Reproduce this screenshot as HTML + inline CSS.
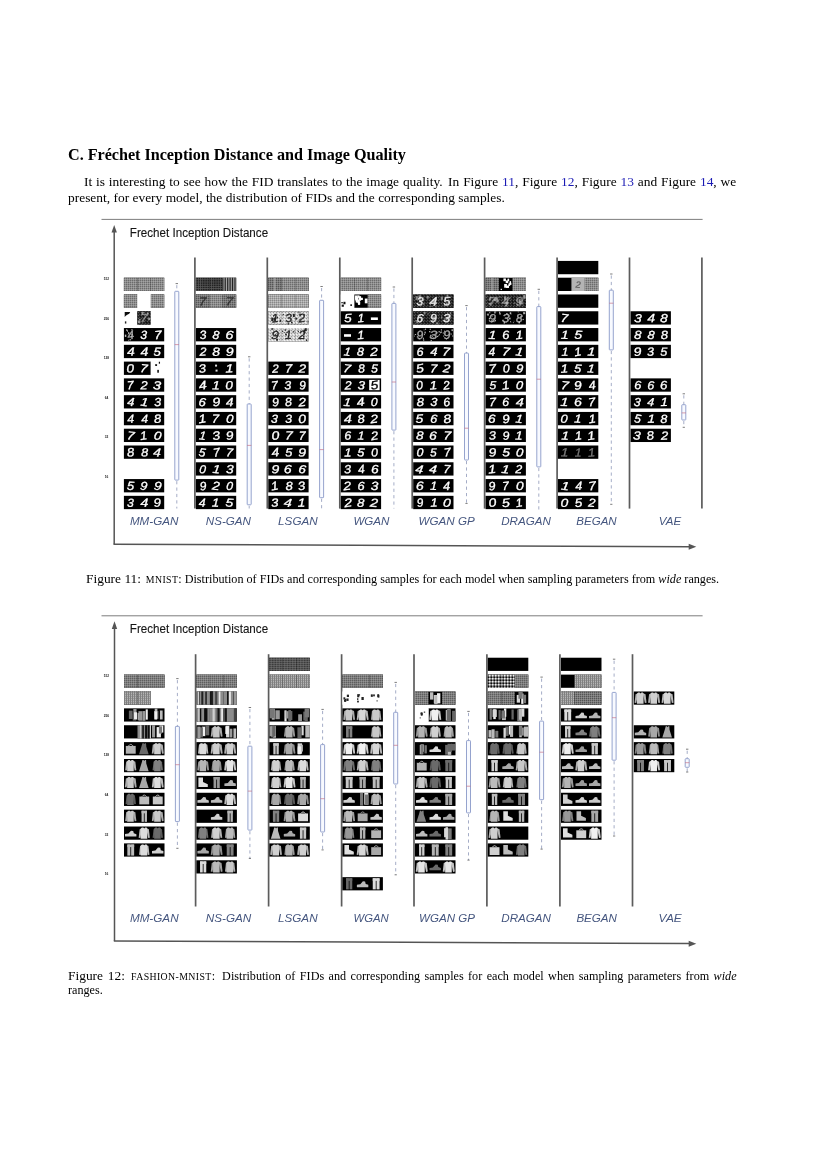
<!DOCTYPE html>
<html lang="en"><head><meta charset="utf-8"><title>Frechet Inception Distance and Image Quality</title>
<style>
html,body{margin:0;padding:0;background:#fff;}
body{width:827px;height:1169px;position:relative;overflow:hidden;font-family:"Liberation Serif",serif;color:#000;}
.t{position:absolute;white-space:nowrap;margin:0;will-change:transform;}
.h{font-weight:bold;font-size:16.17px;left:67.6px;top:146.0px;line-height:18px;letter-spacing:-0.02px;}
.p{font-size:13.43px;line-height:15.3px;}
.j{text-align:justify;text-align-last:justify;white-space:normal;}
.c{font-size:12.17px;line-height:14px;}
.c b.n{font-weight:normal;font-size:13.43px;margin-right:1.7px;}
.sc{font-size:9.8px;letter-spacing:0.4px;}
a{color:#1a1ab4;text-decoration:none;}
svg{position:absolute;left:0;top:0;will-change:transform;}
</style></head><body>
<h2 class="t h" id="hd">C. Fréchet Inception Distance and Image Quality</h2>
<p class="t p j" id="p1" style="left:84.2px;top:174.2px;width:652.2px;">It is interesting to see how the FID translates to the image quality<span style="margin-right:1.6px">.</span> In Figure <a>11</a>, Figure <a>12</a>, Figure <a>13</a> and Figure <a>14</a>, we</p>
<p class="t p" id="p2" style="left:67.6px;top:189.8px;">present, for every model, the distribution of FIDs and the corresponding samples.</p>
<p class="t c" id="c1" style="left:86.0px;top:571.5px;"><b class="n">Figure 11:</b> <span class="sc">MNIST</span>: Distribution of FIDs and corresponding samples for each model when sampling parameters from <i>wide</i> ranges.</p>
<p class="t c j" id="c2" style="left:67.8px;top:968.8px;width:668.6px;"><b class="n">Figure 12:</b> <span class="sc">FASHION-MNIST</span><span style="margin-right:2.6px">:</span> Distribution of FIDs and corresponding samples for each model when sampling parameters from <i>wide</i></p>
<p class="t c" id="c3" style="left:67.8px;top:982.6px;">ranges.</p>
<svg width="827" height="1169" viewBox="0 0 827 1169">
<defs>
<filter id="blur11" x="-2%" y="-2%" width="104%" height="104%"><feGaussianBlur stdDeviation="0.35"/></filter>
<filter id="blur12" x="-2%" y="-2%" width="104%" height="104%"><feGaussianBlur stdDeviation="0.45"/></filter>
<pattern id="pg" width="2" height="2" patternUnits="userSpaceOnUse"><rect width="2" height="2" fill="#8e8e8e"/><rect width="1" height="1" fill="#6c6c6c"/><rect x="1" y="1" width="1" height="1" fill="#a4a4a4"/></pattern>
<pattern id="ph" width="2" height="2" patternUnits="userSpaceOnUse"><rect width="2" height="2" fill="#a9a9a9"/><rect width="1" height="1" fill="#8a8a8a"/><rect x="1" y="1" width="1" height="1" fill="#c4c4c4"/></pattern>
<pattern id="pd" width="2.2" height="2.2" patternUnits="userSpaceOnUse"><rect width="2.2" height="2.2" fill="#242424"/><rect width="2.2" height="0.6" fill="#5c5c5c"/><rect width="0.6" height="2.2" fill="#5c5c5c"/></pattern>
<pattern id="pD" width="1.7" height="14" patternUnits="userSpaceOnUse"><rect width="1.7" height="14" fill="#1c1c1c"/><rect width="0.7" height="14" fill="#c8c8c8"/></pattern>
<pattern id="pm" width="2" height="2" patternUnits="userSpaceOnUse"><rect width="2" height="2" fill="#7a7a7a"/><rect width="1" height="1" fill="#555"/><rect x="1" y="1" width="1" height="1" fill="#909090"/></pattern>
<pattern id="pl" width="3" height="3" patternUnits="userSpaceOnUse"><rect width="3" height="3" fill="#d6d6d6"/><rect width="1" height="1" fill="#999"/><rect x="2" y="1" width="1" height="1" fill="#f4f4f4"/><rect x="1" y="2" width="1" height="1" fill="#b0b0b0"/></pattern>
<pattern id="pn" width="3" height="3" patternUnits="userSpaceOnUse"><rect width="3" height="3" fill="#262626"/><rect width="1" height="1" fill="#5a5a5a"/><rect x="2" y="1" width="1" height="1" fill="#0c0c0c"/><rect x="1" y="2" width="1" height="1" fill="#484848"/></pattern>
<pattern id="pN" width="3" height="3" patternUnits="userSpaceOnUse"><rect width="3" height="3" fill="#777"/><rect width="1.5" height="1.5" fill="#eee"/><rect x="1.5" y="1.5" width="1.5" height="1.5" fill="#111"/></pattern>
<pattern id="pg2" width="2" height="2" patternUnits="userSpaceOnUse"><rect width="2" height="2" fill="#7e7e7e"/><rect width="1" height="1" fill="#5e5e5e"/><rect x="1" y="1" width="1" height="1" fill="#949494"/></pattern>
<pattern id="ph2" width="2" height="2" patternUnits="userSpaceOnUse"><rect width="2" height="2" fill="#9a9a9a"/><rect width="1" height="2" fill="#808080"/><rect x="1" y="1" width="1" height="1" fill="#b4b4b4"/></pattern>
<pattern id="pd2" width="1.6" height="2" patternUnits="userSpaceOnUse"><rect width="1.6" height="2" fill="#5c5c5c"/><rect width="0.7" height="2" fill="#303030"/><rect y="1" width="1.6" height="0.5" fill="#7a7a7a"/></pattern>
</defs>
<line x1="101.5" y1="219.4" x2="702.6" y2="219.4" stroke="#6e6e6e" stroke-width="0.9"/>
<line x1="114.2" y1="228.4" x2="114.2" y2="544.2" stroke="#555" stroke-width="1.5"/>
<path d="M114.2 224.9 l-2.7 7.7 h5.4 z" fill="#555"/>
<line x1="113.5" y1="544.2" x2="690" y2="546.7" stroke="#555" stroke-width="1.5"/>
<path d="M696.3 546.75 l-7.6 -3 v6 z" fill="#555"/>
<line x1="194.9" y1="257.5" x2="194.9" y2="508.6" stroke="#5c5c5c" stroke-width="1.7"/>
<line x1="267.3" y1="257.5" x2="267.3" y2="508.6" stroke="#5c5c5c" stroke-width="1.7"/>
<line x1="339.8" y1="257.5" x2="339.8" y2="508.6" stroke="#5c5c5c" stroke-width="1.7"/>
<line x1="412.2" y1="257.5" x2="412.2" y2="508.6" stroke="#5c5c5c" stroke-width="1.7"/>
<line x1="484.6" y1="257.5" x2="484.6" y2="508.6" stroke="#5c5c5c" stroke-width="1.7"/>
<line x1="557.1" y1="257.5" x2="557.1" y2="508.6" stroke="#5c5c5c" stroke-width="1.7"/>
<line x1="629.5" y1="257.5" x2="629.5" y2="508.6" stroke="#5c5c5c" stroke-width="1.7"/>
<line x1="701.9" y1="257.5" x2="701.9" y2="508.6" stroke="#5c5c5c" stroke-width="1.7"/>
<text x="129.8" y="236.8" font-family="Liberation Sans, sans-serif" font-size="12.1" fill="#151515" stroke="#151515" stroke-width="0.12" textLength="138.3" lengthAdjust="spacingAndGlyphs">Frechet Inception Distance</text>
<text x="106.4" y="280.3" font-family="Liberation Sans, sans-serif" font-size="3.2" font-weight="bold" fill="#222" text-anchor="middle">512</text>
<text x="106.4" y="319.8" font-family="Liberation Sans, sans-serif" font-size="3.2" font-weight="bold" fill="#222" text-anchor="middle">256</text>
<text x="106.4" y="359.3" font-family="Liberation Sans, sans-serif" font-size="3.2" font-weight="bold" fill="#222" text-anchor="middle">128</text>
<text x="106.4" y="398.8" font-family="Liberation Sans, sans-serif" font-size="3.2" font-weight="bold" fill="#222" text-anchor="middle">64</text>
<text x="106.4" y="438.3" font-family="Liberation Sans, sans-serif" font-size="3.2" font-weight="bold" fill="#222" text-anchor="middle">32</text>
<text x="106.4" y="477.8" font-family="Liberation Sans, sans-serif" font-size="3.2" font-weight="bold" fill="#222" text-anchor="middle">16</text>
<g filter="url(#blur11)">
<g font-family="Liberation Sans, sans-serif" font-style="italic" text-anchor="middle">
<rect x="123.9" y="277.7" width="40.3" height="13.3" fill="#000"/>
<rect x="123.9" y="277.7" width="13.43" height="13.3" fill="url(#pg)"/>
<rect x="137.33" y="277.7" width="13.43" height="13.3" fill="url(#pg)"/>
<rect x="150.77" y="277.7" width="13.43" height="13.3" fill="url(#pg)"/>
<rect x="123.9" y="294.48" width="13.43" height="13.3" fill="#000"/>
<rect x="150.77" y="294.48" width="13.43" height="13.3" fill="#000"/>
<rect x="123.9" y="294.48" width="13.43" height="13.3" fill="url(#pg)"/>
<rect x="137.33" y="294.48" width="13.43" height="13.3" fill="#fff"/>
<rect x="150.77" y="294.48" width="13.43" height="13.3" fill="url(#pg)"/>
<rect x="137.33" y="311.26" width="13.43" height="13.3" fill="#000"/>
<rect x="123.9" y="311.26" width="13.43" height="13.3" fill="#fff"/>
<path d="M124.7 312.06 h5.5 q-0.5 2.2 -3 2.6 q-1.6 0.6 -2.5 2.4 z" fill="#0a0a0a"/>
<rect x="124.9" y="321.36" width="1.4" height="2.2" fill="#222"/>
<rect x="137.33" y="311.26" width="13.43" height="13.3" fill="url(#pn)"/>
<rect x="139.13" y="318.93" width="1.52" height="1.18" fill="#999"/>
<rect x="141.57" y="311.92" width="1.86" height="2.34" fill="#999"/>
<rect x="142.7" y="312.12" width="1.06" height="0.85" fill="#999"/>
<rect x="147.05" y="312.7" width="1.68" height="1.59" fill="#999"/>
<rect x="148.17" y="317.78" width="2" height="2.28" fill="#999"/>
<rect x="137.84" y="320.48" width="2.56" height="2.56" fill="#999"/>
<text transform="translate(144.05 317.91) rotate(-2.46) scale(1.12 1)" y="4.25" font-size="11.8" fill="#ccc" stroke="#ccc" stroke-width="0.3" opacity="0.6">7</text>
<rect x="150.77" y="311.26" width="13.43" height="13.3" fill="#fff"/>
<rect x="123.9" y="328.04" width="40.3" height="13.3" fill="#000"/>
<rect x="130.8" y="336.35" width="1.11" height="0.91" fill="#bbb"/>
<rect x="126.21" y="329.23" width="1.11" height="1.65" fill="#bbb"/>
<rect x="131.53" y="334.09" width="1.11" height="1.42" fill="#bbb"/>
<rect x="129.55" y="339.12" width="1.3" height="1.3" fill="#bbb"/>
<rect x="127.01" y="330.26" width="0.93" height="1.44" fill="#bbb"/>
<rect x="127.73" y="334.29" width="0.67" height="0.73" fill="#bbb"/>
<rect x="131.47" y="328.94" width="1" height="1.27" fill="#bbb"/>
<rect x="128.24" y="339.75" width="0.75" height="0.87" fill="#bbb"/>
<rect x="124.83" y="334.64" width="1.47" height="2.3" fill="#bbb"/>
<rect x="128.01" y="332.23" width="1.34" height="1.67" fill="#bbb"/>
<text transform="translate(130.62 334.69) rotate(-8.76) scale(1.02 1)" y="4.25" font-size="11.8" fill="#ddd" stroke="#ddd" stroke-width="0.3" opacity="0.75">4</text>
<text transform="translate(143.77 334.69) rotate(2.55) scale(1.01 1)" y="4.25" font-size="11.8" fill="#fff" stroke="#fff" stroke-width="0.3">3</text>
<text transform="translate(157.76 334.69) rotate(-4.43) scale(1.13 1)" y="4.25" font-size="11.8" fill="#fff" stroke="#fff" stroke-width="0.3">7</text>
<rect x="123.9" y="344.82" width="40.3" height="13.3" fill="#000"/>
<text transform="translate(130.83 351.47) rotate(-1.98) scale(1.16 1)" y="4.25" font-size="11.8" fill="#fff" stroke="#fff" stroke-width="0.3">4</text>
<text transform="translate(144.51 351.47) rotate(-3.75) scale(1.21 1)" y="4.25" font-size="11.8" fill="#fff" stroke="#fff" stroke-width="0.3">4</text>
<text transform="translate(157.31 351.47) rotate(1) scale(1.11 1)" y="4.25" font-size="11.8" fill="#fff" stroke="#fff" stroke-width="0.3">5</text>
<rect x="123.9" y="361.6" width="26.87" height="13.3" fill="#000"/>
<text transform="translate(130.28 368.25) rotate(-4.83) scale(1.16 1)" y="4.25" font-size="11.8" fill="#fff" stroke="#fff" stroke-width="0.3">0</text>
<text transform="translate(143.93 368.25) rotate(6.5) scale(1.11 1)" y="4.25" font-size="11.8" fill="#fff" stroke="#fff" stroke-width="0.3">7</text>
<rect x="150.77" y="361.6" width="13.43" height="13.3" fill="#fff"/>
<rect x="155.67" y="364.95" width="1.23" height="1.05" fill="#111"/>
<rect x="157.28" y="369.86" width="1.6" height="2.86" fill="#111"/>
<rect x="155.13" y="364.22" width="1.96" height="1.55" fill="#111"/>
<rect x="158.81" y="361.75" width="1.21" height="1.96" fill="#111"/>
<rect x="123.9" y="378.38" width="40.3" height="13.3" fill="#000"/>
<text transform="translate(130.24 385.03) rotate(-4.93) scale(1.03 1)" y="4.25" font-size="11.8" fill="#fff" stroke="#fff" stroke-width="0.3">7</text>
<text transform="translate(144.09 385.03) rotate(0.98) scale(1.07 1)" y="4.25" font-size="11.8" fill="#fff" stroke="#fff" stroke-width="0.3">2</text>
<text transform="translate(157.03 385.03) rotate(5.47) scale(1.21 1)" y="4.25" font-size="11.8" fill="#fff" stroke="#fff" stroke-width="0.3">3</text>
<rect x="123.9" y="395.16" width="40.3" height="13.3" fill="#000"/>
<text transform="translate(130.8 401.81) rotate(3.32) scale(1.1 1)" y="4.25" font-size="11.8" fill="#fff" stroke="#fff" stroke-width="0.3">4</text>
<text transform="translate(144.5 401.81) rotate(7.13) scale(1.15 1)" y="4.25" font-size="11.8" fill="#fff" stroke="#fff" stroke-width="0.3">1</text>
<text transform="translate(157.55 401.81) rotate(-2.83) scale(1.09 1)" y="4.25" font-size="11.8" fill="#fff" stroke="#fff" stroke-width="0.3">3</text>
<rect x="123.9" y="411.94" width="40.3" height="13.3" fill="#000"/>
<text transform="translate(130.59 418.59) rotate(-2.79) scale(1.04 1)" y="4.25" font-size="11.8" fill="#fff" stroke="#fff" stroke-width="0.3">4</text>
<text transform="translate(144.63 418.59) rotate(-2.07) scale(1.02 1)" y="4.25" font-size="11.8" fill="#fff" stroke="#fff" stroke-width="0.3">4</text>
<text transform="translate(157.6 418.59) rotate(-8.16) scale(1.12 1)" y="4.25" font-size="11.8" fill="#fff" stroke="#fff" stroke-width="0.3">8</text>
<rect x="123.9" y="428.72" width="40.3" height="13.3" fill="#000"/>
<text transform="translate(130.66 435.37) rotate(7.08) scale(1.14 1)" y="4.25" font-size="11.8" fill="#fff" stroke="#fff" stroke-width="0.3">7</text>
<text transform="translate(143.53 435.37) rotate(-6.26) scale(1.08 1)" y="4.25" font-size="11.8" fill="#fff" stroke="#fff" stroke-width="0.3">1</text>
<text transform="translate(157.64 435.37) rotate(7.2) scale(1.13 1)" y="4.25" font-size="11.8" fill="#fff" stroke="#fff" stroke-width="0.3">0</text>
<rect x="123.9" y="445.5" width="40.3" height="13.3" fill="#000"/>
<text transform="translate(130.59 452.15) rotate(-7.92) scale(1.11 1)" y="4.25" font-size="11.8" fill="#fff" stroke="#fff" stroke-width="0.3">8</text>
<text transform="translate(144.62 452.15) rotate(-1.35) scale(1.07 1)" y="4.25" font-size="11.8" fill="#fff" stroke="#fff" stroke-width="0.3">8</text>
<text transform="translate(157.06 452.15) rotate(3.49) scale(1.16 1)" y="4.25" font-size="11.8" fill="#fff" stroke="#fff" stroke-width="0.3">4</text>
<rect x="123.9" y="479.06" width="40.3" height="13.3" fill="#000"/>
<text transform="translate(130.59 485.71) rotate(2.46) scale(1.11 1)" y="4.25" font-size="11.8" fill="#fff" stroke="#fff" stroke-width="0.3">5</text>
<text transform="translate(143.7 485.71) rotate(7.14) scale(1.08 1)" y="4.25" font-size="11.8" fill="#fff" stroke="#fff" stroke-width="0.3">9</text>
<text transform="translate(157.71 485.71) rotate(6.45) scale(1.17 1)" y="4.25" font-size="11.8" fill="#fff" stroke="#fff" stroke-width="0.3">9</text>
<rect x="123.9" y="495.84" width="40.3" height="13.3" fill="#000"/>
<text transform="translate(130.37 502.49) rotate(1.57) scale(1.02 1)" y="4.25" font-size="11.8" fill="#fff" stroke="#fff" stroke-width="0.3">3</text>
<text transform="translate(144.46 502.49) rotate(-0.67) scale(1.2 1)" y="4.25" font-size="11.8" fill="#fff" stroke="#fff" stroke-width="0.3">4</text>
<text transform="translate(157.31 502.49) rotate(-5.99) scale(1.12 1)" y="4.25" font-size="11.8" fill="#fff" stroke="#fff" stroke-width="0.3">9</text>
<rect x="195.9" y="277.7" width="40.3" height="13.3" fill="#000"/>
<rect x="195.9" y="277.7" width="13.43" height="13.3" fill="url(#pd)"/>
<rect x="209.33" y="277.7" width="13.43" height="13.3" fill="url(#pd)"/>
<rect x="222.77" y="277.7" width="13.43" height="13.3" fill="url(#pD)"/>
<rect x="195.9" y="294.48" width="40.3" height="13.3" fill="#000"/>
<rect x="195.9" y="294.48" width="13.43" height="13.3" fill="url(#pm)"/>
<text transform="translate(202.62 301.13) rotate(-0.95) scale(1.14 1)" y="4.25" font-size="11.8" fill="#222" stroke="#222" stroke-width="0.3" opacity="0.8">7</text>
<rect x="209.33" y="294.48" width="13.43" height="13.3" fill="url(#pg)"/>
<rect x="222.77" y="294.48" width="13.43" height="13.3" fill="url(#pm)"/>
<text transform="translate(229.48 301.13) rotate(1.04) scale(1.17 1)" y="4.25" font-size="11.8" fill="#222" stroke="#222" stroke-width="0.3" opacity="0.8">7</text>
<rect x="195.9" y="328.04" width="40.3" height="13.3" fill="#000"/>
<text transform="translate(202.93 334.69) rotate(-6.49) scale(1.05 1)" y="4.25" font-size="11.8" fill="#fff" stroke="#fff" stroke-width="0.3">3</text>
<text transform="translate(215.93 334.69) rotate(4.46) scale(1.04 1)" y="4.25" font-size="11.8" fill="#fff" stroke="#fff" stroke-width="0.3">8</text>
<text transform="translate(229.47 334.69) rotate(3.16) scale(1.22 1)" y="4.25" font-size="11.8" fill="#fff" stroke="#fff" stroke-width="0.3">6</text>
<rect x="195.9" y="344.82" width="40.3" height="13.3" fill="#000"/>
<text transform="translate(202.96 351.47) rotate(-1.5) scale(1.04 1)" y="4.25" font-size="11.8" fill="#fff" stroke="#fff" stroke-width="0.3">2</text>
<text transform="translate(216.18 351.47) rotate(-3.8) scale(1.18 1)" y="4.25" font-size="11.8" fill="#fff" stroke="#fff" stroke-width="0.3">8</text>
<text transform="translate(229.75 351.47) rotate(-3.71) scale(1.21 1)" y="4.25" font-size="11.8" fill="#fff" stroke="#fff" stroke-width="0.3">9</text>
<rect x="195.9" y="361.6" width="40.3" height="13.3" fill="#000"/>
<text transform="translate(202.11 368.25) rotate(-8.16) scale(1.1 1)" y="4.25" font-size="11.8" fill="#fff" stroke="#fff" stroke-width="0.3">3</text>
<rect x="215.05" y="364.6" width="2" height="2" fill="#ddd"/>
<rect x="215.55" y="369.6" width="2" height="2" fill="#ddd"/>
<text transform="translate(229.29 368.25) rotate(-1.31) scale(1.22 1)" y="4.25" font-size="11.8" fill="#fff" stroke="#fff" stroke-width="0.3">1</text>
<rect x="195.9" y="378.38" width="40.3" height="13.3" fill="#000"/>
<text transform="translate(202.75 385.03) rotate(-9.97) scale(1.2 1)" y="4.25" font-size="11.8" fill="#fff" stroke="#fff" stroke-width="0.3">4</text>
<text transform="translate(215.86 385.03) rotate(1.58) scale(1.18 1)" y="4.25" font-size="11.8" fill="#fff" stroke="#fff" stroke-width="0.3">1</text>
<text transform="translate(229.03 385.03) rotate(-3.01) scale(1.16 1)" y="4.25" font-size="11.8" fill="#fff" stroke="#fff" stroke-width="0.3">0</text>
<rect x="195.9" y="395.16" width="40.3" height="13.3" fill="#000"/>
<text transform="translate(202.26 401.81) rotate(6) scale(1.1 1)" y="4.25" font-size="11.8" fill="#fff" stroke="#fff" stroke-width="0.3">6</text>
<text transform="translate(216.21 401.81) rotate(-8.44) scale(1.21 1)" y="4.25" font-size="11.8" fill="#fff" stroke="#fff" stroke-width="0.3">9</text>
<text transform="translate(229.75 401.81) rotate(-1.66) scale(1.16 1)" y="4.25" font-size="11.8" fill="#fff" stroke="#fff" stroke-width="0.3">4</text>
<rect x="195.9" y="411.94" width="40.3" height="13.3" fill="#000"/>
<text transform="translate(202.12 418.59) rotate(-7.14) scale(1.22 1)" y="4.25" font-size="11.8" fill="#fff" stroke="#fff" stroke-width="0.3">1</text>
<text transform="translate(215.48 418.59) rotate(0.63) scale(1.1 1)" y="4.25" font-size="11.8" fill="#fff" stroke="#fff" stroke-width="0.3">7</text>
<text transform="translate(229.67 418.59) rotate(1.01) scale(1.13 1)" y="4.25" font-size="11.8" fill="#fff" stroke="#fff" stroke-width="0.3">0</text>
<rect x="195.9" y="428.72" width="40.3" height="13.3" fill="#000"/>
<text transform="translate(202.59 435.37) rotate(6.87) scale(1.03 1)" y="4.25" font-size="11.8" fill="#fff" stroke="#fff" stroke-width="0.3">1</text>
<text transform="translate(216.11 435.37) rotate(-9.61) scale(1.18 1)" y="4.25" font-size="11.8" fill="#fff" stroke="#fff" stroke-width="0.3">3</text>
<text transform="translate(229.75 435.37) rotate(-8.15) scale(1.16 1)" y="4.25" font-size="11.8" fill="#fff" stroke="#fff" stroke-width="0.3">9</text>
<rect x="195.9" y="445.5" width="40.3" height="13.3" fill="#000"/>
<text transform="translate(202.18 452.15) rotate(7.76) scale(1.04 1)" y="4.25" font-size="11.8" fill="#fff" stroke="#fff" stroke-width="0.3">5</text>
<text transform="translate(216.5 452.15) rotate(-9.5) scale(1.05 1)" y="4.25" font-size="11.8" fill="#fff" stroke="#fff" stroke-width="0.3">7</text>
<text transform="translate(229.48 452.15) rotate(3.75) scale(1.07 1)" y="4.25" font-size="11.8" fill="#fff" stroke="#fff" stroke-width="0.3">7</text>
<rect x="195.9" y="462.28" width="40.3" height="13.3" fill="#000"/>
<text transform="translate(202.67 468.93) rotate(5.02) scale(1.01 1)" y="4.25" font-size="11.8" fill="#fff" stroke="#fff" stroke-width="0.3">0</text>
<text transform="translate(216.34 468.93) rotate(6.16) scale(1.15 1)" y="4.25" font-size="11.8" fill="#fff" stroke="#fff" stroke-width="0.3">1</text>
<text transform="translate(229.86 468.93) rotate(-0.7) scale(1.18 1)" y="4.25" font-size="11.8" fill="#fff" stroke="#fff" stroke-width="0.3">3</text>
<rect x="195.9" y="479.06" width="40.3" height="13.3" fill="#000"/>
<text transform="translate(203.07 485.71) rotate(-7.65) scale(1.03 1)" y="4.25" font-size="11.8" fill="#fff" stroke="#fff" stroke-width="0.3">9</text>
<text transform="translate(216.06 485.71) rotate(5.71) scale(1.17 1)" y="4.25" font-size="11.8" fill="#fff" stroke="#fff" stroke-width="0.3">2</text>
<text transform="translate(229.61 485.71) rotate(3.97) scale(1.03 1)" y="4.25" font-size="11.8" fill="#fff" stroke="#fff" stroke-width="0.3">0</text>
<rect x="195.9" y="495.84" width="40.3" height="13.3" fill="#000"/>
<text transform="translate(202.19 502.49) rotate(1.14) scale(1.03 1)" y="4.25" font-size="11.8" fill="#fff" stroke="#fff" stroke-width="0.3">4</text>
<text transform="translate(215.52 502.49) rotate(2.28) scale(1.12 1)" y="4.25" font-size="11.8" fill="#fff" stroke="#fff" stroke-width="0.3">1</text>
<text transform="translate(229.46 502.49) rotate(3.98) scale(1.19 1)" y="4.25" font-size="11.8" fill="#fff" stroke="#fff" stroke-width="0.3">5</text>
<rect x="268.3" y="277.7" width="40.3" height="13.3" fill="#000"/>
<rect x="268.3" y="277.7" width="13.43" height="13.3" fill="url(#pm)"/>
<rect x="274.35" y="277.7" width="0.9" height="13.3" fill="#b0b0b0"/>
<rect x="281.73" y="277.7" width="13.43" height="13.3" fill="url(#pg)"/>
<rect x="295.17" y="277.7" width="13.43" height="13.3" fill="url(#pg)"/>
<rect x="268.3" y="294.48" width="40.3" height="13.3" fill="#000"/>
<rect x="268.3" y="294.48" width="13.43" height="13.3" fill="url(#ph)"/>
<rect x="281.73" y="294.48" width="13.43" height="13.3" fill="url(#ph)"/>
<rect x="295.17" y="294.48" width="13.43" height="13.3" fill="url(#ph)"/>
<rect x="268.3" y="311.26" width="40.3" height="13.3" fill="#000"/>
<rect x="268.3" y="311.26" width="13.43" height="13.3" fill="url(#pl)"/>
<text transform="translate(275.02 317.91) rotate(-5.53) scale(1.06 1)" y="4.25" font-size="11.8" fill="#111" stroke="#111" stroke-width="0.3" opacity="0.9">1</text>
<rect x="274.24" y="317.76" width="1.73" height="2.65" fill="#222"/>
<rect x="273.41" y="318.25" width="1.89" height="2.38" fill="#222"/>
<rect x="276.63" y="316.64" width="1.41" height="1.82" fill="#222"/>
<rect x="279.65" y="319.6" width="1.37" height="2.29" fill="#222"/>
<rect x="271.29" y="317.62" width="1.93" height="3.35" fill="#222"/>
<rect x="281.73" y="311.26" width="13.43" height="13.3" fill="url(#pl)"/>
<text transform="translate(288.45 317.91) rotate(-7.53) scale(1.03 1)" y="4.25" font-size="11.8" fill="#111" stroke="#111" stroke-width="0.3" opacity="0.9">3</text>
<rect x="282.61" y="314.14" width="1.33" height="1.04" fill="#222"/>
<rect x="291.01" y="321.75" width="1.6" height="1.6" fill="#222"/>
<rect x="290.65" y="319.39" width="0.99" height="0.84" fill="#222"/>
<rect x="292.93" y="313.77" width="1.86" height="3.25" fill="#222"/>
<rect x="287.66" y="323.16" width="1.28" height="1.28" fill="#222"/>
<rect x="295.17" y="311.26" width="13.43" height="13.3" fill="url(#pl)"/>
<text transform="translate(301.88 317.91) rotate(-7.09) scale(1.09 1)" y="4.25" font-size="11.8" fill="#111" stroke="#111" stroke-width="0.3" opacity="0.9">2</text>
<rect x="299.24" y="313.59" width="1.42" height="1.49" fill="#222"/>
<rect x="295.4" y="317.71" width="1.67" height="1.97" fill="#222"/>
<rect x="299.35" y="319.05" width="0.82" height="1.04" fill="#222"/>
<rect x="307.54" y="321.05" width="0.88" height="1.55" fill="#222"/>
<rect x="298.49" y="311.75" width="0.93" height="1.44" fill="#222"/>
<rect x="268.3" y="328.04" width="40.3" height="13.3" fill="#000"/>
<rect x="268.3" y="328.04" width="13.43" height="13.3" fill="url(#pl)"/>
<text transform="translate(275.02 334.69) rotate(3.6) scale(1.18 1)" y="4.25" font-size="11.8" fill="#111" stroke="#111" stroke-width="0.3" opacity="0.9">9</text>
<rect x="276.15" y="338.9" width="1.82" height="1.82" fill="#222"/>
<rect x="274.82" y="334.22" width="1.29" height="1.6" fill="#222"/>
<rect x="271.72" y="337.72" width="1.19" height="1.08" fill="#222"/>
<rect x="271.41" y="328.23" width="1.87" height="1.49" fill="#222"/>
<rect x="275.79" y="330.75" width="1.11" height="1.1" fill="#222"/>
<rect x="281.73" y="328.04" width="13.43" height="13.3" fill="url(#pl)"/>
<text transform="translate(288.45 334.69) rotate(-1.83) scale(1.07 1)" y="4.25" font-size="11.8" fill="#111" stroke="#111" stroke-width="0.3" opacity="0.9">1</text>
<rect x="292.83" y="331.21" width="1.46" height="1.23" fill="#222"/>
<rect x="284.59" y="329.34" width="1.43" height="1.26" fill="#222"/>
<rect x="284.27" y="331.92" width="0.86" height="0.89" fill="#222"/>
<rect x="285.13" y="333.84" width="1.71" height="1.53" fill="#222"/>
<rect x="281.96" y="331.07" width="1.22" height="0.87" fill="#222"/>
<rect x="295.17" y="328.04" width="13.43" height="13.3" fill="url(#pl)"/>
<text transform="translate(301.88 334.69) rotate(-0.74) scale(1.05 1)" y="4.25" font-size="11.8" fill="#111" stroke="#111" stroke-width="0.3" opacity="0.9">2</text>
<rect x="303.13" y="335.82" width="1.34" height="1.9" fill="#222"/>
<rect x="305.81" y="339.53" width="1.46" height="1.46" fill="#222"/>
<rect x="297.81" y="330.82" width="1.17" height="1.07" fill="#222"/>
<rect x="303.6" y="329.64" width="1.86" height="3.32" fill="#222"/>
<rect x="304.75" y="328.2" width="1.98" height="2.75" fill="#222"/>
<rect x="268.3" y="361.6" width="40.3" height="13.3" fill="#000"/>
<text transform="translate(275.47 368.25) rotate(-2.25) scale(1.01 1)" y="4.25" font-size="11.8" fill="#fff" stroke="#fff" stroke-width="0.3">2</text>
<text transform="translate(288.65 368.25) rotate(-3.14) scale(1.11 1)" y="4.25" font-size="11.8" fill="#fff" stroke="#fff" stroke-width="0.3">7</text>
<text transform="translate(302.45 368.25) rotate(0.78) scale(1.15 1)" y="4.25" font-size="11.8" fill="#fff" stroke="#fff" stroke-width="0.3">2</text>
<rect x="268.3" y="378.38" width="40.3" height="13.3" fill="#000"/>
<text transform="translate(274.47 385.03) rotate(-6.66) scale(1.06 1)" y="4.25" font-size="11.8" fill="#fff" stroke="#fff" stroke-width="0.3">7</text>
<text transform="translate(287.85 385.03) rotate(-3.45) scale(1.07 1)" y="4.25" font-size="11.8" fill="#fff" stroke="#fff" stroke-width="0.3">3</text>
<text transform="translate(302.47 385.03) rotate(-4.18) scale(1.01 1)" y="4.25" font-size="11.8" fill="#fff" stroke="#fff" stroke-width="0.3">9</text>
<rect x="268.3" y="395.16" width="40.3" height="13.3" fill="#000"/>
<text transform="translate(275.48 401.81) rotate(-6.08) scale(1.04 1)" y="4.25" font-size="11.8" fill="#fff" stroke="#fff" stroke-width="0.3">9</text>
<text transform="translate(288.25 401.81) rotate(-8.49) scale(1.06 1)" y="4.25" font-size="11.8" fill="#fff" stroke="#fff" stroke-width="0.3">8</text>
<text transform="translate(302.07 401.81) rotate(-5.53) scale(1.17 1)" y="4.25" font-size="11.8" fill="#fff" stroke="#fff" stroke-width="0.3">2</text>
<rect x="268.3" y="411.94" width="40.3" height="13.3" fill="#000"/>
<text transform="translate(274.53 418.59) rotate(4.71) scale(1.03 1)" y="4.25" font-size="11.8" fill="#fff" stroke="#fff" stroke-width="0.3">3</text>
<text transform="translate(288.55 418.59) rotate(-2.91) scale(1.07 1)" y="4.25" font-size="11.8" fill="#fff" stroke="#fff" stroke-width="0.3">3</text>
<text transform="translate(302.04 418.59) rotate(-8.48) scale(1.21 1)" y="4.25" font-size="11.8" fill="#fff" stroke="#fff" stroke-width="0.3">0</text>
<rect x="268.3" y="428.72" width="40.3" height="13.3" fill="#000"/>
<text transform="translate(275.44 435.37) rotate(-7.21) scale(1.2 1)" y="4.25" font-size="11.8" fill="#fff" stroke="#fff" stroke-width="0.3">0</text>
<text transform="translate(288.79 435.37) rotate(0.74) scale(1.17 1)" y="4.25" font-size="11.8" fill="#fff" stroke="#fff" stroke-width="0.3">7</text>
<text transform="translate(302.15 435.37) rotate(-1.1) scale(1.06 1)" y="4.25" font-size="11.8" fill="#fff" stroke="#fff" stroke-width="0.3">7</text>
<rect x="268.3" y="445.5" width="40.3" height="13.3" fill="#000"/>
<text transform="translate(275.16 452.15) rotate(-7.39) scale(1.18 1)" y="4.25" font-size="11.8" fill="#fff" stroke="#fff" stroke-width="0.3">4</text>
<text transform="translate(288.71 452.15) rotate(-0.77) scale(1.09 1)" y="4.25" font-size="11.8" fill="#fff" stroke="#fff" stroke-width="0.3">5</text>
<text transform="translate(302.12 452.15) rotate(-0.9) scale(1.2 1)" y="4.25" font-size="11.8" fill="#fff" stroke="#fff" stroke-width="0.3">9</text>
<rect x="268.3" y="462.28" width="40.3" height="13.3" fill="#000"/>
<text transform="translate(275.32 468.93) rotate(0.23) scale(1.18 1)" y="4.25" font-size="11.8" fill="#fff" stroke="#fff" stroke-width="0.3">9</text>
<text transform="translate(287.87 468.93) rotate(2.36) scale(1.18 1)" y="4.25" font-size="11.8" fill="#fff" stroke="#fff" stroke-width="0.3">6</text>
<text transform="translate(302.14 468.93) rotate(7.21) scale(1.14 1)" y="4.25" font-size="11.8" fill="#fff" stroke="#fff" stroke-width="0.3">6</text>
<rect x="268.3" y="479.06" width="40.3" height="13.3" fill="#000"/>
<text transform="translate(274.52 485.71) rotate(-9.25) scale(1.14 1)" y="4.25" font-size="11.8" fill="#fff" stroke="#fff" stroke-width="0.3">1</text>
<text transform="translate(289 485.71) rotate(-3.22) scale(1.1 1)" y="4.25" font-size="11.8" fill="#fff" stroke="#fff" stroke-width="0.3">8</text>
<text transform="translate(301.34 485.71) rotate(-9.66) scale(1.12 1)" y="4.25" font-size="11.8" fill="#fff" stroke="#fff" stroke-width="0.3">3</text>
<rect x="268.3" y="495.84" width="40.3" height="13.3" fill="#000"/>
<text transform="translate(274.71 502.49) rotate(-5.25) scale(1.1 1)" y="4.25" font-size="11.8" fill="#fff" stroke="#fff" stroke-width="0.3">3</text>
<text transform="translate(287.93 502.49) rotate(6.79) scale(1.2 1)" y="4.25" font-size="11.8" fill="#fff" stroke="#fff" stroke-width="0.3">4</text>
<text transform="translate(301.39 502.49) rotate(-0.53) scale(1.16 1)" y="4.25" font-size="11.8" fill="#fff" stroke="#fff" stroke-width="0.3">1</text>
<rect x="340.8" y="277.7" width="40.3" height="13.3" fill="#000"/>
<rect x="340.8" y="277.7" width="13.43" height="13.3" fill="url(#pg)"/>
<rect x="354.23" y="277.7" width="13.43" height="13.3" fill="url(#pg)"/>
<rect x="367.67" y="277.7" width="13.43" height="13.3" fill="url(#pg)"/>
<rect x="354.23" y="294.48" width="26.87" height="13.3" fill="#000"/>
<rect x="340.8" y="294.48" width="13.43" height="13.3" fill="#fff"/>
<rect x="350.32" y="304.33" width="1.66" height="1.59" fill="#111"/>
<rect x="343.42" y="301.79" width="2.06" height="2.48" fill="#111"/>
<rect x="341.66" y="304.6" width="2.18" height="2.18" fill="#111"/>
<rect x="341.36" y="302.01" width="1.4" height="1.29" fill="#111"/>
<rect x="357.97" y="301.74" width="2.16" height="3.16" fill="#fff"/>
<rect x="355.73" y="299.84" width="2.19" height="2.71" fill="#fff"/>
<rect x="355.3" y="296.78" width="2.76" height="3.41" fill="#fff"/>
<rect x="357.4" y="299.59" width="2.33" height="3.6" fill="#fff"/>
<rect x="360.08" y="297.76" width="2.79" height="2.22" fill="#fff"/>
<rect x="357.56" y="295.35" width="1.96" height="2.46" fill="#fff"/>
<rect x="364.81" y="298.55" width="2.79" height="4.77" fill="#fff"/>
<rect x="355.04" y="295.44" width="2.69" height="4.09" fill="#fff"/>
<rect x="358.48" y="301.53" width="1.62" height="2.26" fill="#fff"/>
<rect x="355.56" y="298.74" width="1.65" height="2.06" fill="#fff"/>
<rect x="358.5" y="296.18" width="2.6" height="4.54" fill="#fff"/>
<rect x="367.67" y="294.48" width="13.43" height="13.3" fill="url(#pg)"/>
<rect x="340.8" y="311.26" width="40.3" height="13.3" fill="#000"/>
<text transform="translate(347.73 317.91) rotate(-2.7) scale(1.16 1)" y="4.25" font-size="11.8" fill="#fff" stroke="#fff" stroke-width="0.3">5</text>
<text transform="translate(360.85 317.91) rotate(-3.23) scale(1.03 1)" y="4.25" font-size="11.8" fill="#fff" stroke="#fff" stroke-width="0.3">1</text>
<rect x="370.88" y="317.41" width="7" height="2.6" fill="#fff"/>
<rect x="340.8" y="328.04" width="40.3" height="13.3" fill="#000"/>
<rect x="344.02" y="334.19" width="7" height="2.6" fill="#fff"/>
<text transform="translate(360.75 334.69) rotate(-4.16) scale(1.07 1)" y="4.25" font-size="11.8" fill="#fff" stroke="#fff" stroke-width="0.3">1</text>
<rect x="340.8" y="344.82" width="40.3" height="13.3" fill="#000"/>
<text transform="translate(347.39 351.47) rotate(6.92) scale(1.04 1)" y="4.25" font-size="11.8" fill="#fff" stroke="#fff" stroke-width="0.3">1</text>
<text transform="translate(360.36 351.47) rotate(3.32) scale(1.06 1)" y="4.25" font-size="11.8" fill="#fff" stroke="#fff" stroke-width="0.3">8</text>
<text transform="translate(373.86 351.47) rotate(-2.98) scale(1.19 1)" y="4.25" font-size="11.8" fill="#fff" stroke="#fff" stroke-width="0.3">2</text>
<rect x="340.8" y="361.6" width="40.3" height="13.3" fill="#000"/>
<text transform="translate(347.01 368.25) rotate(6.66) scale(1.17 1)" y="4.25" font-size="11.8" fill="#fff" stroke="#fff" stroke-width="0.3">7</text>
<text transform="translate(361.38 368.25) rotate(-4.95) scale(1.01 1)" y="4.25" font-size="11.8" fill="#fff" stroke="#fff" stroke-width="0.3">8</text>
<text transform="translate(374.58 368.25) rotate(1.43) scale(1.03 1)" y="4.25" font-size="11.8" fill="#fff" stroke="#fff" stroke-width="0.3">5</text>
<rect x="340.8" y="378.38" width="40.3" height="13.3" fill="#000"/>
<text transform="translate(348.08 385.03) rotate(-2.15) scale(1.07 1)" y="4.25" font-size="11.8" fill="#fff" stroke="#fff" stroke-width="0.3">2</text>
<text transform="translate(361.28 385.03) rotate(4.13) scale(1.09 1)" y="4.25" font-size="11.8" fill="#fff" stroke="#fff" stroke-width="0.3">3</text>
<rect x="369.17" y="379.88" width="10.43" height="10.3" fill="#fff"/>
<text transform="translate(374.38 385.03) rotate(-9.48) scale(1.17 1)" y="4.25" font-size="11.8" fill="#000" stroke="#000" stroke-width="0.3">5</text>
<rect x="340.8" y="395.16" width="40.3" height="13.3" fill="#000"/>
<text transform="translate(347.4 401.81) rotate(5.76) scale(1.12 1)" y="4.25" font-size="11.8" fill="#fff" stroke="#fff" stroke-width="0.3">1</text>
<text transform="translate(360.59 401.81) rotate(-8.55) scale(1.21 1)" y="4.25" font-size="11.8" fill="#fff" stroke="#fff" stroke-width="0.3">4</text>
<text transform="translate(374.28 401.81) rotate(1.07) scale(1.03 1)" y="4.25" font-size="11.8" fill="#fff" stroke="#fff" stroke-width="0.3">0</text>
<rect x="340.8" y="411.94" width="40.3" height="13.3" fill="#000"/>
<text transform="translate(347.96 418.59) rotate(-1.26) scale(1.2 1)" y="4.25" font-size="11.8" fill="#fff" stroke="#fff" stroke-width="0.3">4</text>
<text transform="translate(361.01 418.59) rotate(-6.93) scale(1.09 1)" y="4.25" font-size="11.8" fill="#fff" stroke="#fff" stroke-width="0.3">8</text>
<text transform="translate(374.12 418.59) rotate(-5.4) scale(1.16 1)" y="4.25" font-size="11.8" fill="#fff" stroke="#fff" stroke-width="0.3">2</text>
<rect x="340.8" y="428.72" width="40.3" height="13.3" fill="#000"/>
<text transform="translate(347.7 435.37) rotate(-2.69) scale(1.05 1)" y="4.25" font-size="11.8" fill="#fff" stroke="#fff" stroke-width="0.3">6</text>
<text transform="translate(360.93 435.37) rotate(2.04) scale(1.03 1)" y="4.25" font-size="11.8" fill="#fff" stroke="#fff" stroke-width="0.3">1</text>
<text transform="translate(374.56 435.37) rotate(-8.65) scale(1.11 1)" y="4.25" font-size="11.8" fill="#fff" stroke="#fff" stroke-width="0.3">2</text>
<rect x="340.8" y="445.5" width="40.3" height="13.3" fill="#000"/>
<text transform="translate(347.89 452.15) rotate(-0.09) scale(1.1 1)" y="4.25" font-size="11.8" fill="#fff" stroke="#fff" stroke-width="0.3">1</text>
<text transform="translate(360.75 452.15) rotate(3.67) scale(1.09 1)" y="4.25" font-size="11.8" fill="#fff" stroke="#fff" stroke-width="0.3">5</text>
<text transform="translate(374.44 452.15) rotate(-5.61) scale(1.04 1)" y="4.25" font-size="11.8" fill="#fff" stroke="#fff" stroke-width="0.3">0</text>
<rect x="340.8" y="462.28" width="40.3" height="13.3" fill="#000"/>
<text transform="translate(347.58 468.93) rotate(-4.25) scale(1.08 1)" y="4.25" font-size="11.8" fill="#fff" stroke="#fff" stroke-width="0.3">3</text>
<text transform="translate(361.32 468.93) rotate(-6.36) scale(1 1)" y="4.25" font-size="11.8" fill="#fff" stroke="#fff" stroke-width="0.3">4</text>
<text transform="translate(374.83 468.93) rotate(-3.11) scale(1.16 1)" y="4.25" font-size="11.8" fill="#fff" stroke="#fff" stroke-width="0.3">6</text>
<rect x="340.8" y="479.06" width="40.3" height="13.3" fill="#000"/>
<text transform="translate(347.17 485.71) rotate(-5.14) scale(1.17 1)" y="4.25" font-size="11.8" fill="#fff" stroke="#fff" stroke-width="0.3">2</text>
<text transform="translate(360.95 485.71) rotate(0.34) scale(1.08 1)" y="4.25" font-size="11.8" fill="#fff" stroke="#fff" stroke-width="0.3">6</text>
<text transform="translate(374.61 485.71) rotate(-0.47) scale(1.17 1)" y="4.25" font-size="11.8" fill="#fff" stroke="#fff" stroke-width="0.3">3</text>
<rect x="340.8" y="495.84" width="40.3" height="13.3" fill="#000"/>
<text transform="translate(347.94 502.49) rotate(-8.33) scale(1.2 1)" y="4.25" font-size="11.8" fill="#fff" stroke="#fff" stroke-width="0.3">2</text>
<text transform="translate(360.81 502.49) rotate(1.62) scale(1.1 1)" y="4.25" font-size="11.8" fill="#fff" stroke="#fff" stroke-width="0.3">8</text>
<text transform="translate(374.16 502.49) rotate(4.66) scale(1.21 1)" y="4.25" font-size="11.8" fill="#fff" stroke="#fff" stroke-width="0.3">2</text>
<rect x="413.2" y="294.48" width="40.3" height="13.3" fill="#000"/>
<rect x="413.2" y="294.48" width="13.43" height="13.3" fill="url(#pn)"/>
<rect x="418.41" y="303.74" width="1.18" height="1.87" fill="#8a8a8a"/>
<rect x="418.63" y="295.28" width="2.36" height="4.06" fill="#8a8a8a"/>
<rect x="419.08" y="299.63" width="2.3" height="2.75" fill="#8a8a8a"/>
<rect x="415.74" y="296.18" width="2.1" height="3.71" fill="#8a8a8a"/>
<rect x="423.34" y="303" width="1.15" height="1.88" fill="#8a8a8a"/>
<text transform="translate(419.92 301.13) rotate(6.11) scale(1.02 1)" y="4.25" font-size="11.8" fill="#fff" stroke="#fff" stroke-width="0.3" opacity="0.9">3</text>
<rect x="426.63" y="294.48" width="13.43" height="13.3" fill="url(#pn)"/>
<rect x="426.65" y="295.89" width="2.09" height="2.77" fill="#8a8a8a"/>
<rect x="435.49" y="306.27" width="1.05" height="1.05" fill="#8a8a8a"/>
<rect x="432.74" y="299.48" width="1.88" height="2.89" fill="#8a8a8a"/>
<rect x="430.33" y="305.95" width="1.14" height="1.14" fill="#8a8a8a"/>
<rect x="429.81" y="303.99" width="1.27" height="0.89" fill="#8a8a8a"/>
<text transform="translate(433.35 301.13) rotate(-0.33) scale(1.22 1)" y="4.25" font-size="11.8" fill="#fff" stroke="#fff" stroke-width="0.3" opacity="0.9">4</text>
<rect x="440.07" y="294.48" width="13.43" height="13.3" fill="url(#pn)"/>
<rect x="443.88" y="304.48" width="1.39" height="1.34" fill="#8a8a8a"/>
<rect x="446.46" y="294.82" width="1.74" height="2" fill="#8a8a8a"/>
<rect x="440.7" y="296.69" width="1.91" height="3.2" fill="#8a8a8a"/>
<rect x="441" y="297.08" width="1.91" height="2.22" fill="#8a8a8a"/>
<rect x="445.94" y="302.68" width="1.52" height="2.26" fill="#8a8a8a"/>
<text transform="translate(446.78 301.13) rotate(-3.48) scale(1.09 1)" y="4.25" font-size="11.8" fill="#fff" stroke="#fff" stroke-width="0.3" opacity="0.9">5</text>
<rect x="413.2" y="311.26" width="40.3" height="13.3" fill="#000"/>
<rect x="413.2" y="311.26" width="13.43" height="13.3" fill="url(#pn)"/>
<rect x="416.83" y="321.65" width="1.01" height="0.78" fill="#8a8a8a"/>
<rect x="415.55" y="320.15" width="1.69" height="1.55" fill="#8a8a8a"/>
<rect x="416.32" y="321.62" width="1.65" height="1.65" fill="#8a8a8a"/>
<rect x="420.86" y="318.67" width="1.15" height="1.94" fill="#8a8a8a"/>
<rect x="423.9" y="311.92" width="1.68" height="2.27" fill="#8a8a8a"/>
<text transform="translate(419.92 317.91) rotate(6.59) scale(1.01 1)" y="4.25" font-size="11.8" fill="#fff" stroke="#fff" stroke-width="0.3" opacity="0.9">6</text>
<rect x="426.63" y="311.26" width="13.43" height="13.3" fill="url(#pn)"/>
<rect x="434.03" y="316.36" width="1.03" height="1.53" fill="#8a8a8a"/>
<rect x="432.11" y="319.83" width="1.26" height="1.32" fill="#8a8a8a"/>
<rect x="427.61" y="313.27" width="1.16" height="1.05" fill="#8a8a8a"/>
<rect x="432.68" y="316.58" width="1.91" height="2" fill="#8a8a8a"/>
<rect x="436.21" y="322.38" width="2.02" height="2.02" fill="#8a8a8a"/>
<text transform="translate(433.35 317.91) rotate(-2.04) scale(1.02 1)" y="4.25" font-size="11.8" fill="#fff" stroke="#fff" stroke-width="0.3" opacity="0.9">9</text>
<rect x="440.07" y="311.26" width="13.43" height="13.3" fill="url(#pn)"/>
<rect x="441.06" y="316.38" width="1.11" height="1.86" fill="#8a8a8a"/>
<rect x="448.91" y="315.64" width="1.79" height="2.76" fill="#8a8a8a"/>
<rect x="449.71" y="312.3" width="1.43" height="2.11" fill="#8a8a8a"/>
<rect x="446.65" y="316.63" width="1.27" height="1.34" fill="#8a8a8a"/>
<rect x="445.48" y="318.38" width="2.03" height="1.98" fill="#8a8a8a"/>
<text transform="translate(446.78 317.91) rotate(1.26) scale(1.09 1)" y="4.25" font-size="11.8" fill="#fff" stroke="#fff" stroke-width="0.3" opacity="0.9">3</text>
<rect x="413.2" y="328.04" width="40.3" height="13.3" fill="#000"/>
<rect x="419" y="337.97" width="0.94" height="0.72" fill="#bbb"/>
<rect x="414" y="335.63" width="0.78" height="0.85" fill="#bbb"/>
<rect x="425.15" y="328.58" width="0.9" height="1.37" fill="#bbb"/>
<rect x="424.49" y="331.63" width="1.22" height="1.82" fill="#bbb"/>
<rect x="423.11" y="339.55" width="1.14" height="1.14" fill="#bbb"/>
<rect x="423.75" y="329.4" width="0.66" height="0.98" fill="#bbb"/>
<rect x="422.84" y="337.74" width="1.02" height="1.74" fill="#bbb"/>
<rect x="414.81" y="333.98" width="1.33" height="0.95" fill="#bbb"/>
<rect x="416.84" y="336.25" width="1.44" height="1.25" fill="#bbb"/>
<rect x="424.07" y="333.79" width="0.81" height="1.27" fill="#bbb"/>
<text transform="translate(419.92 334.69) rotate(-8.58) scale(1.04 1)" y="4.25" font-size="11.8" fill="#ddd" stroke="#ddd" stroke-width="0.3" opacity="0.75">9</text>
<rect x="429.64" y="328.82" width="1.28" height="0.94" fill="#bbb"/>
<rect x="430.65" y="340" width="1.1" height="1.1" fill="#bbb"/>
<rect x="438.52" y="331.19" width="1.4" height="1.11" fill="#bbb"/>
<rect x="432.99" y="336.99" width="0.69" height="0.82" fill="#bbb"/>
<rect x="431.89" y="335.79" width="0.81" height="1.17" fill="#bbb"/>
<rect x="436.93" y="336.03" width="1.27" height="1.06" fill="#bbb"/>
<rect x="430.18" y="334.81" width="1.36" height="1.51" fill="#bbb"/>
<rect x="429.06" y="331.02" width="1.26" height="1.23" fill="#bbb"/>
<rect x="437.86" y="335.3" width="0.74" height="0.78" fill="#bbb"/>
<rect x="439.02" y="334.3" width="0.96" height="0.91" fill="#bbb"/>
<text transform="translate(433.35 334.69) rotate(1.76) scale(1.22 1)" y="4.25" font-size="11.8" fill="#ddd" stroke="#ddd" stroke-width="0.3" opacity="0.75">3</text>
<rect x="446.12" y="338.37" width="0.69" height="1.12" fill="#bbb"/>
<rect x="440.55" y="331.53" width="1.42" height="1.18" fill="#bbb"/>
<rect x="452.39" y="335.35" width="0.77" height="1.33" fill="#bbb"/>
<rect x="450.89" y="333.59" width="0.94" height="0.92" fill="#bbb"/>
<rect x="451.54" y="329.31" width="1.3" height="1.76" fill="#bbb"/>
<rect x="442.74" y="332.52" width="1.16" height="0.99" fill="#bbb"/>
<rect x="443.29" y="335.54" width="0.78" height="1.11" fill="#bbb"/>
<rect x="440.21" y="332.14" width="0.78" height="1.13" fill="#bbb"/>
<rect x="444.02" y="330.59" width="0.77" height="1.21" fill="#bbb"/>
<rect x="440.85" y="329.28" width="1.09" height="1.24" fill="#bbb"/>
<text transform="translate(446.78 334.69) rotate(-7.22) scale(1.12 1)" y="4.25" font-size="11.8" fill="#ddd" stroke="#ddd" stroke-width="0.3" opacity="0.75">9</text>
<rect x="413.2" y="344.82" width="40.3" height="13.3" fill="#000"/>
<text transform="translate(420.1 351.47) rotate(-2.84) scale(1.06 1)" y="4.25" font-size="11.8" fill="#fff" stroke="#fff" stroke-width="0.3">6</text>
<text transform="translate(433.94 351.47) rotate(2.02) scale(1.09 1)" y="4.25" font-size="11.8" fill="#fff" stroke="#fff" stroke-width="0.3">4</text>
<text transform="translate(446.24 351.47) rotate(3.42) scale(1.19 1)" y="4.25" font-size="11.8" fill="#fff" stroke="#fff" stroke-width="0.3">7</text>
<rect x="413.2" y="361.6" width="40.3" height="13.3" fill="#000"/>
<text transform="translate(419.81 368.25) rotate(-9.67) scale(1.17 1)" y="4.25" font-size="11.8" fill="#fff" stroke="#fff" stroke-width="0.3">5</text>
<text transform="translate(433.71 368.25) rotate(1.6) scale(1.09 1)" y="4.25" font-size="11.8" fill="#fff" stroke="#fff" stroke-width="0.3">7</text>
<text transform="translate(446.67 368.25) rotate(6.96) scale(1.1 1)" y="4.25" font-size="11.8" fill="#fff" stroke="#fff" stroke-width="0.3">2</text>
<rect x="413.2" y="378.38" width="40.3" height="13.3" fill="#000"/>
<text transform="translate(419.5 385.03) rotate(-7.96) scale(1.02 1)" y="4.25" font-size="11.8" fill="#fff" stroke="#fff" stroke-width="0.3">0</text>
<text transform="translate(433.44 385.03) rotate(-3.43) scale(1.17 1)" y="4.25" font-size="11.8" fill="#fff" stroke="#fff" stroke-width="0.3">1</text>
<text transform="translate(446.34 385.03) rotate(-9.07) scale(1.03 1)" y="4.25" font-size="11.8" fill="#fff" stroke="#fff" stroke-width="0.3">2</text>
<rect x="413.2" y="395.16" width="40.3" height="13.3" fill="#000"/>
<text transform="translate(420.28 401.81) rotate(-2.86) scale(1.13 1)" y="4.25" font-size="11.8" fill="#fff" stroke="#fff" stroke-width="0.3">8</text>
<text transform="translate(433.86 401.81) rotate(3.27) scale(1.04 1)" y="4.25" font-size="11.8" fill="#fff" stroke="#fff" stroke-width="0.3">3</text>
<text transform="translate(446.6 401.81) rotate(-7.09) scale(1.04 1)" y="4.25" font-size="11.8" fill="#fff" stroke="#fff" stroke-width="0.3">6</text>
<rect x="413.2" y="411.94" width="40.3" height="13.3" fill="#000"/>
<text transform="translate(419.4 418.59) rotate(-3.09) scale(1.17 1)" y="4.25" font-size="11.8" fill="#fff" stroke="#fff" stroke-width="0.3">5</text>
<text transform="translate(433.7 418.59) rotate(4.48) scale(1.07 1)" y="4.25" font-size="11.8" fill="#fff" stroke="#fff" stroke-width="0.3">6</text>
<text transform="translate(447.19 418.59) rotate(-9.22) scale(1.2 1)" y="4.25" font-size="11.8" fill="#fff" stroke="#fff" stroke-width="0.3">8</text>
<rect x="413.2" y="428.72" width="40.3" height="13.3" fill="#000"/>
<text transform="translate(419.69 435.37) rotate(0.94) scale(1.14 1)" y="4.25" font-size="11.8" fill="#fff" stroke="#fff" stroke-width="0.3">8</text>
<text transform="translate(432.85 435.37) rotate(2.82) scale(1.15 1)" y="4.25" font-size="11.8" fill="#fff" stroke="#fff" stroke-width="0.3">6</text>
<text transform="translate(447.25 435.37) rotate(1.53) scale(1.19 1)" y="4.25" font-size="11.8" fill="#fff" stroke="#fff" stroke-width="0.3">7</text>
<rect x="413.2" y="445.5" width="40.3" height="13.3" fill="#000"/>
<text transform="translate(420.06 452.15) rotate(1.07) scale(1.04 1)" y="4.25" font-size="11.8" fill="#fff" stroke="#fff" stroke-width="0.3">0</text>
<text transform="translate(433.32 452.15) rotate(0.18) scale(1.01 1)" y="4.25" font-size="11.8" fill="#fff" stroke="#fff" stroke-width="0.3">5</text>
<text transform="translate(447.31 452.15) rotate(-7.18) scale(1.08 1)" y="4.25" font-size="11.8" fill="#fff" stroke="#fff" stroke-width="0.3">7</text>
<rect x="413.2" y="462.28" width="40.3" height="13.3" fill="#000"/>
<text transform="translate(419.5 468.93) rotate(7.47) scale(1.18 1)" y="4.25" font-size="11.8" fill="#fff" stroke="#fff" stroke-width="0.3">4</text>
<text transform="translate(432.98 468.93) rotate(5.91) scale(1.19 1)" y="4.25" font-size="11.8" fill="#fff" stroke="#fff" stroke-width="0.3">4</text>
<text transform="translate(446.99 468.93) rotate(2.02) scale(1.07 1)" y="4.25" font-size="11.8" fill="#fff" stroke="#fff" stroke-width="0.3">7</text>
<rect x="413.2" y="479.06" width="40.3" height="13.3" fill="#000"/>
<text transform="translate(419.78 485.71) rotate(-1.8) scale(1.19 1)" y="4.25" font-size="11.8" fill="#fff" stroke="#fff" stroke-width="0.3">6</text>
<text transform="translate(433.68 485.71) rotate(1.68) scale(1.07 1)" y="4.25" font-size="11.8" fill="#fff" stroke="#fff" stroke-width="0.3">1</text>
<text transform="translate(446.48 485.71) rotate(-2.99) scale(1.08 1)" y="4.25" font-size="11.8" fill="#fff" stroke="#fff" stroke-width="0.3">4</text>
<rect x="413.2" y="495.84" width="40.3" height="13.3" fill="#000"/>
<text transform="translate(419.92 502.49) rotate(-6.78) scale(1 1)" y="4.25" font-size="11.8" fill="#fff" stroke="#fff" stroke-width="0.3">9</text>
<text transform="translate(433.93 502.49) rotate(-1.63) scale(1.1 1)" y="4.25" font-size="11.8" fill="#fff" stroke="#fff" stroke-width="0.3">1</text>
<text transform="translate(446.93 502.49) rotate(4.74) scale(1.18 1)" y="4.25" font-size="11.8" fill="#fff" stroke="#fff" stroke-width="0.3">0</text>
<rect x="485.6" y="277.7" width="40.3" height="13.3" fill="#000"/>
<rect x="485.6" y="277.7" width="13.43" height="13.3" fill="url(#pm)"/>
<rect x="491.65" y="277.7" width="0.9" height="13.3" fill="#b0b0b0"/>
<rect x="503.41" y="278.43" width="2.5" height="2.73" fill="#fff"/>
<rect x="508.38" y="283.51" width="1.78" height="2.54" fill="#fff"/>
<rect x="500.62" y="288.8" width="1.27" height="1.27" fill="#fff"/>
<rect x="507.48" y="278.63" width="1.7" height="2.6" fill="#fff"/>
<rect x="506.08" y="286.07" width="2.63" height="1.92" fill="#fff"/>
<rect x="506.48" y="286.01" width="1.31" height="1.07" fill="#fff"/>
<rect x="509.68" y="281.12" width="1.41" height="2.25" fill="#fff"/>
<rect x="506.55" y="285.51" width="2.47" height="2.33" fill="#fff"/>
<rect x="505.69" y="280.42" width="2.53" height="2.68" fill="#fff"/>
<rect x="509.22" y="282.77" width="2.18" height="2.14" fill="#fff"/>
<rect x="504.17" y="283.95" width="2.74" height="3.78" fill="#fff"/>
<rect x="512.47" y="277.7" width="13.43" height="13.3" fill="url(#pg)"/>
<rect x="485.6" y="294.48" width="40.3" height="13.3" fill="#000"/>
<rect x="485.6" y="294.48" width="13.43" height="13.3" fill="url(#pn)"/>
<rect x="490.09" y="296.85" width="1.38" height="1.58" fill="#999"/>
<rect x="488.78" y="298.18" width="2.02" height="2.25" fill="#999"/>
<rect x="488.55" y="302.96" width="2.27" height="1.71" fill="#999"/>
<rect x="496.29" y="299.43" width="2.37" height="3.02" fill="#999"/>
<rect x="495.75" y="297.3" width="2.1" height="2.71" fill="#999"/>
<rect x="493.76" y="298.54" width="2.37" height="2.64" fill="#999"/>
<text transform="translate(492.32 301.13) rotate(0.39) scale(1.08 1)" y="4.25" font-size="11.8" fill="#ccc" stroke="#ccc" stroke-width="0.3" opacity="0.6">7</text>
<rect x="499.03" y="294.48" width="13.43" height="13.3" fill="url(#pn)"/>
<rect x="503.99" y="296.44" width="2.22" height="3.38" fill="#999"/>
<rect x="509.16" y="297.58" width="1.08" height="1.51" fill="#999"/>
<rect x="505.4" y="301.6" width="2.57" height="2.69" fill="#999"/>
<rect x="499.45" y="296.32" width="1" height="1.38" fill="#999"/>
<rect x="505.05" y="304.88" width="1.69" height="1.69" fill="#999"/>
<rect x="501.81" y="302.38" width="1.21" height="0.88" fill="#999"/>
<text transform="translate(505.75 301.13) rotate(0.21) scale(1.07 1)" y="4.25" font-size="11.8" fill="#ccc" stroke="#ccc" stroke-width="0.3" opacity="0.6">4</text>
<rect x="512.47" y="294.48" width="13.43" height="13.3" fill="url(#pn)"/>
<rect x="518.66" y="299.22" width="1.84" height="1.89" fill="#999"/>
<rect x="516.94" y="304.49" width="1.21" height="1.06" fill="#999"/>
<rect x="522.41" y="303.17" width="1.02" height="1.22" fill="#999"/>
<rect x="514.25" y="302.6" width="1.1" height="1.1" fill="#999"/>
<rect x="523.24" y="295.1" width="2.3" height="3.68" fill="#999"/>
<rect x="519.01" y="300.77" width="2.43" height="3.31" fill="#999"/>
<text transform="translate(519.18 301.13) rotate(-5.53) scale(1.2 1)" y="4.25" font-size="11.8" fill="#ccc" stroke="#ccc" stroke-width="0.3" opacity="0.6">9</text>
<rect x="485.6" y="311.26" width="40.3" height="13.3" fill="#000"/>
<rect x="492.4" y="316.4" width="0.64" height="0.61" fill="#bbb"/>
<rect x="495.55" y="311.42" width="0.65" height="0.85" fill="#bbb"/>
<rect x="487.31" y="313.62" width="1.45" height="1.98" fill="#bbb"/>
<rect x="493.54" y="321.22" width="1.06" height="0.94" fill="#bbb"/>
<rect x="489.37" y="311.86" width="0.88" height="1.47" fill="#bbb"/>
<rect x="494.28" y="311.34" width="1.3" height="2.13" fill="#bbb"/>
<rect x="491.26" y="320.18" width="1.27" height="1.52" fill="#bbb"/>
<rect x="486.93" y="314.16" width="0.8" height="0.6" fill="#bbb"/>
<rect x="494.99" y="319.88" width="0.9" height="1.47" fill="#bbb"/>
<rect x="488.84" y="317.94" width="1.24" height="1.46" fill="#bbb"/>
<text transform="translate(492.32 317.91) rotate(7.49) scale(1.07 1)" y="4.25" font-size="11.8" fill="#ddd" stroke="#ddd" stroke-width="0.3" opacity="0.75">9</text>
<rect x="509.76" y="312.27" width="1.44" height="1.81" fill="#bbb"/>
<rect x="510.51" y="321.82" width="0.75" height="0.69" fill="#bbb"/>
<rect x="510.64" y="313.67" width="0.74" height="0.84" fill="#bbb"/>
<rect x="503.7" y="321.62" width="1.14" height="1.96" fill="#bbb"/>
<rect x="509.09" y="317.6" width="1.48" height="1.81" fill="#bbb"/>
<rect x="499.11" y="311.58" width="1.08" height="1.89" fill="#bbb"/>
<rect x="510.2" y="321.12" width="0.81" height="0.92" fill="#bbb"/>
<rect x="505.99" y="313.35" width="1.13" height="0.83" fill="#bbb"/>
<rect x="506.95" y="313.3" width="0.7" height="1.24" fill="#bbb"/>
<rect x="499.41" y="312.93" width="1.23" height="1.73" fill="#bbb"/>
<text transform="translate(505.75 317.91) rotate(2.55) scale(1.16 1)" y="4.25" font-size="11.8" fill="#ddd" stroke="#ddd" stroke-width="0.3" opacity="0.75">3</text>
<rect x="520.01" y="315.85" width="0.66" height="1.05" fill="#bbb"/>
<rect x="523.25" y="312.05" width="1.34" height="2.21" fill="#bbb"/>
<rect x="523.81" y="312.53" width="1.42" height="1.32" fill="#bbb"/>
<rect x="512.91" y="321.94" width="0.7" height="1.12" fill="#bbb"/>
<rect x="522.58" y="318.92" width="1.17" height="1.19" fill="#bbb"/>
<rect x="513.71" y="320.81" width="0.69" height="0.64" fill="#bbb"/>
<rect x="517.78" y="311.52" width="0.89" height="0.87" fill="#bbb"/>
<rect x="521.47" y="315.84" width="0.85" height="0.9" fill="#bbb"/>
<rect x="518.49" y="321.33" width="1.47" height="2.03" fill="#bbb"/>
<rect x="517.75" y="316.79" width="0.63" height="0.97" fill="#bbb"/>
<text transform="translate(519.18 317.91) rotate(-1.56) scale(1.01 1)" y="4.25" font-size="11.8" fill="#ddd" stroke="#ddd" stroke-width="0.3" opacity="0.75">8</text>
<rect x="485.6" y="328.04" width="40.3" height="13.3" fill="#000"/>
<text transform="translate(492.4 334.69) rotate(2.86) scale(1.18 1)" y="4.25" font-size="11.8" fill="#fff" stroke="#fff" stroke-width="0.3">1</text>
<text transform="translate(505.84 334.69) rotate(-4.83) scale(1.1 1)" y="4.25" font-size="11.8" fill="#fff" stroke="#fff" stroke-width="0.3">6</text>
<text transform="translate(519.21 334.69) rotate(-4.81) scale(1.17 1)" y="4.25" font-size="11.8" fill="#fff" stroke="#fff" stroke-width="0.3">1</text>
<rect x="485.6" y="344.82" width="40.3" height="13.3" fill="#000"/>
<text transform="translate(491.78 351.47) rotate(-3.74) scale(1.02 1)" y="4.25" font-size="11.8" fill="#fff" stroke="#fff" stroke-width="0.3">4</text>
<text transform="translate(505.98 351.47) rotate(4.86) scale(1.21 1)" y="4.25" font-size="11.8" fill="#fff" stroke="#fff" stroke-width="0.3">7</text>
<text transform="translate(519.29 351.47) rotate(7.23) scale(1.11 1)" y="4.25" font-size="11.8" fill="#fff" stroke="#fff" stroke-width="0.3">1</text>
<rect x="485.6" y="361.6" width="40.3" height="13.3" fill="#000"/>
<text transform="translate(492.41 368.25) rotate(-7.14) scale(1.18 1)" y="4.25" font-size="11.8" fill="#fff" stroke="#fff" stroke-width="0.3">7</text>
<text transform="translate(506.28 368.25) rotate(-5.83) scale(1.04 1)" y="4.25" font-size="11.8" fill="#fff" stroke="#fff" stroke-width="0.3">0</text>
<text transform="translate(519.71 368.25) rotate(3.8) scale(1.11 1)" y="4.25" font-size="11.8" fill="#fff" stroke="#fff" stroke-width="0.3">9</text>
<rect x="485.6" y="378.38" width="40.3" height="13.3" fill="#000"/>
<text transform="translate(492.91 385.03) rotate(0.1) scale(1.02 1)" y="4.25" font-size="11.8" fill="#fff" stroke="#fff" stroke-width="0.3">5</text>
<text transform="translate(505.54 385.03) rotate(-8.29) scale(1.2 1)" y="4.25" font-size="11.8" fill="#fff" stroke="#fff" stroke-width="0.3">1</text>
<text transform="translate(519.65 385.03) rotate(3.41) scale(1.09 1)" y="4.25" font-size="11.8" fill="#fff" stroke="#fff" stroke-width="0.3">0</text>
<rect x="485.6" y="395.16" width="40.3" height="13.3" fill="#000"/>
<text transform="translate(492.49 401.81) rotate(-3.3) scale(1.07 1)" y="4.25" font-size="11.8" fill="#fff" stroke="#fff" stroke-width="0.3">7</text>
<text transform="translate(505.66 401.81) rotate(-0.19) scale(1.04 1)" y="4.25" font-size="11.8" fill="#fff" stroke="#fff" stroke-width="0.3">6</text>
<text transform="translate(519.76 401.81) rotate(1.35) scale(1.21 1)" y="4.25" font-size="11.8" fill="#fff" stroke="#fff" stroke-width="0.3">4</text>
<rect x="485.6" y="411.94" width="40.3" height="13.3" fill="#000"/>
<text transform="translate(491.87 418.59) rotate(0.69) scale(1.15 1)" y="4.25" font-size="11.8" fill="#fff" stroke="#fff" stroke-width="0.3">6</text>
<text transform="translate(505.88 418.59) rotate(-9.39) scale(1.13 1)" y="4.25" font-size="11.8" fill="#fff" stroke="#fff" stroke-width="0.3">9</text>
<text transform="translate(519.21 418.59) rotate(5.62) scale(1.1 1)" y="4.25" font-size="11.8" fill="#fff" stroke="#fff" stroke-width="0.3">1</text>
<rect x="485.6" y="428.72" width="40.3" height="13.3" fill="#000"/>
<text transform="translate(492.38 435.37) rotate(-4.18) scale(1.1 1)" y="4.25" font-size="11.8" fill="#fff" stroke="#fff" stroke-width="0.3">3</text>
<text transform="translate(505.98 435.37) rotate(-5.37) scale(1.05 1)" y="4.25" font-size="11.8" fill="#fff" stroke="#fff" stroke-width="0.3">9</text>
<text transform="translate(518.98 435.37) rotate(1.57) scale(1.15 1)" y="4.25" font-size="11.8" fill="#fff" stroke="#fff" stroke-width="0.3">1</text>
<rect x="485.6" y="445.5" width="40.3" height="13.3" fill="#000"/>
<text transform="translate(492.33 452.15) rotate(-5.19) scale(1.17 1)" y="4.25" font-size="11.8" fill="#fff" stroke="#fff" stroke-width="0.3">9</text>
<text transform="translate(506.14 452.15) rotate(1.11) scale(1.16 1)" y="4.25" font-size="11.8" fill="#fff" stroke="#fff" stroke-width="0.3">5</text>
<text transform="translate(519.75 452.15) rotate(3.02) scale(1.13 1)" y="4.25" font-size="11.8" fill="#fff" stroke="#fff" stroke-width="0.3">0</text>
<rect x="485.6" y="462.28" width="40.3" height="13.3" fill="#000"/>
<text transform="translate(492.14 468.93) rotate(-5.75) scale(1.21 1)" y="4.25" font-size="11.8" fill="#fff" stroke="#fff" stroke-width="0.3">1</text>
<text transform="translate(505.46 468.93) rotate(7.19) scale(1.22 1)" y="4.25" font-size="11.8" fill="#fff" stroke="#fff" stroke-width="0.3">1</text>
<text transform="translate(518.78 468.93) rotate(1.84) scale(1.04 1)" y="4.25" font-size="11.8" fill="#fff" stroke="#fff" stroke-width="0.3">2</text>
<rect x="485.6" y="479.06" width="40.3" height="13.3" fill="#000"/>
<text transform="translate(491.9 485.71) rotate(-7.33) scale(1.07 1)" y="4.25" font-size="11.8" fill="#fff" stroke="#fff" stroke-width="0.3">9</text>
<text transform="translate(505.51 485.71) rotate(-5.07) scale(1.02 1)" y="4.25" font-size="11.8" fill="#fff" stroke="#fff" stroke-width="0.3">7</text>
<text transform="translate(519.68 485.71) rotate(-4.95) scale(1.19 1)" y="4.25" font-size="11.8" fill="#fff" stroke="#fff" stroke-width="0.3">0</text>
<rect x="485.6" y="495.84" width="40.3" height="13.3" fill="#000"/>
<text transform="translate(492.27 502.49) rotate(-9.77) scale(1.19 1)" y="4.25" font-size="11.8" fill="#fff" stroke="#fff" stroke-width="0.3">0</text>
<text transform="translate(505.67 502.49) rotate(-6) scale(1.22 1)" y="4.25" font-size="11.8" fill="#fff" stroke="#fff" stroke-width="0.3">5</text>
<text transform="translate(518.94 502.49) rotate(-9.6) scale(1.06 1)" y="4.25" font-size="11.8" fill="#fff" stroke="#fff" stroke-width="0.3">1</text>
<rect x="558" y="260.92" width="40.3" height="13.3" fill="#000"/>
<rect x="558" y="277.7" width="40.3" height="13.3" fill="#000"/>
<rect x="571.43" y="277.7" width="13.43" height="13.3" fill="#b4b4b4"/>
<text transform="translate(578.15 284.35) rotate(3.29) scale(1 1)" y="3.24" font-size="9" fill="#555" stroke="#555" stroke-width="0.3" opacity="0.9">2</text>
<rect x="584.87" y="277.7" width="13.43" height="13.3" fill="url(#pg)"/>
<rect x="558" y="294.48" width="40.3" height="13.3" fill="#000"/>
<rect x="558" y="311.26" width="40.3" height="13.3" fill="#000"/>
<text transform="translate(564.41 317.91) rotate(5.35) scale(1.15 1)" y="4.25" font-size="11.8" fill="#fff" stroke="#fff" stroke-width="0.3">7</text>
<rect x="558" y="328.04" width="40.3" height="13.3" fill="#000"/>
<text transform="translate(564.82 334.69) rotate(1.65) scale(1.19 1)" y="4.25" font-size="11.8" fill="#fff" stroke="#fff" stroke-width="0.3">1</text>
<text transform="translate(578.35 334.69) rotate(1.74) scale(1.19 1)" y="4.25" font-size="11.8" fill="#fff" stroke="#fff" stroke-width="0.3">5</text>
<rect x="558" y="344.82" width="40.3" height="13.3" fill="#000"/>
<text transform="translate(564.89 351.47) rotate(0.51) scale(1.05 1)" y="4.25" font-size="11.8" fill="#fff" stroke="#fff" stroke-width="0.3">1</text>
<text transform="translate(577.77 351.47) rotate(-7.76) scale(1.1 1)" y="4.25" font-size="11.8" fill="#fff" stroke="#fff" stroke-width="0.3">1</text>
<text transform="translate(591.3 351.47) rotate(2.61) scale(1.2 1)" y="4.25" font-size="11.8" fill="#fff" stroke="#fff" stroke-width="0.3">1</text>
<rect x="558" y="361.6" width="40.3" height="13.3" fill="#000"/>
<text transform="translate(564.41 368.25) rotate(-2.8) scale(1.16 1)" y="4.25" font-size="11.8" fill="#fff" stroke="#fff" stroke-width="0.3">1</text>
<text transform="translate(577.74 368.25) rotate(5.29) scale(1.11 1)" y="4.25" font-size="11.8" fill="#fff" stroke="#fff" stroke-width="0.3">5</text>
<text transform="translate(591.01 368.25) rotate(5.45) scale(1.11 1)" y="4.25" font-size="11.8" fill="#fff" stroke="#fff" stroke-width="0.3">1</text>
<rect x="558" y="378.38" width="40.3" height="13.3" fill="#000"/>
<text transform="translate(564.91 385.03) rotate(5.71) scale(1.2 1)" y="4.25" font-size="11.8" fill="#fff" stroke="#fff" stroke-width="0.3">7</text>
<text transform="translate(577.94 385.03) rotate(-9.81) scale(1.18 1)" y="4.25" font-size="11.8" fill="#fff" stroke="#fff" stroke-width="0.3">9</text>
<text transform="translate(592.07 385.03) rotate(-8.09) scale(1.06 1)" y="4.25" font-size="11.8" fill="#fff" stroke="#fff" stroke-width="0.3">4</text>
<rect x="558" y="395.16" width="40.3" height="13.3" fill="#000"/>
<text transform="translate(564.38 401.81) rotate(2.89) scale(1.21 1)" y="4.25" font-size="11.8" fill="#fff" stroke="#fff" stroke-width="0.3">1</text>
<text transform="translate(577.79 401.81) rotate(-3.73) scale(1.19 1)" y="4.25" font-size="11.8" fill="#fff" stroke="#fff" stroke-width="0.3">6</text>
<text transform="translate(591.53 401.81) rotate(-6.31) scale(1.1 1)" y="4.25" font-size="11.8" fill="#fff" stroke="#fff" stroke-width="0.3">7</text>
<rect x="558" y="411.94" width="40.3" height="13.3" fill="#000"/>
<text transform="translate(564.14 418.59) rotate(4.27) scale(1.08 1)" y="4.25" font-size="11.8" fill="#fff" stroke="#fff" stroke-width="0.3">0</text>
<text transform="translate(577.96 418.59) rotate(3.36) scale(1.1 1)" y="4.25" font-size="11.8" fill="#fff" stroke="#fff" stroke-width="0.3">1</text>
<text transform="translate(592.17 418.59) rotate(-6.69) scale(1.11 1)" y="4.25" font-size="11.8" fill="#fff" stroke="#fff" stroke-width="0.3">1</text>
<rect x="558" y="428.72" width="40.3" height="13.3" fill="#000"/>
<text transform="translate(565.24 435.37) rotate(3.12) scale(1.14 1)" y="4.25" font-size="11.8" fill="#fff" stroke="#fff" stroke-width="0.3">1</text>
<text transform="translate(578.32 435.37) rotate(-5.46) scale(1.08 1)" y="4.25" font-size="11.8" fill="#fff" stroke="#fff" stroke-width="0.3">1</text>
<text transform="translate(591.06 435.37) rotate(-8.65) scale(1.2 1)" y="4.25" font-size="11.8" fill="#fff" stroke="#fff" stroke-width="0.3">1</text>
<rect x="558" y="445.5" width="40.3" height="13.3" fill="#000"/>
<text transform="translate(564.72 452.15) rotate(1.31) scale(1.15 1)" y="4.25" font-size="11.8" fill="#aaa" stroke="#aaa" stroke-width="0.3" opacity="0.7">1</text>
<text transform="translate(578.15 452.15) rotate(0.44) scale(1.02 1)" y="4.25" font-size="11.8" fill="#aaa" stroke="#aaa" stroke-width="0.3" opacity="0.7">1</text>
<text transform="translate(591.58 452.15) rotate(-4.54) scale(1.09 1)" y="4.25" font-size="11.8" fill="#aaa" stroke="#aaa" stroke-width="0.3" opacity="0.7">1</text>
<rect x="558" y="479.06" width="40.3" height="13.3" fill="#000"/>
<text transform="translate(565.26 485.71) rotate(7.49) scale(1.22 1)" y="4.25" font-size="11.8" fill="#fff" stroke="#fff" stroke-width="0.3">1</text>
<text transform="translate(578.7 485.71) rotate(-1.68) scale(1.04 1)" y="4.25" font-size="11.8" fill="#fff" stroke="#fff" stroke-width="0.3">4</text>
<text transform="translate(592.1 485.71) rotate(-8.76) scale(1.18 1)" y="4.25" font-size="11.8" fill="#fff" stroke="#fff" stroke-width="0.3">7</text>
<rect x="558" y="495.84" width="40.3" height="13.3" fill="#000"/>
<text transform="translate(564.35 502.49) rotate(1.56) scale(1.16 1)" y="4.25" font-size="11.8" fill="#fff" stroke="#fff" stroke-width="0.3">0</text>
<text transform="translate(578.53 502.49) rotate(-7.37) scale(1.15 1)" y="4.25" font-size="11.8" fill="#fff" stroke="#fff" stroke-width="0.3">5</text>
<text transform="translate(591.98 502.49) rotate(4.31) scale(1.09 1)" y="4.25" font-size="11.8" fill="#fff" stroke="#fff" stroke-width="0.3">2</text>
<rect x="630.6" y="311.26" width="40.3" height="13.3" fill="#000"/>
<text transform="translate(637.91 317.91) rotate(3.68) scale(1.14 1)" y="4.25" font-size="11.8" fill="#fff" stroke="#fff" stroke-width="0.3">3</text>
<text transform="translate(651.09 317.91) rotate(-1.55) scale(1.17 1)" y="4.25" font-size="11.8" fill="#fff" stroke="#fff" stroke-width="0.3">4</text>
<text transform="translate(663.86 317.91) rotate(2.68) scale(1.15 1)" y="4.25" font-size="11.8" fill="#fff" stroke="#fff" stroke-width="0.3">8</text>
<rect x="630.6" y="328.04" width="40.3" height="13.3" fill="#000"/>
<text transform="translate(637.9 334.69) rotate(2.22) scale(1.11 1)" y="4.25" font-size="11.8" fill="#fff" stroke="#fff" stroke-width="0.3">8</text>
<text transform="translate(651.12 334.69) rotate(4.38) scale(1.08 1)" y="4.25" font-size="11.8" fill="#fff" stroke="#fff" stroke-width="0.3">8</text>
<text transform="translate(664.37 334.69) rotate(-4.23) scale(1.11 1)" y="4.25" font-size="11.8" fill="#fff" stroke="#fff" stroke-width="0.3">8</text>
<rect x="630.6" y="344.82" width="40.3" height="13.3" fill="#000"/>
<text transform="translate(637.46 351.47) rotate(-8.46) scale(1.2 1)" y="4.25" font-size="11.8" fill="#fff" stroke="#fff" stroke-width="0.3">9</text>
<text transform="translate(650.33 351.47) rotate(-4.54) scale(1.08 1)" y="4.25" font-size="11.8" fill="#fff" stroke="#fff" stroke-width="0.3">3</text>
<text transform="translate(663.69 351.47) rotate(0.16) scale(1.07 1)" y="4.25" font-size="11.8" fill="#fff" stroke="#fff" stroke-width="0.3">5</text>
<rect x="630.6" y="378.38" width="40.3" height="13.3" fill="#000"/>
<text transform="translate(637.85 385.03) rotate(-0.45) scale(1.08 1)" y="4.25" font-size="11.8" fill="#fff" stroke="#fff" stroke-width="0.3">6</text>
<text transform="translate(650.85 385.03) rotate(1.83) scale(1.05 1)" y="4.25" font-size="11.8" fill="#fff" stroke="#fff" stroke-width="0.3">6</text>
<text transform="translate(663.67 385.03) rotate(-4.73) scale(1.13 1)" y="4.25" font-size="11.8" fill="#fff" stroke="#fff" stroke-width="0.3">6</text>
<rect x="630.6" y="395.16" width="40.3" height="13.3" fill="#000"/>
<text transform="translate(637.41 401.81) rotate(5.38) scale(1.04 1)" y="4.25" font-size="11.8" fill="#fff" stroke="#fff" stroke-width="0.3">3</text>
<text transform="translate(650.69 401.81) rotate(4.13) scale(1.05 1)" y="4.25" font-size="11.8" fill="#fff" stroke="#fff" stroke-width="0.3">4</text>
<text transform="translate(664.07 401.81) rotate(-0.38) scale(1.13 1)" y="4.25" font-size="11.8" fill="#fff" stroke="#fff" stroke-width="0.3">1</text>
<rect x="630.6" y="411.94" width="40.3" height="13.3" fill="#000"/>
<text transform="translate(637.54 418.59) rotate(7.59) scale(1.02 1)" y="4.25" font-size="11.8" fill="#fff" stroke="#fff" stroke-width="0.3">5</text>
<text transform="translate(651.23 418.59) rotate(-0.13) scale(1.14 1)" y="4.25" font-size="11.8" fill="#fff" stroke="#fff" stroke-width="0.3">1</text>
<text transform="translate(663.94 418.59) rotate(-1.1) scale(1.05 1)" y="4.25" font-size="11.8" fill="#fff" stroke="#fff" stroke-width="0.3">8</text>
<rect x="630.6" y="428.72" width="40.3" height="13.3" fill="#000"/>
<text transform="translate(636.81 435.37) rotate(5.11) scale(1.15 1)" y="4.25" font-size="11.8" fill="#fff" stroke="#fff" stroke-width="0.3">3</text>
<text transform="translate(650.29 435.37) rotate(-7.87) scale(1.09 1)" y="4.25" font-size="11.8" fill="#fff" stroke="#fff" stroke-width="0.3">8</text>
<text transform="translate(664.58 435.37) rotate(-1.48) scale(1.12 1)" y="4.25" font-size="11.8" fill="#fff" stroke="#fff" stroke-width="0.3">2</text>
</g></g>
<line x1="176.8" y1="285.1" x2="176.8" y2="291.3" stroke="#8791b4" stroke-width="0.75" stroke-dasharray="3.2 3.2"/>
<line x1="176.8" y1="481.1" x2="176.8" y2="508.5" stroke="#8791b4" stroke-width="0.75" stroke-dasharray="3.2 3.2"/>
<line x1="175.6" y1="283.6" x2="178" y2="283.6" stroke="#444" stroke-width="0.7"/>
<rect x="174.8" y="291.3" width="4" height="188.8" rx="0.6" fill="#f8faff" stroke="#909fcb" stroke-width="0.95"/>
<line x1="174.7" y1="344.6" x2="178.9" y2="344.6" stroke="#c46a80" stroke-width="0.65"/>
<line x1="249.2" y1="358.3" x2="249.2" y2="404" stroke="#8791b4" stroke-width="0.75" stroke-dasharray="3.2 3.2"/>
<line x1="249.2" y1="505.8" x2="249.2" y2="508.5" stroke="#8791b4" stroke-width="0.75" stroke-dasharray="3.2 3.2"/>
<line x1="248" y1="356.8" x2="250.4" y2="356.8" stroke="#444" stroke-width="0.7"/>
<rect x="247.2" y="404" width="4" height="100.8" rx="0.6" fill="#f8faff" stroke="#909fcb" stroke-width="0.95"/>
<line x1="247.1" y1="445.4" x2="251.3" y2="445.4" stroke="#c46a80" stroke-width="0.65"/>
<line x1="321.6" y1="288" x2="321.6" y2="300.3" stroke="#8791b4" stroke-width="0.75" stroke-dasharray="3.2 3.2"/>
<line x1="321.6" y1="498.7" x2="321.6" y2="509.5" stroke="#8791b4" stroke-width="0.75" stroke-dasharray="3.2 3.2"/>
<line x1="320.4" y1="286.5" x2="322.8" y2="286.5" stroke="#444" stroke-width="0.7"/>
<rect x="319.6" y="300.3" width="4" height="197.4" rx="0.6" fill="#f8faff" stroke="#909fcb" stroke-width="0.95"/>
<line x1="319.5" y1="449.6" x2="323.7" y2="449.6" stroke="#c46a80" stroke-width="0.65"/>
<line x1="393.9" y1="288.5" x2="393.9" y2="303.4" stroke="#8791b4" stroke-width="0.75" stroke-dasharray="3.2 3.2"/>
<line x1="393.9" y1="431.1" x2="393.9" y2="508.5" stroke="#8791b4" stroke-width="0.75" stroke-dasharray="3.2 3.2"/>
<line x1="392.7" y1="287" x2="395.1" y2="287" stroke="#444" stroke-width="0.7"/>
<rect x="391.9" y="303.4" width="4" height="126.7" rx="0.6" fill="#f8faff" stroke="#909fcb" stroke-width="0.95"/>
<line x1="391.8" y1="382" x2="396" y2="382" stroke="#c46a80" stroke-width="0.65"/>
<line x1="466.5" y1="307.1" x2="466.5" y2="353.1" stroke="#8791b4" stroke-width="0.75" stroke-dasharray="3.2 3.2"/>
<line x1="466.5" y1="461" x2="466.5" y2="503.4" stroke="#8791b4" stroke-width="0.75" stroke-dasharray="3.2 3.2"/>
<line x1="465.3" y1="305.6" x2="467.7" y2="305.6" stroke="#444" stroke-width="0.7"/>
<line x1="465.4" y1="503.4" x2="467.6" y2="503.4" stroke="#444" stroke-width="0.7"/>
<rect x="464.5" y="353.1" width="4" height="106.9" rx="0.6" fill="#f8faff" stroke="#909fcb" stroke-width="0.95"/>
<line x1="464.4" y1="428.2" x2="468.6" y2="428.2" stroke="#c46a80" stroke-width="0.65"/>
<line x1="538.8" y1="290.8" x2="538.8" y2="306.6" stroke="#8791b4" stroke-width="0.75" stroke-dasharray="3.2 3.2"/>
<line x1="538.8" y1="467.9" x2="538.8" y2="509.5" stroke="#8791b4" stroke-width="0.75" stroke-dasharray="3.2 3.2"/>
<line x1="537.6" y1="289.3" x2="540" y2="289.3" stroke="#444" stroke-width="0.7"/>
<rect x="536.8" y="306.6" width="4" height="160.3" rx="0.6" fill="#f8faff" stroke="#909fcb" stroke-width="0.95"/>
<line x1="536.7" y1="379.2" x2="540.9" y2="379.2" stroke="#c46a80" stroke-width="0.65"/>
<line x1="611.3" y1="275.5" x2="611.3" y2="290.2" stroke="#8791b4" stroke-width="0.75" stroke-dasharray="3.2 3.2"/>
<line x1="611.3" y1="350.9" x2="611.3" y2="504.3" stroke="#8791b4" stroke-width="0.75" stroke-dasharray="3.2 3.2"/>
<line x1="610.1" y1="274" x2="612.5" y2="274" stroke="#444" stroke-width="0.7"/>
<line x1="610.2" y1="504.3" x2="612.4" y2="504.3" stroke="#444" stroke-width="0.7"/>
<rect x="609.3" y="290.2" width="4" height="59.7" rx="0.6" fill="#f8faff" stroke="#909fcb" stroke-width="0.95"/>
<line x1="609.2" y1="303.2" x2="613.4" y2="303.2" stroke="#c46a80" stroke-width="0.65"/>
<line x1="683.8" y1="395.3" x2="683.8" y2="404.7" stroke="#8791b4" stroke-width="0.75" stroke-dasharray="3.2 3.2"/>
<line x1="683.8" y1="421" x2="683.8" y2="427.3" stroke="#8791b4" stroke-width="0.75" stroke-dasharray="3.2 3.2"/>
<line x1="682.6" y1="393.8" x2="685" y2="393.8" stroke="#444" stroke-width="0.7"/>
<line x1="682.7" y1="427.3" x2="684.9" y2="427.3" stroke="#444" stroke-width="0.7"/>
<rect x="681.8" y="404.7" width="4" height="15.3" rx="0.6" fill="#f8faff" stroke="#909fcb" stroke-width="0.95"/>
<line x1="681.7" y1="412.9" x2="685.9" y2="412.9" stroke="#c46a80" stroke-width="0.65"/>
<text x="129.9" y="524.9" font-family="Liberation Sans, sans-serif" font-style="italic" font-size="11.8" fill="#45567f" textLength="48.5" lengthAdjust="spacingAndGlyphs">MM-GAN</text>
<text x="205.8" y="524.9" font-family="Liberation Sans, sans-serif" font-style="italic" font-size="11.8" fill="#45567f" textLength="45.2" lengthAdjust="spacingAndGlyphs">NS-GAN</text>
<text x="278.1" y="524.9" font-family="Liberation Sans, sans-serif" font-style="italic" font-size="11.8" fill="#45567f" textLength="39.6" lengthAdjust="spacingAndGlyphs">LSGAN</text>
<text x="353.4" y="524.9" font-family="Liberation Sans, sans-serif" font-style="italic" font-size="11.8" fill="#45567f" textLength="36.1" lengthAdjust="spacingAndGlyphs">WGAN</text>
<text x="418.5" y="524.9" font-family="Liberation Sans, sans-serif" font-style="italic" font-size="11.8" fill="#45567f" textLength="56.3" lengthAdjust="spacingAndGlyphs">WGAN GP</text>
<text x="501.2" y="524.9" font-family="Liberation Sans, sans-serif" font-style="italic" font-size="11.8" fill="#45567f" textLength="49.7" lengthAdjust="spacingAndGlyphs">DRAGAN</text>
<text x="576.3" y="524.9" font-family="Liberation Sans, sans-serif" font-style="italic" font-size="11.8" fill="#45567f" textLength="40.4" lengthAdjust="spacingAndGlyphs">BEGAN</text>
<text x="658.8" y="524.9" font-family="Liberation Sans, sans-serif" font-style="italic" font-size="11.8" fill="#45567f" textLength="22.4" lengthAdjust="spacingAndGlyphs">VAE</text>
<line x1="101.5" y1="615.8" x2="702.6" y2="615.8" stroke="#6e6e6e" stroke-width="0.9"/>
<line x1="114.5" y1="624.8" x2="114.5" y2="941" stroke="#555" stroke-width="1.5"/>
<path d="M114.5 621.3 l-2.7 7.7 h5.4 z" fill="#555"/>
<line x1="113.8" y1="941" x2="690" y2="943.6" stroke="#555" stroke-width="1.5"/>
<path d="M696.3 943.65 l-7.6 -3 v6 z" fill="#555"/>
<line x1="195.6" y1="654.2" x2="195.6" y2="906.5" stroke="#5c5c5c" stroke-width="1.7"/>
<line x1="268.6" y1="654.2" x2="268.6" y2="906.5" stroke="#5c5c5c" stroke-width="1.7"/>
<line x1="341.6" y1="654.2" x2="341.6" y2="906.5" stroke="#5c5c5c" stroke-width="1.7"/>
<line x1="414" y1="654.2" x2="414" y2="906.5" stroke="#5c5c5c" stroke-width="1.7"/>
<line x1="486.9" y1="654.2" x2="486.9" y2="906.5" stroke="#5c5c5c" stroke-width="1.7"/>
<line x1="559.9" y1="654.2" x2="559.9" y2="906.5" stroke="#5c5c5c" stroke-width="1.7"/>
<line x1="632.5" y1="654.2" x2="632.5" y2="906.5" stroke="#5c5c5c" stroke-width="1.7"/>
<text x="129.8" y="633.3" font-family="Liberation Sans, sans-serif" font-size="12.1" fill="#151515" stroke="#151515" stroke-width="0.12" textLength="138.3" lengthAdjust="spacingAndGlyphs">Frechet Inception Distance</text>
<text x="106.4" y="677.1" font-family="Liberation Sans, sans-serif" font-size="3.2" font-weight="bold" fill="#222" text-anchor="middle">512</text>
<text x="106.4" y="716.7" font-family="Liberation Sans, sans-serif" font-size="3.2" font-weight="bold" fill="#222" text-anchor="middle">256</text>
<text x="106.4" y="756.3" font-family="Liberation Sans, sans-serif" font-size="3.2" font-weight="bold" fill="#222" text-anchor="middle">128</text>
<text x="106.4" y="795.9" font-family="Liberation Sans, sans-serif" font-size="3.2" font-weight="bold" fill="#222" text-anchor="middle">64</text>
<text x="106.4" y="835.5" font-family="Liberation Sans, sans-serif" font-size="3.2" font-weight="bold" fill="#222" text-anchor="middle">32</text>
<text x="106.4" y="875.1" font-family="Liberation Sans, sans-serif" font-size="3.2" font-weight="bold" fill="#222" text-anchor="middle">16</text>
<g filter="url(#blur12)">
<g font-family="Liberation Sans, sans-serif" font-style="italic" text-anchor="middle">
<rect x="124" y="674.6" width="40.5" height="13.2" fill="#000"/>
<rect x="124" y="674.6" width="13.5" height="13.2" fill="url(#pg2)"/>
<rect x="137.5" y="674.6" width="13.5" height="13.2" fill="url(#pg2)"/>
<rect x="151" y="674.6" width="13.5" height="13.2" fill="url(#pg2)"/>
<rect x="124" y="691.48" width="27" height="13.2" fill="#000"/>
<rect x="124" y="691.48" width="13.5" height="13.2" fill="url(#ph2)"/>
<rect x="137.5" y="691.48" width="13.5" height="13.2" fill="url(#ph2)"/>
<rect x="151" y="691.48" width="13.5" height="13.2" fill="#fff"/>
<rect x="124" y="708.36" width="40.5" height="13.2" fill="#000"/>
<rect x="133.32" y="708.96" width="3.21" height="10.76" fill="#999"/>
<rect x="132.76" y="713.88" width="3.35" height="6.64" fill="#666"/>
<rect x="128.86" y="710.61" width="3.74" height="8.36" fill="#666"/>
<rect x="134.04" y="712.28" width="3.05" height="7.05" fill="#eee"/>
<rect x="137.7" y="713.02" width="3.62" height="6.87" fill="#bbb"/>
<rect x="138.39" y="711.18" width="4.02" height="9.48" fill="#999"/>
<rect x="145.7" y="709.34" width="2.08" height="10.31" fill="#eee"/>
<rect x="142.52" y="711.04" width="2.92" height="9.72" fill="#999"/>
<rect x="154.69" y="708.63" width="2.71" height="8.09" fill="#bbb"/>
<rect x="159.91" y="710.48" width="2.73" height="9" fill="#bbb"/>
<rect x="154.21" y="711.01" width="4.18" height="7.81" fill="#777"/>
<rect x="154.38" y="711.19" width="2.83" height="8.38" fill="#eee"/>
<rect x="124" y="725.24" width="40.5" height="13.2" fill="#000"/>
<rect x="137.5" y="725.24" width="13.5" height="13.2" fill="#8c8c8c"/>
<rect x="149.82" y="725.24" width="1.14" height="13.2" fill="#d0d0d0"/>
<rect x="147.55" y="725.24" width="2.16" height="13.2" fill="#111"/>
<rect x="142.12" y="725.24" width="1.92" height="13.2" fill="#222"/>
<rect x="139.87" y="725.24" width="1.01" height="13.2" fill="#d0d0d0"/>
<rect x="145.08" y="725.24" width="1.97" height="13.2" fill="#111"/>
<rect x="156.64" y="727.08" width="4.27" height="10.26" fill="#eee"/>
<rect x="159.57" y="725.48" width="3.72" height="7.09" fill="#eee"/>
<rect x="158.9" y="726.33" width="3.14" height="7.2" fill="#777"/>
<rect x="152.05" y="725.25" width="3.05" height="12.13" fill="#999"/>
<rect x="124" y="742.12" width="40.5" height="13.2" fill="#000"/>
<rect x="125.8" y="745.92" width="9.9" height="7.8" fill="#b4b4b4"/>
<path d="M128.35 746.02 q2.4 -3.2 4.8 0" fill="none" stroke="#b4b4b4" stroke-width="0.9"/>
<path d="M142.45 743.22 h1.1 l0.7 0.9 l0.7 -0.9 h1.1 l0.2 3.4 l2.4 7.7 h-9.6 l2.4 -7.7 z" fill="#6a6a6a"/>
<path d="M159.75 743.62 l3 1.2 l1.0 8.6 l-1.7 0.3 l-1.0 -5 z" fill="#cfcfcf" opacity="0.85"/>
<path d="M155.75 743.62 l-3 1.2 l-1.0 8.6 l1.7 0.3 l1.0 -5 z" fill="#cfcfcf" opacity="0.85"/>
<path d="M155.35 743.22 h1.5 l0.9 0.8 l0.9 -0.8 h1.5 l0.6 1.2 v9.9 h-6.6 v-9.9 z" fill="#cfcfcf"/>
<rect x="124" y="759" width="40.5" height="13.2" fill="#000"/>
<path d="M132.75 760.5 l2.6 1.2 l1.0 8.6 l-1.7 0.3 l-1.0 -5 z" fill="#d0d0d0" opacity="0.85"/>
<path d="M128.75 760.5 l-2.6 1.2 l-1.0 8.6 l1.7 0.3 l1.0 -5 z" fill="#d0d0d0" opacity="0.85"/>
<path d="M128.35 760.1 h1.5 l0.9 0.8 l0.9 -0.8 h1.5 l0.6 1.2 v9.9 h-6.6 v-9.9 z" fill="#d0d0d0"/>
<path d="M142.45 760.1 h1.1 l0.7 0.9 l0.7 -0.9 h1.1 l0.2 3.4 l2.4 7.7 h-9.6 l2.4 -7.7 z" fill="#a8a8a8"/>
<path d="M159.75 760.5 l2.2 1.2 l1.0 8.6 l-1.7 0.3 l-1.0 -5 z" fill="#808080" opacity="0.85"/>
<path d="M155.75 760.5 l-2.2 1.2 l-1.0 8.6 l1.7 0.3 l1.0 -5 z" fill="#808080" opacity="0.85"/>
<path d="M155.35 760.1 h1.5 l0.9 0.8 l0.9 -0.8 h1.5 l0.6 1.2 v9.9 h-6.6 v-9.9 z" fill="#808080"/>
<rect x="124" y="775.88" width="40.5" height="13.2" fill="#000"/>
<path d="M132.75 777.38 l2.9 1.2 l1.0 8.6 l-1.7 0.3 l-1.0 -5 z" fill="#c8c8c8" opacity="0.85"/>
<path d="M128.75 777.38 l-2.9 1.2 l-1.0 8.6 l1.7 0.3 l1.0 -5 z" fill="#c8c8c8" opacity="0.85"/>
<path d="M128.35 776.98 h1.5 l0.9 0.8 l0.9 -0.8 h1.5 l0.6 1.2 v9.9 h-6.6 v-9.9 z" fill="#c8c8c8"/>
<path d="M142.45 776.98 h1.1 l0.7 0.9 l0.7 -0.9 h1.1 l0.2 3.4 l2.4 7.7 h-9.6 l2.4 -7.7 z" fill="#a8a8a8"/>
<path d="M159.75 777.38 l2.9 1.2 l1.0 8.6 l-1.7 0.3 l-1.0 -5 z" fill="#dcdcdc" opacity="0.85"/>
<path d="M155.75 777.38 l-2.9 1.2 l-1.0 8.6 l1.7 0.3 l1.0 -5 z" fill="#dcdcdc" opacity="0.85"/>
<path d="M155.35 776.98 h1.5 l0.9 0.8 l0.9 -0.8 h1.5 l0.6 1.2 v9.9 h-6.6 v-9.9 z" fill="#dcdcdc"/>
<rect x="124" y="792.76" width="40.5" height="13.2" fill="#000"/>
<path d="M132.75 794.26 l2.2 1.2 l1.0 8.6 l-1.7 0.3 l-1.0 -5 z" fill="#6a6a6a" opacity="0.85"/>
<path d="M128.75 794.26 l-2.2 1.2 l-1.0 8.6 l1.7 0.3 l1.0 -5 z" fill="#6a6a6a" opacity="0.85"/>
<path d="M128.35 793.86 h1.5 l0.9 0.8 l0.9 -0.8 h1.5 l0.6 1.2 v9.9 h-6.6 v-9.9 z" fill="#6a6a6a"/>
<rect x="139.3" y="796.56" width="9.9" height="7.8" fill="#bcbcbc"/>
<path d="M141.85 796.66 q2.4 -3.2 4.8 0" fill="none" stroke="#bcbcbc" stroke-width="0.9"/>
<rect x="152.8" y="796.56" width="9.9" height="7.8" fill="#c8c8c8"/>
<path d="M155.35 796.66 q2.4 -3.2 4.8 0" fill="none" stroke="#c8c8c8" stroke-width="0.9"/>
<rect x="124" y="809.64" width="40.5" height="13.2" fill="#000"/>
<path d="M132.75 811.14 l2.6 1.2 l1.0 8.6 l-1.7 0.3 l-1.0 -5 z" fill="#c8c8c8" opacity="0.85"/>
<path d="M128.75 811.14 l-2.6 1.2 l-1.0 8.6 l1.7 0.3 l1.0 -5 z" fill="#c8c8c8" opacity="0.85"/>
<path d="M128.35 810.74 h1.5 l0.9 0.8 l0.9 -0.8 h1.5 l0.6 1.2 v9.9 h-6.6 v-9.9 z" fill="#c8c8c8"/>
<rect x="141.55" y="810.74" width="2.3" height="11.1" fill="#bcbcbc"/>
<rect x="144.65" y="810.74" width="2.3" height="11.1" fill="#bcbcbc"/>
<rect x="141.55" y="810.74" width="5.4" height="2.6" fill="#bcbcbc"/>
<path d="M159.75 811.14 l2.9 1.2 l1.0 8.6 l-1.7 0.3 l-1.0 -5 z" fill="#c8c8c8" opacity="0.85"/>
<path d="M155.75 811.14 l-2.9 1.2 l-1.0 8.6 l1.7 0.3 l1.0 -5 z" fill="#c8c8c8" opacity="0.85"/>
<path d="M155.35 810.74 h1.5 l0.9 0.8 l0.9 -0.8 h1.5 l0.6 1.2 v9.9 h-6.6 v-9.9 z" fill="#c8c8c8"/>
<rect x="124" y="826.52" width="40.5" height="13.2" fill="#000"/>
<path d="M125 834.12 l3.4 -0.5 l2.6 -2.9 l2.2 0.2 l0.6 2.4 l2.6 0.9 v2.3 h-11.4 z" fill="#d0d0d0"/>
<path d="M146.25 828.02 l2.6 1.2 l1.0 8.6 l-1.7 0.3 l-1.0 -5 z" fill="#dcdcdc" opacity="0.85"/>
<path d="M142.25 828.02 l-2.6 1.2 l-1.0 8.6 l1.7 0.3 l1.0 -5 z" fill="#dcdcdc" opacity="0.85"/>
<path d="M141.85 827.62 h1.5 l0.9 0.8 l0.9 -0.8 h1.5 l0.6 1.2 v9.9 h-6.6 v-9.9 z" fill="#dcdcdc"/>
<path d="M159.75 828.02 l2.2 1.2 l1.0 8.6 l-1.7 0.3 l-1.0 -5 z" fill="#6a6a6a" opacity="0.85"/>
<path d="M155.75 828.02 l-2.2 1.2 l-1.0 8.6 l1.7 0.3 l1.0 -5 z" fill="#6a6a6a" opacity="0.85"/>
<path d="M155.35 827.62 h1.5 l0.9 0.8 l0.9 -0.8 h1.5 l0.6 1.2 v9.9 h-6.6 v-9.9 z" fill="#6a6a6a"/>
<rect x="124" y="843.4" width="40.5" height="13.2" fill="#000"/>
<rect x="127.35" y="844.5" width="3" height="11.1" fill="#bcbcbc"/>
<rect x="131.15" y="844.5" width="3" height="11.1" fill="#bcbcbc"/>
<rect x="127.35" y="844.5" width="6.8" height="2.6" fill="#bcbcbc"/>
<path d="M146.25 844.9 l2.2 1.2 l1.0 8.6 l-1.7 0.3 l-1.0 -5 z" fill="#dcdcdc" opacity="0.85"/>
<path d="M142.25 844.9 l-2.2 1.2 l-1.0 8.6 l1.7 0.3 l1.0 -5 z" fill="#dcdcdc" opacity="0.85"/>
<path d="M141.85 844.5 h1.5 l0.9 0.8 l0.9 -0.8 h1.5 l0.6 1.2 v9.9 h-6.6 v-9.9 z" fill="#dcdcdc"/>
<path d="M152 851 l3.4 -0.5 l2.6 -2.9 l2.2 0.2 l0.6 2.4 l2.6 0.9 v2.3 h-11.4 z" fill="#d0d0d0"/>
<rect x="196.4" y="674.6" width="40.5" height="13.2" fill="#000"/>
<rect x="196.4" y="674.6" width="13.5" height="13.2" fill="url(#pg2)"/>
<rect x="209.9" y="674.6" width="13.5" height="13.2" fill="url(#pg2)"/>
<rect x="223.4" y="674.6" width="13.5" height="13.2" fill="url(#pg2)"/>
<rect x="196.4" y="691.48" width="40.5" height="13.2" fill="#000"/>
<rect x="196.4" y="691.48" width="13.5" height="13.2" fill="#8c8c8c"/>
<rect x="201.31" y="691.48" width="2" height="13.2" fill="#222"/>
<rect x="197.79" y="691.48" width="2.09" height="13.2" fill="#222"/>
<rect x="197.87" y="691.48" width="1.35" height="13.2" fill="#d0d0d0"/>
<rect x="205.37" y="691.48" width="1.03" height="13.2" fill="#e8e8e8"/>
<rect x="205.17" y="691.48" width="1.72" height="13.2" fill="#222"/>
<rect x="209.9" y="691.48" width="13.5" height="13.2" fill="#8c8c8c"/>
<rect x="218.8" y="691.48" width="1.59" height="13.2" fill="#e8e8e8"/>
<rect x="210.86" y="691.48" width="2.17" height="13.2" fill="#111"/>
<rect x="215.13" y="691.48" width="2.13" height="13.2" fill="#444"/>
<rect x="210.48" y="691.48" width="2.46" height="13.2" fill="#222"/>
<rect x="210.08" y="691.48" width="1.02" height="13.2" fill="#111"/>
<rect x="223.4" y="691.48" width="13.5" height="13.2" fill="#8c8c8c"/>
<rect x="227.25" y="691.48" width="1.13" height="13.2" fill="#111"/>
<rect x="233.93" y="691.48" width="1.27" height="13.2" fill="#d0d0d0"/>
<rect x="227.05" y="691.48" width="1.97" height="13.2" fill="#111"/>
<rect x="228.73" y="691.48" width="2.16" height="13.2" fill="#e8e8e8"/>
<rect x="233.18" y="691.48" width="1.23" height="13.2" fill="#444"/>
<rect x="196.4" y="708.36" width="40.5" height="13.2" fill="#000"/>
<rect x="196.4" y="708.36" width="13.5" height="13.2" fill="#8c8c8c"/>
<rect x="198.2" y="708.36" width="2.53" height="13.2" fill="#d0d0d0"/>
<rect x="205.53" y="708.36" width="1.76" height="13.2" fill="#d0d0d0"/>
<rect x="205.02" y="708.36" width="2.51" height="13.2" fill="#111"/>
<rect x="199.75" y="708.36" width="1.53" height="13.2" fill="#111"/>
<rect x="204.09" y="708.36" width="2.56" height="13.2" fill="#111"/>
<rect x="209.9" y="708.36" width="13.5" height="13.2" fill="#8c8c8c"/>
<rect x="217.15" y="708.36" width="1.53" height="13.2" fill="#222"/>
<rect x="216.61" y="708.36" width="2.33" height="13.2" fill="#444"/>
<rect x="221.19" y="708.36" width="1.94" height="13.2" fill="#e8e8e8"/>
<rect x="218.05" y="708.36" width="1.6" height="13.2" fill="#111"/>
<rect x="212.54" y="708.36" width="2.23" height="13.2" fill="#d0d0d0"/>
<rect x="223.4" y="708.36" width="13.5" height="13.2" fill="#8c8c8c"/>
<rect x="223.42" y="708.36" width="1.45" height="13.2" fill="#444"/>
<rect x="225.3" y="708.36" width="1.43" height="13.2" fill="#222"/>
<rect x="225.09" y="708.36" width="1.46" height="13.2" fill="#111"/>
<rect x="235.36" y="708.36" width="1.24" height="13.2" fill="#111"/>
<rect x="233.82" y="708.36" width="2.1" height="13.2" fill="#444"/>
<rect x="196.4" y="725.24" width="40.5" height="13.2" fill="#000"/>
<rect x="201.89" y="726.66" width="3.34" height="9.48" fill="#eee"/>
<rect x="198.55" y="727.27" width="4.33" height="10.2" fill="#666"/>
<rect x="205.41" y="725.27" width="3.77" height="10.08" fill="#666"/>
<rect x="197.31" y="726.64" width="3.15" height="11.39" fill="#999"/>
<path d="M218.65 726.74 l2.9 1.2 l1.0 8.6 l-1.7 0.3 l-1.0 -5 z" fill="#c8c8c8" opacity="0.85"/>
<path d="M214.65 726.74 l-2.9 1.2 l-1.0 8.6 l1.7 0.3 l1.0 -5 z" fill="#c8c8c8" opacity="0.85"/>
<path d="M214.25 726.34 h1.5 l0.9 0.8 l0.9 -0.8 h1.5 l0.6 1.2 v9.9 h-6.6 v-9.9 z" fill="#c8c8c8"/>
<rect x="226.05" y="725.77" width="3.3" height="11.55" fill="#d8d8d8"/>
<rect x="225.3" y="726.23" width="3.47" height="7.74" fill="#eee"/>
<rect x="229.63" y="728.72" width="2.72" height="8.73" fill="#999"/>
<rect x="233.44" y="728.42" width="2.62" height="9.53" fill="#bbb"/>
<rect x="196.4" y="742.12" width="40.5" height="13.2" fill="#000"/>
<path d="M205.15 743.62 l2.2 1.2 l1.0 8.6 l-1.7 0.3 l-1.0 -5 z" fill="#dcdcdc" opacity="0.85"/>
<path d="M201.15 743.62 l-2.2 1.2 l-1.0 8.6 l1.7 0.3 l1.0 -5 z" fill="#dcdcdc" opacity="0.85"/>
<path d="M200.75 743.22 h1.5 l0.9 0.8 l0.9 -0.8 h1.5 l0.6 1.2 v9.9 h-6.6 v-9.9 z" fill="#dcdcdc"/>
<path d="M218.65 743.62 l3 1.2 l1.0 8.6 l-1.7 0.3 l-1.0 -5 z" fill="#cfcfcf" opacity="0.85"/>
<path d="M214.65 743.62 l-3 1.2 l-1.0 8.6 l1.7 0.3 l1.0 -5 z" fill="#cfcfcf" opacity="0.85"/>
<path d="M214.25 743.22 h1.5 l0.9 0.8 l0.9 -0.8 h1.5 l0.6 1.2 v9.9 h-6.6 v-9.9 z" fill="#cfcfcf"/>
<path d="M232.15 743.62 l3 1.2 l1.0 8.6 l-1.7 0.3 l-1.0 -5 z" fill="#cfcfcf" opacity="0.85"/>
<path d="M228.15 743.62 l-3 1.2 l-1.0 8.6 l1.7 0.3 l1.0 -5 z" fill="#cfcfcf" opacity="0.85"/>
<path d="M227.75 743.22 h1.5 l0.9 0.8 l0.9 -0.8 h1.5 l0.6 1.2 v9.9 h-6.6 v-9.9 z" fill="#cfcfcf"/>
<rect x="196.4" y="759" width="40.5" height="13.2" fill="#000"/>
<path d="M205.15 760.5 l2.9 1.2 l1.0 8.6 l-1.7 0.3 l-1.0 -5 z" fill="#b4b4b4" opacity="0.85"/>
<path d="M201.15 760.5 l-2.9 1.2 l-1.0 8.6 l1.7 0.3 l1.0 -5 z" fill="#b4b4b4" opacity="0.85"/>
<path d="M200.75 760.1 h1.5 l0.9 0.8 l0.9 -0.8 h1.5 l0.6 1.2 v9.9 h-6.6 v-9.9 z" fill="#b4b4b4"/>
<path d="M218.65 760.5 l2.2 1.2 l1.0 8.6 l-1.7 0.3 l-1.0 -5 z" fill="#a8a8a8" opacity="0.85"/>
<path d="M214.65 760.5 l-2.2 1.2 l-1.0 8.6 l1.7 0.3 l1.0 -5 z" fill="#a8a8a8" opacity="0.85"/>
<path d="M214.25 760.1 h1.5 l0.9 0.8 l0.9 -0.8 h1.5 l0.6 1.2 v9.9 h-6.6 v-9.9 z" fill="#a8a8a8"/>
<path d="M232.15 760.5 l3 1.2 l1.0 8.6 l-1.7 0.3 l-1.0 -5 z" fill="#e6e6e6" opacity="0.85"/>
<path d="M228.15 760.5 l-3 1.2 l-1.0 8.6 l1.7 0.3 l1.0 -5 z" fill="#e6e6e6" opacity="0.85"/>
<path d="M227.75 760.1 h1.5 l0.9 0.8 l0.9 -0.8 h1.5 l0.6 1.2 v9.9 h-6.6 v-9.9 z" fill="#e6e6e6"/>
<rect x="196.4" y="775.88" width="40.5" height="13.2" fill="#000"/>
<path d="M198.4 777.58 h4.6 v4.4 l4.8 2.2 v2.8 h-9.4 z" fill="#e0e0e0"/>
<rect x="213.55" y="776.98" width="2.7" height="11.1" fill="#989898"/>
<rect x="217.05" y="776.98" width="2.7" height="11.1" fill="#989898"/>
<rect x="213.55" y="776.98" width="6.2" height="2.6" fill="#989898"/>
<path d="M224.4 783.48 l3.4 -0.5 l2.6 -2.9 l2.2 0.2 l0.6 2.4 l2.6 0.9 v2.3 h-11.4 z" fill="#b4b4b4"/>
<rect x="196.4" y="792.76" width="40.5" height="13.2" fill="#000"/>
<path d="M197.4 800.36 l3.4 -0.5 l2.6 -2.9 l2.2 0.2 l0.6 2.4 l2.6 0.9 v2.3 h-11.4 z" fill="#c8c8c8"/>
<path d="M210.9 800.36 l3.4 -0.5 l2.6 -2.9 l2.2 0.2 l0.6 2.4 l2.6 0.9 v2.3 h-11.4 z" fill="#bcbcbc"/>
<path d="M232.15 794.26 l2.9 1.2 l1.0 8.6 l-1.7 0.3 l-1.0 -5 z" fill="#dcdcdc" opacity="0.85"/>
<path d="M228.15 794.26 l-2.9 1.2 l-1.0 8.6 l1.7 0.3 l1.0 -5 z" fill="#dcdcdc" opacity="0.85"/>
<path d="M227.75 793.86 h1.5 l0.9 0.8 l0.9 -0.8 h1.5 l0.6 1.2 v9.9 h-6.6 v-9.9 z" fill="#dcdcdc"/>
<rect x="196.4" y="809.64" width="40.5" height="13.2" fill="#000"/>
<path d="M210.9 817.24 l3.4 -0.5 l2.6 -2.9 l2.2 0.2 l0.6 2.4 l2.6 0.9 v2.3 h-11.4 z" fill="#d0d0d0"/>
<rect x="227.45" y="810.74" width="2.3" height="11.1" fill="#b4b4b4"/>
<rect x="230.55" y="810.74" width="2.3" height="11.1" fill="#b4b4b4"/>
<rect x="227.45" y="810.74" width="5.4" height="2.6" fill="#b4b4b4"/>
<rect x="196.4" y="826.52" width="40.5" height="13.2" fill="#000"/>
<path d="M205.15 828.02 l2.2 1.2 l1.0 8.6 l-1.7 0.3 l-1.0 -5 z" fill="#808080" opacity="0.85"/>
<path d="M201.15 828.02 l-2.2 1.2 l-1.0 8.6 l1.7 0.3 l1.0 -5 z" fill="#808080" opacity="0.85"/>
<path d="M200.75 827.62 h1.5 l0.9 0.8 l0.9 -0.8 h1.5 l0.6 1.2 v9.9 h-6.6 v-9.9 z" fill="#808080"/>
<path d="M218.65 828.02 l2.6 1.2 l1.0 8.6 l-1.7 0.3 l-1.0 -5 z" fill="#d0d0d0" opacity="0.85"/>
<path d="M214.65 828.02 l-2.6 1.2 l-1.0 8.6 l1.7 0.3 l1.0 -5 z" fill="#d0d0d0" opacity="0.85"/>
<path d="M214.25 827.62 h1.5 l0.9 0.8 l0.9 -0.8 h1.5 l0.6 1.2 v9.9 h-6.6 v-9.9 z" fill="#d0d0d0"/>
<path d="M232.15 828.02 l2.2 1.2 l1.0 8.6 l-1.7 0.3 l-1.0 -5 z" fill="#bcbcbc" opacity="0.85"/>
<path d="M228.15 828.02 l-2.2 1.2 l-1.0 8.6 l1.7 0.3 l1.0 -5 z" fill="#bcbcbc" opacity="0.85"/>
<path d="M227.75 827.62 h1.5 l0.9 0.8 l0.9 -0.8 h1.5 l0.6 1.2 v9.9 h-6.6 v-9.9 z" fill="#bcbcbc"/>
<rect x="196.4" y="843.4" width="40.5" height="13.2" fill="#000"/>
<path d="M197.4 851 l3.4 -0.5 l2.6 -2.9 l2.2 0.2 l0.6 2.4 l2.6 0.9 v2.3 h-11.4 z" fill="#a8a8a8"/>
<path d="M218.65 844.9 l2.9 1.2 l1.0 8.6 l-1.7 0.3 l-1.0 -5 z" fill="#a8a8a8" opacity="0.85"/>
<path d="M214.65 844.9 l-2.9 1.2 l-1.0 8.6 l1.7 0.3 l1.0 -5 z" fill="#a8a8a8" opacity="0.85"/>
<path d="M214.25 844.5 h1.5 l0.9 0.8 l0.9 -0.8 h1.5 l0.6 1.2 v9.9 h-6.6 v-9.9 z" fill="#a8a8a8"/>
<rect x="226.75" y="844.5" width="3" height="11.1" fill="#808080"/>
<rect x="230.55" y="844.5" width="3" height="11.1" fill="#808080"/>
<rect x="226.75" y="844.5" width="6.8" height="2.6" fill="#808080"/>
<rect x="196.4" y="860.28" width="40.5" height="13.2" fill="#000"/>
<rect x="200.05" y="861.38" width="2.7" height="11.1" fill="#dcdcdc"/>
<rect x="203.55" y="861.38" width="2.7" height="11.1" fill="#dcdcdc"/>
<rect x="200.05" y="861.38" width="6.2" height="2.6" fill="#dcdcdc"/>
<path d="M218.65 861.78 l2.9 1.2 l1.0 8.6 l-1.7 0.3 l-1.0 -5 z" fill="#bcbcbc" opacity="0.85"/>
<path d="M214.65 861.78 l-2.9 1.2 l-1.0 8.6 l1.7 0.3 l1.0 -5 z" fill="#bcbcbc" opacity="0.85"/>
<path d="M214.25 861.38 h1.5 l0.9 0.8 l0.9 -0.8 h1.5 l0.6 1.2 v9.9 h-6.6 v-9.9 z" fill="#bcbcbc"/>
<path d="M232.15 861.78 l2.2 1.2 l1.0 8.6 l-1.7 0.3 l-1.0 -5 z" fill="#c8c8c8" opacity="0.85"/>
<path d="M228.15 861.78 l-2.2 1.2 l-1.0 8.6 l1.7 0.3 l1.0 -5 z" fill="#c8c8c8" opacity="0.85"/>
<path d="M227.75 861.38 h1.5 l0.9 0.8 l0.9 -0.8 h1.5 l0.6 1.2 v9.9 h-6.6 v-9.9 z" fill="#c8c8c8"/>
<rect x="269.3" y="657.72" width="40.5" height="13.2" fill="#000"/>
<rect x="269.3" y="657.72" width="13.5" height="13.2" fill="url(#pd2)"/>
<rect x="282.8" y="657.72" width="13.5" height="13.2" fill="url(#pd2)"/>
<rect x="296.3" y="657.72" width="13.5" height="13.2" fill="url(#pd2)"/>
<rect x="269.3" y="674.6" width="40.5" height="13.2" fill="#000"/>
<rect x="269.3" y="674.6" width="13.5" height="13.2" fill="url(#ph2)"/>
<rect x="282.8" y="674.6" width="13.5" height="13.2" fill="url(#ph2)"/>
<rect x="296.3" y="674.6" width="13.5" height="13.2" fill="url(#ph2)"/>
<rect x="269.3" y="708.36" width="40.5" height="13.2" fill="#000"/>
<rect x="270.18" y="709.46" width="3.77" height="8.49" fill="#777"/>
<rect x="275.4" y="710.27" width="4.39" height="8.94" fill="#999"/>
<rect x="271.79" y="708.76" width="2.93" height="10.88" fill="#bbb"/>
<rect x="269.84" y="708.45" width="4.35" height="9.88" fill="#777"/>
<rect x="288.37" y="710.04" width="2.64" height="10.99" fill="#666"/>
<rect x="284.44" y="710.35" width="2.14" height="11.08" fill="#eee"/>
<rect x="288.48" y="710.96" width="3.87" height="9.22" fill="#666"/>
<rect x="285.55" y="711.18" width="2.81" height="7.34" fill="#999"/>
<rect x="304.7" y="709.4" width="3.1" height="12.03" fill="#666"/>
<rect x="298.19" y="714.28" width="3.79" height="6.81" fill="#999"/>
<rect x="303.29" y="711.64" width="2.19" height="8.82" fill="#666"/>
<rect x="304.73" y="708.45" width="4.39" height="8.89" fill="#777"/>
<rect x="269.3" y="725.24" width="40.5" height="13.2" fill="#000"/>
<rect x="272.82" y="726.06" width="3.13" height="11.49" fill="#eee"/>
<rect x="272.81" y="725.64" width="2.92" height="10.97" fill="#666"/>
<rect x="270.76" y="725.62" width="3.38" height="11.77" fill="#666"/>
<rect x="269.58" y="726.19" width="2.62" height="9.99" fill="#999"/>
<path d="M291.55 726.74 l2.6 1.2 l1.0 8.6 l-1.7 0.3 l-1.0 -5 z" fill="#b4b4b4" opacity="0.85"/>
<path d="M287.55 726.74 l-2.6 1.2 l-1.0 8.6 l1.7 0.3 l1.0 -5 z" fill="#b4b4b4" opacity="0.85"/>
<path d="M287.15 726.34 h1.5 l0.9 0.8 l0.9 -0.8 h1.5 l0.6 1.2 v9.9 h-6.6 v-9.9 z" fill="#b4b4b4"/>
<rect x="301.42" y="725.81" width="2.27" height="9.47" fill="#d8d8d8"/>
<rect x="306.47" y="725.8" width="2.14" height="10.57" fill="#666"/>
<rect x="297.42" y="727.29" width="4.09" height="11.08" fill="#666"/>
<rect x="305.31" y="725.35" width="4.48" height="12.09" fill="#bbb"/>
<rect x="269.3" y="742.12" width="40.5" height="13.2" fill="#000"/>
<rect x="273.35" y="743.22" width="2.3" height="11.1" fill="#c8c8c8"/>
<rect x="276.45" y="743.22" width="2.3" height="11.1" fill="#c8c8c8"/>
<rect x="273.35" y="743.22" width="5.4" height="2.6" fill="#c8c8c8"/>
<path d="M291.55 743.62 l2.9 1.2 l1.0 8.6 l-1.7 0.3 l-1.0 -5 z" fill="#a8a8a8" opacity="0.85"/>
<path d="M287.55 743.62 l-2.9 1.2 l-1.0 8.6 l1.7 0.3 l1.0 -5 z" fill="#a8a8a8" opacity="0.85"/>
<path d="M287.15 743.22 h1.5 l0.9 0.8 l0.9 -0.8 h1.5 l0.6 1.2 v9.9 h-6.6 v-9.9 z" fill="#a8a8a8"/>
<rect x="297.61" y="743.36" width="4.45" height="10.4" fill="#d8d8d8"/>
<rect x="297.79" y="747.6" width="2.85" height="6.61" fill="#d8d8d8"/>
<rect x="300.18" y="744.72" width="2.72" height="6.84" fill="#bbb"/>
<rect x="297.69" y="746.38" width="3.43" height="7.67" fill="#eee"/>
<rect x="269.3" y="759" width="40.5" height="13.2" fill="#000"/>
<path d="M278.05 760.5 l2.2 1.2 l1.0 8.6 l-1.7 0.3 l-1.0 -5 z" fill="#d0d0d0" opacity="0.85"/>
<path d="M274.05 760.5 l-2.2 1.2 l-1.0 8.6 l1.7 0.3 l1.0 -5 z" fill="#d0d0d0" opacity="0.85"/>
<path d="M273.65 760.1 h1.5 l0.9 0.8 l0.9 -0.8 h1.5 l0.6 1.2 v9.9 h-6.6 v-9.9 z" fill="#d0d0d0"/>
<path d="M291.55 760.5 l2.2 1.2 l1.0 8.6 l-1.7 0.3 l-1.0 -5 z" fill="#bcbcbc" opacity="0.85"/>
<path d="M287.55 760.5 l-2.2 1.2 l-1.0 8.6 l1.7 0.3 l1.0 -5 z" fill="#bcbcbc" opacity="0.85"/>
<path d="M287.15 760.1 h1.5 l0.9 0.8 l0.9 -0.8 h1.5 l0.6 1.2 v9.9 h-6.6 v-9.9 z" fill="#bcbcbc"/>
<path d="M305.05 760.5 l2.6 1.2 l1.0 8.6 l-1.7 0.3 l-1.0 -5 z" fill="#dcdcdc" opacity="0.85"/>
<path d="M301.05 760.5 l-2.6 1.2 l-1.0 8.6 l1.7 0.3 l1.0 -5 z" fill="#dcdcdc" opacity="0.85"/>
<path d="M300.65 760.1 h1.5 l0.9 0.8 l0.9 -0.8 h1.5 l0.6 1.2 v9.9 h-6.6 v-9.9 z" fill="#dcdcdc"/>
<rect x="269.3" y="775.88" width="40.5" height="13.2" fill="#000"/>
<path d="M278.05 777.38 l2.2 1.2 l1.0 8.6 l-1.7 0.3 l-1.0 -5 z" fill="#d0d0d0" opacity="0.85"/>
<path d="M274.05 777.38 l-2.2 1.2 l-1.0 8.6 l1.7 0.3 l1.0 -5 z" fill="#d0d0d0" opacity="0.85"/>
<path d="M273.65 776.98 h1.5 l0.9 0.8 l0.9 -0.8 h1.5 l0.6 1.2 v9.9 h-6.6 v-9.9 z" fill="#d0d0d0"/>
<path d="M291.55 777.38 l3 1.2 l1.0 8.6 l-1.7 0.3 l-1.0 -5 z" fill="#e6e6e6" opacity="0.85"/>
<path d="M287.55 777.38 l-3 1.2 l-1.0 8.6 l1.7 0.3 l1.0 -5 z" fill="#e6e6e6" opacity="0.85"/>
<path d="M287.15 776.98 h1.5 l0.9 0.8 l0.9 -0.8 h1.5 l0.6 1.2 v9.9 h-6.6 v-9.9 z" fill="#e6e6e6"/>
<rect x="300.35" y="776.98" width="2.3" height="11.1" fill="#b4b4b4"/>
<rect x="303.45" y="776.98" width="2.3" height="11.1" fill="#b4b4b4"/>
<rect x="300.35" y="776.98" width="5.4" height="2.6" fill="#b4b4b4"/>
<rect x="269.3" y="792.76" width="40.5" height="13.2" fill="#000"/>
<path d="M278.05 794.26 l2.2 1.2 l1.0 8.6 l-1.7 0.3 l-1.0 -5 z" fill="#a8a8a8" opacity="0.85"/>
<path d="M274.05 794.26 l-2.2 1.2 l-1.0 8.6 l1.7 0.3 l1.0 -5 z" fill="#a8a8a8" opacity="0.85"/>
<path d="M273.65 793.86 h1.5 l0.9 0.8 l0.9 -0.8 h1.5 l0.6 1.2 v9.9 h-6.6 v-9.9 z" fill="#a8a8a8"/>
<path d="M291.55 794.26 l2.6 1.2 l1.0 8.6 l-1.7 0.3 l-1.0 -5 z" fill="#6a6a6a" opacity="0.85"/>
<path d="M287.55 794.26 l-2.6 1.2 l-1.0 8.6 l1.7 0.3 l1.0 -5 z" fill="#6a6a6a" opacity="0.85"/>
<path d="M287.15 793.86 h1.5 l0.9 0.8 l0.9 -0.8 h1.5 l0.6 1.2 v9.9 h-6.6 v-9.9 z" fill="#6a6a6a"/>
<path d="M305.05 794.26 l2.9 1.2 l1.0 8.6 l-1.7 0.3 l-1.0 -5 z" fill="#a8a8a8" opacity="0.85"/>
<path d="M301.05 794.26 l-2.9 1.2 l-1.0 8.6 l1.7 0.3 l1.0 -5 z" fill="#a8a8a8" opacity="0.85"/>
<path d="M300.65 793.86 h1.5 l0.9 0.8 l0.9 -0.8 h1.5 l0.6 1.2 v9.9 h-6.6 v-9.9 z" fill="#a8a8a8"/>
<rect x="269.3" y="809.64" width="40.5" height="13.2" fill="#000"/>
<rect x="272.95" y="810.74" width="2.7" height="11.1" fill="#808080"/>
<rect x="276.45" y="810.74" width="2.7" height="11.1" fill="#808080"/>
<rect x="272.95" y="810.74" width="6.2" height="2.6" fill="#808080"/>
<path d="M291.55 811.14 l2.9 1.2 l1.0 8.6 l-1.7 0.3 l-1.0 -5 z" fill="#b4b4b4" opacity="0.85"/>
<path d="M287.55 811.14 l-2.9 1.2 l-1.0 8.6 l1.7 0.3 l1.0 -5 z" fill="#b4b4b4" opacity="0.85"/>
<path d="M287.15 810.74 h1.5 l0.9 0.8 l0.9 -0.8 h1.5 l0.6 1.2 v9.9 h-6.6 v-9.9 z" fill="#b4b4b4"/>
<rect x="298.1" y="813.44" width="9.9" height="7.8" fill="#dcdcdc"/>
<path d="M300.65 813.54 q2.4 -3.2 4.8 0" fill="none" stroke="#dcdcdc" stroke-width="0.9"/>
<rect x="269.3" y="826.52" width="40.5" height="13.2" fill="#000"/>
<path d="M274.25 827.62 h1.1 l0.7 0.9 l0.7 -0.9 h1.1 l0.2 3.4 l2.4 7.7 h-9.6 l2.4 -7.7 z" fill="#bcbcbc"/>
<path d="M283.8 834.12 l3.4 -0.5 l2.6 -2.9 l2.2 0.2 l0.6 2.4 l2.6 0.9 v2.3 h-11.4 z" fill="#a8a8a8"/>
<rect x="299.95" y="827.62" width="2.7" height="11.1" fill="#c8c8c8"/>
<rect x="303.45" y="827.62" width="2.7" height="11.1" fill="#c8c8c8"/>
<rect x="299.95" y="827.62" width="6.2" height="2.6" fill="#c8c8c8"/>
<rect x="269.3" y="843.4" width="40.5" height="13.2" fill="#000"/>
<path d="M278.05 844.9 l2.9 1.2 l1.0 8.6 l-1.7 0.3 l-1.0 -5 z" fill="#d0d0d0" opacity="0.85"/>
<path d="M274.05 844.9 l-2.9 1.2 l-1.0 8.6 l1.7 0.3 l1.0 -5 z" fill="#d0d0d0" opacity="0.85"/>
<path d="M273.65 844.5 h1.5 l0.9 0.8 l0.9 -0.8 h1.5 l0.6 1.2 v9.9 h-6.6 v-9.9 z" fill="#d0d0d0"/>
<path d="M291.55 844.9 l2.2 1.2 l1.0 8.6 l-1.7 0.3 l-1.0 -5 z" fill="#b4b4b4" opacity="0.85"/>
<path d="M287.55 844.9 l-2.2 1.2 l-1.0 8.6 l1.7 0.3 l1.0 -5 z" fill="#b4b4b4" opacity="0.85"/>
<path d="M287.15 844.5 h1.5 l0.9 0.8 l0.9 -0.8 h1.5 l0.6 1.2 v9.9 h-6.6 v-9.9 z" fill="#b4b4b4"/>
<path d="M305.05 844.9 l2.9 1.2 l1.0 8.6 l-1.7 0.3 l-1.0 -5 z" fill="#d0d0d0" opacity="0.85"/>
<path d="M301.05 844.9 l-2.9 1.2 l-1.0 8.6 l1.7 0.3 l1.0 -5 z" fill="#d0d0d0" opacity="0.85"/>
<path d="M300.65 844.5 h1.5 l0.9 0.8 l0.9 -0.8 h1.5 l0.6 1.2 v9.9 h-6.6 v-9.9 z" fill="#d0d0d0"/>
<rect x="342.4" y="674.6" width="40.5" height="13.2" fill="#000"/>
<rect x="342.4" y="674.6" width="13.5" height="13.2" fill="url(#pg2)"/>
<rect x="355.9" y="674.6" width="13.5" height="13.2" fill="url(#pg2)"/>
<rect x="369.4" y="674.6" width="13.5" height="13.2" fill="url(#pg2)"/>
<rect x="342.4" y="691.48" width="13.5" height="13.2" fill="#fff"/>
<rect x="346.83" y="694.63" width="2.16" height="2.4" fill="#222"/>
<rect x="343.44" y="697.31" width="1.83" height="2.18" fill="#222"/>
<rect x="344.58" y="698.82" width="1.72" height="2.75" fill="#222"/>
<rect x="346.38" y="698.45" width="2.21" height="2.48" fill="#222"/>
<rect x="343.98" y="699.72" width="2.05" height="2.05" fill="#222"/>
<rect x="355.9" y="691.48" width="13.5" height="13.2" fill="#fff"/>
<rect x="361.43" y="697" width="2.34" height="3" fill="#222"/>
<rect x="357.1" y="700.69" width="1.75" height="1.75" fill="#222"/>
<rect x="358.76" y="694.29" width="1.31" height="1.28" fill="#222"/>
<rect x="357.18" y="694.16" width="2.14" height="3.15" fill="#222"/>
<rect x="357.08" y="698.23" width="1.27" height="1.7" fill="#222"/>
<rect x="369.4" y="691.48" width="13.5" height="13.2" fill="#fff"/>
<rect x="377.26" y="694.25" width="1.73" height="2.87" fill="#222"/>
<rect x="370.83" y="694.37" width="2" height="2.49" fill="#222"/>
<rect x="373.14" y="694.4" width="1.7" height="1.95" fill="#222"/>
<rect x="376.5" y="700.38" width="1.19" height="1.03" fill="#222"/>
<rect x="377.64" y="694.7" width="1.8" height="2.9" fill="#222"/>
<rect x="342.4" y="708.36" width="40.5" height="13.2" fill="#000"/>
<path d="M351.15 709.86 l2.9 1.2 l1.0 8.6 l-1.7 0.3 l-1.0 -5 z" fill="#c8c8c8" opacity="0.85"/>
<path d="M347.15 709.86 l-2.9 1.2 l-1.0 8.6 l1.7 0.3 l1.0 -5 z" fill="#c8c8c8" opacity="0.85"/>
<path d="M346.75 709.46 h1.5 l0.9 0.8 l0.9 -0.8 h1.5 l0.6 1.2 v9.9 h-6.6 v-9.9 z" fill="#c8c8c8"/>
<path d="M364.65 709.86 l3 1.2 l1.0 8.6 l-1.7 0.3 l-1.0 -5 z" fill="#d8d8d8" opacity="0.85"/>
<path d="M360.65 709.86 l-3 1.2 l-1.0 8.6 l1.7 0.3 l1.0 -5 z" fill="#d8d8d8" opacity="0.85"/>
<path d="M360.25 709.46 h1.5 l0.9 0.8 l0.9 -0.8 h1.5 l0.6 1.2 v9.9 h-6.6 v-9.9 z" fill="#d8d8d8"/>
<path d="M378.15 709.86 l2.2 1.2 l1.0 8.6 l-1.7 0.3 l-1.0 -5 z" fill="#c8c8c8" opacity="0.85"/>
<path d="M374.15 709.86 l-2.2 1.2 l-1.0 8.6 l1.7 0.3 l1.0 -5 z" fill="#c8c8c8" opacity="0.85"/>
<path d="M373.75 709.46 h1.5 l0.9 0.8 l0.9 -0.8 h1.5 l0.6 1.2 v9.9 h-6.6 v-9.9 z" fill="#c8c8c8"/>
<rect x="342.4" y="725.24" width="40.5" height="13.2" fill="#000"/>
<rect x="346.05" y="726.34" width="2.7" height="11.1" fill="#808080"/>
<rect x="349.55" y="726.34" width="2.7" height="11.1" fill="#808080"/>
<rect x="346.05" y="726.34" width="6.2" height="2.6" fill="#808080"/>
<path d="M378.15 726.74 l2.2 1.2 l1.0 8.6 l-1.7 0.3 l-1.0 -5 z" fill="#c8c8c8" opacity="0.85"/>
<path d="M374.15 726.74 l-2.2 1.2 l-1.0 8.6 l1.7 0.3 l1.0 -5 z" fill="#c8c8c8" opacity="0.85"/>
<path d="M373.75 726.34 h1.5 l0.9 0.8 l0.9 -0.8 h1.5 l0.6 1.2 v9.9 h-6.6 v-9.9 z" fill="#c8c8c8"/>
<rect x="342.4" y="742.12" width="40.5" height="13.2" fill="#000"/>
<path d="M351.15 743.62 l3 1.2 l1.0 8.6 l-1.7 0.3 l-1.0 -5 z" fill="#f0f0f0" opacity="0.85"/>
<path d="M347.15 743.62 l-3 1.2 l-1.0 8.6 l1.7 0.3 l1.0 -5 z" fill="#f0f0f0" opacity="0.85"/>
<path d="M346.75 743.22 h1.5 l0.9 0.8 l0.9 -0.8 h1.5 l0.6 1.2 v9.9 h-6.6 v-9.9 z" fill="#f0f0f0"/>
<path d="M364.65 743.62 l3 1.2 l1.0 8.6 l-1.7 0.3 l-1.0 -5 z" fill="#f0f0f0" opacity="0.85"/>
<path d="M360.65 743.62 l-3 1.2 l-1.0 8.6 l1.7 0.3 l1.0 -5 z" fill="#f0f0f0" opacity="0.85"/>
<path d="M360.25 743.22 h1.5 l0.9 0.8 l0.9 -0.8 h1.5 l0.6 1.2 v9.9 h-6.6 v-9.9 z" fill="#f0f0f0"/>
<path d="M378.15 743.62 l3 1.2 l1.0 8.6 l-1.7 0.3 l-1.0 -5 z" fill="#d8d8d8" opacity="0.85"/>
<path d="M374.15 743.62 l-3 1.2 l-1.0 8.6 l1.7 0.3 l1.0 -5 z" fill="#d8d8d8" opacity="0.85"/>
<path d="M373.75 743.22 h1.5 l0.9 0.8 l0.9 -0.8 h1.5 l0.6 1.2 v9.9 h-6.6 v-9.9 z" fill="#d8d8d8"/>
<rect x="342.4" y="759" width="40.5" height="13.2" fill="#000"/>
<path d="M351.15 760.5 l2.9 1.2 l1.0 8.6 l-1.7 0.3 l-1.0 -5 z" fill="#808080" opacity="0.85"/>
<path d="M347.15 760.5 l-2.9 1.2 l-1.0 8.6 l1.7 0.3 l1.0 -5 z" fill="#808080" opacity="0.85"/>
<path d="M346.75 760.1 h1.5 l0.9 0.8 l0.9 -0.8 h1.5 l0.6 1.2 v9.9 h-6.6 v-9.9 z" fill="#808080"/>
<path d="M364.65 760.5 l2.9 1.2 l1.0 8.6 l-1.7 0.3 l-1.0 -5 z" fill="#d0d0d0" opacity="0.85"/>
<path d="M360.65 760.5 l-2.9 1.2 l-1.0 8.6 l1.7 0.3 l1.0 -5 z" fill="#d0d0d0" opacity="0.85"/>
<path d="M360.25 760.1 h1.5 l0.9 0.8 l0.9 -0.8 h1.5 l0.6 1.2 v9.9 h-6.6 v-9.9 z" fill="#d0d0d0"/>
<path d="M378.15 760.5 l2.2 1.2 l1.0 8.6 l-1.7 0.3 l-1.0 -5 z" fill="#808080" opacity="0.85"/>
<path d="M374.15 760.5 l-2.2 1.2 l-1.0 8.6 l1.7 0.3 l1.0 -5 z" fill="#808080" opacity="0.85"/>
<path d="M373.75 760.1 h1.5 l0.9 0.8 l0.9 -0.8 h1.5 l0.6 1.2 v9.9 h-6.6 v-9.9 z" fill="#808080"/>
<rect x="342.4" y="775.88" width="40.5" height="13.2" fill="#000"/>
<rect x="345.75" y="776.98" width="3" height="11.1" fill="#c8c8c8"/>
<rect x="349.55" y="776.98" width="3" height="11.1" fill="#c8c8c8"/>
<rect x="345.75" y="776.98" width="6.8" height="2.6" fill="#c8c8c8"/>
<rect x="359.55" y="776.98" width="2.7" height="11.1" fill="#a8a8a8"/>
<rect x="363.05" y="776.98" width="2.7" height="11.1" fill="#a8a8a8"/>
<rect x="359.55" y="776.98" width="6.2" height="2.6" fill="#a8a8a8"/>
<rect x="372.75" y="776.98" width="3" height="11.1" fill="#bcbcbc"/>
<rect x="376.55" y="776.98" width="3" height="11.1" fill="#bcbcbc"/>
<rect x="372.75" y="776.98" width="6.8" height="2.6" fill="#bcbcbc"/>
<rect x="342.4" y="792.76" width="40.5" height="13.2" fill="#000"/>
<path d="M343.4 800.36 l3.4 -0.5 l2.6 -2.9 l2.2 0.2 l0.6 2.4 l2.6 0.9 v2.3 h-11.4 z" fill="#d0d0d0"/>
<rect x="360.8" y="792.84" width="2.17" height="9.6" fill="#999"/>
<rect x="360.05" y="793.07" width="3.05" height="12.53" fill="#777"/>
<rect x="364.28" y="792.81" width="4.02" height="11.85" fill="#eee"/>
<rect x="365.03" y="794.58" width="3.55" height="10.3" fill="#777"/>
<path d="M378.15 794.26 l2.6 1.2 l1.0 8.6 l-1.7 0.3 l-1.0 -5 z" fill="#bcbcbc" opacity="0.85"/>
<path d="M374.15 794.26 l-2.6 1.2 l-1.0 8.6 l1.7 0.3 l1.0 -5 z" fill="#bcbcbc" opacity="0.85"/>
<path d="M373.75 793.86 h1.5 l0.9 0.8 l0.9 -0.8 h1.5 l0.6 1.2 v9.9 h-6.6 v-9.9 z" fill="#bcbcbc"/>
<rect x="342.4" y="809.64" width="40.5" height="13.2" fill="#000"/>
<path d="M351.15 811.14 l2.9 1.2 l1.0 8.6 l-1.7 0.3 l-1.0 -5 z" fill="#bcbcbc" opacity="0.85"/>
<path d="M347.15 811.14 l-2.9 1.2 l-1.0 8.6 l1.7 0.3 l1.0 -5 z" fill="#bcbcbc" opacity="0.85"/>
<path d="M346.75 810.74 h1.5 l0.9 0.8 l0.9 -0.8 h1.5 l0.6 1.2 v9.9 h-6.6 v-9.9 z" fill="#bcbcbc"/>
<rect x="357.7" y="813.44" width="9.9" height="7.8" fill="#a8a8a8"/>
<path d="M360.25 813.54 q2.4 -3.2 4.8 0" fill="none" stroke="#a8a8a8" stroke-width="0.9"/>
<path d="M370.4 817.24 l3.4 -0.5 l2.6 -2.9 l2.2 0.2 l0.6 2.4 l2.6 0.9 v2.3 h-11.4 z" fill="#c8c8c8"/>
<rect x="342.4" y="826.52" width="40.5" height="13.2" fill="#000"/>
<path d="M351.15 828.02 l2.2 1.2 l1.0 8.6 l-1.7 0.3 l-1.0 -5 z" fill="#989898" opacity="0.85"/>
<path d="M347.15 828.02 l-2.2 1.2 l-1.0 8.6 l1.7 0.3 l1.0 -5 z" fill="#989898" opacity="0.85"/>
<path d="M346.75 827.62 h1.5 l0.9 0.8 l0.9 -0.8 h1.5 l0.6 1.2 v9.9 h-6.6 v-9.9 z" fill="#989898"/>
<rect x="359.95" y="827.62" width="2.3" height="11.1" fill="#b4b4b4"/>
<rect x="363.05" y="827.62" width="2.3" height="11.1" fill="#b4b4b4"/>
<rect x="359.95" y="827.62" width="5.4" height="2.6" fill="#b4b4b4"/>
<rect x="371.2" y="830.32" width="9.9" height="7.8" fill="#b4b4b4"/>
<path d="M373.75 830.42 q2.4 -3.2 4.8 0" fill="none" stroke="#b4b4b4" stroke-width="0.9"/>
<rect x="342.4" y="843.4" width="40.5" height="13.2" fill="#000"/>
<path d="M344.4 845.1 h4.6 v4.4 l4.8 2.2 v2.8 h-9.4 z" fill="#e0e0e0"/>
<path d="M364.65 844.9 l3 1.2 l1.0 8.6 l-1.7 0.3 l-1.0 -5 z" fill="#d8d8d8" opacity="0.85"/>
<path d="M360.65 844.9 l-3 1.2 l-1.0 8.6 l1.7 0.3 l1.0 -5 z" fill="#d8d8d8" opacity="0.85"/>
<path d="M360.25 844.5 h1.5 l0.9 0.8 l0.9 -0.8 h1.5 l0.6 1.2 v9.9 h-6.6 v-9.9 z" fill="#d8d8d8"/>
<rect x="371.2" y="847.2" width="9.9" height="7.8" fill="#a8a8a8"/>
<path d="M373.75 847.3 q2.4 -3.2 4.8 0" fill="none" stroke="#a8a8a8" stroke-width="0.9"/>
<rect x="342.4" y="877.16" width="40.5" height="13.2" fill="#000"/>
<rect x="346.05" y="878.26" width="2.7" height="11.1" fill="#6a6a6a"/>
<rect x="349.55" y="878.26" width="2.7" height="11.1" fill="#6a6a6a"/>
<rect x="346.05" y="878.26" width="6.2" height="2.6" fill="#6a6a6a"/>
<path d="M356.9 884.76 l3.4 -0.5 l2.6 -2.9 l2.2 0.2 l0.6 2.4 l2.6 0.9 v2.3 h-11.4 z" fill="#bcbcbc"/>
<rect x="372.75" y="878.26" width="3" height="11.1" fill="#dcdcdc"/>
<rect x="376.55" y="878.26" width="3" height="11.1" fill="#dcdcdc"/>
<rect x="372.75" y="878.26" width="6.8" height="2.6" fill="#dcdcdc"/>
<rect x="415" y="691.48" width="40.5" height="13.2" fill="#000"/>
<rect x="415" y="691.48" width="13.5" height="13.2" fill="url(#pg2)"/>
<rect x="430.01" y="692.25" width="3.33" height="7.34" fill="#bbb"/>
<rect x="433.82" y="695.14" width="4.29" height="8.23" fill="#eee"/>
<rect x="437.01" y="693.18" width="3.37" height="10.22" fill="#eee"/>
<rect x="434.28" y="695.42" width="2.97" height="8.78" fill="#bbb"/>
<rect x="442" y="691.48" width="13.5" height="13.2" fill="url(#pg2)"/>
<rect x="428.5" y="708.36" width="27" height="13.2" fill="#000"/>
<rect x="415" y="708.36" width="13.5" height="13.2" fill="#fff"/>
<rect x="420.52" y="712.64" width="1.86" height="1.8" fill="#222"/>
<rect x="421.22" y="713.38" width="1.31" height="1.76" fill="#222"/>
<rect x="419.7" y="717.41" width="1.02" height="0.98" fill="#222"/>
<rect x="420.78" y="712.47" width="1.78" height="3.18" fill="#222"/>
<rect x="423.79" y="711.59" width="1.41" height="1.09" fill="#222"/>
<path d="M437.25 709.86 l3 1.2 l1.0 8.6 l-1.7 0.3 l-1.0 -5 z" fill="#f0f0f0" opacity="0.85"/>
<path d="M433.25 709.86 l-3 1.2 l-1.0 8.6 l1.7 0.3 l1.0 -5 z" fill="#f0f0f0" opacity="0.85"/>
<path d="M432.85 709.46 h1.5 l0.9 0.8 l0.9 -0.8 h1.5 l0.6 1.2 v9.9 h-6.6 v-9.9 z" fill="#f0f0f0"/>
<rect x="447.1" y="708.94" width="3.64" height="11.56" fill="#777"/>
<rect x="452.09" y="710.76" width="3.3" height="10.63" fill="#666"/>
<rect x="445.76" y="709.96" width="2.84" height="10.61" fill="#bbb"/>
<rect x="446.89" y="710" width="4.05" height="10.99" fill="#666"/>
<rect x="415" y="725.24" width="40.5" height="13.2" fill="#000"/>
<path d="M423.75 726.74 l2.9 1.2 l1.0 8.6 l-1.7 0.3 l-1.0 -5 z" fill="#b4b4b4" opacity="0.85"/>
<path d="M419.75 726.74 l-2.9 1.2 l-1.0 8.6 l1.7 0.3 l1.0 -5 z" fill="#b4b4b4" opacity="0.85"/>
<path d="M419.35 726.34 h1.5 l0.9 0.8 l0.9 -0.8 h1.5 l0.6 1.2 v9.9 h-6.6 v-9.9 z" fill="#b4b4b4"/>
<path d="M437.25 726.74 l2.6 1.2 l1.0 8.6 l-1.7 0.3 l-1.0 -5 z" fill="#d0d0d0" opacity="0.85"/>
<path d="M433.25 726.74 l-2.6 1.2 l-1.0 8.6 l1.7 0.3 l1.0 -5 z" fill="#d0d0d0" opacity="0.85"/>
<path d="M432.85 726.34 h1.5 l0.9 0.8 l0.9 -0.8 h1.5 l0.6 1.2 v9.9 h-6.6 v-9.9 z" fill="#d0d0d0"/>
<path d="M450.75 726.74 l2.2 1.2 l1.0 8.6 l-1.7 0.3 l-1.0 -5 z" fill="#bcbcbc" opacity="0.85"/>
<path d="M446.75 726.74 l-2.2 1.2 l-1.0 8.6 l1.7 0.3 l1.0 -5 z" fill="#bcbcbc" opacity="0.85"/>
<path d="M446.35 726.34 h1.5 l0.9 0.8 l0.9 -0.8 h1.5 l0.6 1.2 v9.9 h-6.6 v-9.9 z" fill="#bcbcbc"/>
<rect x="415" y="742.12" width="40.5" height="13.2" fill="#000"/>
<rect x="420.76" y="744.47" width="3.03" height="7.3" fill="#d8d8d8"/>
<rect x="424.46" y="745.19" width="2.37" height="8.26" fill="#777"/>
<rect x="419.77" y="744.93" width="2.95" height="9.32" fill="#bbb"/>
<rect x="420.59" y="744.11" width="2.88" height="10.14" fill="#777"/>
<path d="M429.5 749.72 l3.4 -0.5 l2.6 -2.9 l2.2 0.2 l0.6 2.4 l2.6 0.9 v2.3 h-11.4 z" fill="#dcdcdc"/>
<rect x="445.16" y="744.86" width="2.95" height="9.79" fill="#666"/>
<rect x="447.85" y="747.71" width="3.44" height="7.12" fill="#bbb"/>
<rect x="447.52" y="743.8" width="4.42" height="8.04" fill="#666"/>
<rect x="450.86" y="743.77" width="4.23" height="6.75" fill="#666"/>
<rect x="415" y="759" width="40.5" height="13.2" fill="#000"/>
<rect x="416.8" y="762.8" width="9.9" height="7.8" fill="#b4b4b4"/>
<path d="M419.35 762.9 q2.4 -3.2 4.8 0" fill="none" stroke="#b4b4b4" stroke-width="0.9"/>
<path d="M437.25 760.5 l2.6 1.2 l1.0 8.6 l-1.7 0.3 l-1.0 -5 z" fill="#6a6a6a" opacity="0.85"/>
<path d="M433.25 760.5 l-2.6 1.2 l-1.0 8.6 l1.7 0.3 l1.0 -5 z" fill="#6a6a6a" opacity="0.85"/>
<path d="M432.85 760.1 h1.5 l0.9 0.8 l0.9 -0.8 h1.5 l0.6 1.2 v9.9 h-6.6 v-9.9 z" fill="#6a6a6a"/>
<rect x="445.35" y="760.1" width="3" height="11.1" fill="#6a6a6a"/>
<rect x="449.15" y="760.1" width="3" height="11.1" fill="#6a6a6a"/>
<rect x="445.35" y="760.1" width="6.8" height="2.6" fill="#6a6a6a"/>
<rect x="415" y="775.88" width="40.5" height="13.2" fill="#000"/>
<path d="M423.75 777.38 l2.9 1.2 l1.0 8.6 l-1.7 0.3 l-1.0 -5 z" fill="#c8c8c8" opacity="0.85"/>
<path d="M419.75 777.38 l-2.9 1.2 l-1.0 8.6 l1.7 0.3 l1.0 -5 z" fill="#c8c8c8" opacity="0.85"/>
<path d="M419.35 776.98 h1.5 l0.9 0.8 l0.9 -0.8 h1.5 l0.6 1.2 v9.9 h-6.6 v-9.9 z" fill="#c8c8c8"/>
<path d="M437.25 777.38 l2.9 1.2 l1.0 8.6 l-1.7 0.3 l-1.0 -5 z" fill="#6a6a6a" opacity="0.85"/>
<path d="M433.25 777.38 l-2.9 1.2 l-1.0 8.6 l1.7 0.3 l1.0 -5 z" fill="#6a6a6a" opacity="0.85"/>
<path d="M432.85 776.98 h1.5 l0.9 0.8 l0.9 -0.8 h1.5 l0.6 1.2 v9.9 h-6.6 v-9.9 z" fill="#6a6a6a"/>
<rect x="445.65" y="776.98" width="2.7" height="11.1" fill="#c8c8c8"/>
<rect x="449.15" y="776.98" width="2.7" height="11.1" fill="#c8c8c8"/>
<rect x="445.65" y="776.98" width="6.2" height="2.6" fill="#c8c8c8"/>
<rect x="415" y="792.76" width="40.5" height="13.2" fill="#000"/>
<path d="M416 800.36 l3.4 -0.5 l2.6 -2.9 l2.2 0.2 l0.6 2.4 l2.6 0.9 v2.3 h-11.4 z" fill="#dcdcdc"/>
<path d="M429.5 800.36 l3.4 -0.5 l2.6 -2.9 l2.2 0.2 l0.6 2.4 l2.6 0.9 v2.3 h-11.4 z" fill="#808080"/>
<rect x="445.35" y="793.86" width="3" height="11.1" fill="#a8a8a8"/>
<rect x="449.15" y="793.86" width="3" height="11.1" fill="#a8a8a8"/>
<rect x="445.35" y="793.86" width="6.8" height="2.6" fill="#a8a8a8"/>
<rect x="415" y="809.64" width="40.5" height="13.2" fill="#000"/>
<path d="M419.95 810.74 h1.1 l0.7 0.9 l0.7 -0.9 h1.1 l0.2 3.4 l2.4 7.7 h-9.6 l2.4 -7.7 z" fill="#808080"/>
<path d="M429.5 817.24 l3.4 -0.5 l2.6 -2.9 l2.2 0.2 l0.6 2.4 l2.6 0.9 v2.3 h-11.4 z" fill="#dcdcdc"/>
<path d="M443 817.24 l3.4 -0.5 l2.6 -2.9 l2.2 0.2 l0.6 2.4 l2.6 0.9 v2.3 h-11.4 z" fill="#a8a8a8"/>
<rect x="415" y="826.52" width="40.5" height="13.2" fill="#000"/>
<path d="M416 834.12 l3.4 -0.5 l2.6 -2.9 l2.2 0.2 l0.6 2.4 l2.6 0.9 v2.3 h-11.4 z" fill="#bcbcbc"/>
<path d="M429.5 834.12 l3.4 -0.5 l2.6 -2.9 l2.2 0.2 l0.6 2.4 l2.6 0.9 v2.3 h-11.4 z" fill="#6a6a6a"/>
<rect x="446.47" y="828.87" width="2.57" height="9.58" fill="#d8d8d8"/>
<rect x="444.09" y="828.17" width="2.39" height="9.1" fill="#d8d8d8"/>
<rect x="447.43" y="828.38" width="4.25" height="10.71" fill="#777"/>
<rect x="445.52" y="827.17" width="2.43" height="12.41" fill="#d8d8d8"/>
<rect x="415" y="843.4" width="40.5" height="13.2" fill="#000"/>
<rect x="419.05" y="844.5" width="2.3" height="11.1" fill="#d0d0d0"/>
<rect x="422.15" y="844.5" width="2.3" height="11.1" fill="#d0d0d0"/>
<rect x="419.05" y="844.5" width="5.4" height="2.6" fill="#d0d0d0"/>
<rect x="431.85" y="844.5" width="3" height="11.1" fill="#b4b4b4"/>
<rect x="435.65" y="844.5" width="3" height="11.1" fill="#b4b4b4"/>
<rect x="431.85" y="844.5" width="6.8" height="2.6" fill="#b4b4b4"/>
<rect x="445.35" y="844.5" width="3" height="11.1" fill="#808080"/>
<rect x="449.15" y="844.5" width="3" height="11.1" fill="#808080"/>
<rect x="445.35" y="844.5" width="6.8" height="2.6" fill="#808080"/>
<rect x="415" y="860.28" width="40.5" height="13.2" fill="#000"/>
<path d="M423.75 861.78 l3 1.2 l1.0 8.6 l-1.7 0.3 l-1.0 -5 z" fill="#e6e6e6" opacity="0.85"/>
<path d="M419.75 861.78 l-3 1.2 l-1.0 8.6 l1.7 0.3 l1.0 -5 z" fill="#e6e6e6" opacity="0.85"/>
<path d="M419.35 861.38 h1.5 l0.9 0.8 l0.9 -0.8 h1.5 l0.6 1.2 v9.9 h-6.6 v-9.9 z" fill="#e6e6e6"/>
<path d="M429.5 867.88 l3.4 -0.5 l2.6 -2.9 l2.2 0.2 l0.6 2.4 l2.6 0.9 v2.3 h-11.4 z" fill="#6a6a6a"/>
<path d="M450.75 861.78 l3 1.2 l1.0 8.6 l-1.7 0.3 l-1.0 -5 z" fill="#e6e6e6" opacity="0.85"/>
<path d="M446.75 861.78 l-3 1.2 l-1.0 8.6 l1.7 0.3 l1.0 -5 z" fill="#e6e6e6" opacity="0.85"/>
<path d="M446.35 861.38 h1.5 l0.9 0.8 l0.9 -0.8 h1.5 l0.6 1.2 v9.9 h-6.6 v-9.9 z" fill="#e6e6e6"/>
<rect x="487.8" y="657.72" width="40.5" height="13.2" fill="#000"/>
<rect x="487.8" y="674.6" width="40.5" height="13.2" fill="#000"/>
<rect x="487.8" y="674.6" width="13.5" height="13.2" fill="url(#pN)"/>
<rect x="501.3" y="674.6" width="13.5" height="13.2" fill="url(#pN)"/>
<rect x="514.8" y="674.6" width="13.5" height="13.2" fill="url(#pg2)"/>
<rect x="487.8" y="691.48" width="40.5" height="13.2" fill="#000"/>
<rect x="487.8" y="691.48" width="13.5" height="13.2" fill="url(#pg2)"/>
<rect x="501.3" y="691.48" width="13.5" height="13.2" fill="url(#pm)"/>
<rect x="516.73" y="694.96" width="3.26" height="7.68" fill="#d8d8d8"/>
<rect x="521.2" y="693.54" width="2.27" height="10.35" fill="#eee"/>
<rect x="523.05" y="694.78" width="3.03" height="8.42" fill="#777"/>
<rect x="518.46" y="691.57" width="4.29" height="7.19" fill="#777"/>
<rect x="487.8" y="708.36" width="40.5" height="13.2" fill="#000"/>
<rect x="493.28" y="709.24" width="2.49" height="9.89" fill="#eee"/>
<rect x="492.56" y="709.5" width="4.24" height="7.45" fill="#d8d8d8"/>
<rect x="489.56" y="708.58" width="2.3" height="11.11" fill="#777"/>
<rect x="498.52" y="710.08" width="2.19" height="9.51" fill="#666"/>
<rect x="501.89" y="713.39" width="4.02" height="6.67" fill="#bbb"/>
<rect x="503.95" y="708.52" width="2.36" height="8.24" fill="#eee"/>
<rect x="511.47" y="709.46" width="2.25" height="10.06" fill="#666"/>
<rect x="501.49" y="710.46" width="3.56" height="7.91" fill="#777"/>
<rect x="521.25" y="708.59" width="3.1" height="8.08" fill="#d8d8d8"/>
<rect x="517.75" y="709.39" width="4.14" height="11.94" fill="#bbb"/>
<rect x="517.43" y="709.66" width="3.05" height="11.87" fill="#777"/>
<rect x="519.05" y="708.88" width="2.61" height="10.87" fill="#bbb"/>
<rect x="487.8" y="725.24" width="40.5" height="13.2" fill="#000"/>
<rect x="495.28" y="730.85" width="3" height="6.73" fill="#777"/>
<rect x="491.77" y="730.58" width="2.43" height="7.71" fill="#bbb"/>
<rect x="491.61" y="729.26" width="2.99" height="8.59" fill="#bbb"/>
<rect x="488.49" y="730.09" width="3.01" height="7.33" fill="#bbb"/>
<rect x="505.22" y="726.56" width="3.38" height="9.37" fill="#666"/>
<rect x="508.88" y="725.95" width="2.09" height="8.63" fill="#eee"/>
<rect x="503.49" y="727.89" width="2.32" height="9.84" fill="#d8d8d8"/>
<rect x="509.99" y="725.53" width="3.11" height="11.38" fill="#bbb"/>
<rect x="519.24" y="726.9" width="2.54" height="10.34" fill="#bbb"/>
<rect x="519.41" y="727.62" width="4.38" height="7.95" fill="#999"/>
<rect x="523.93" y="726.59" width="4.36" height="10.14" fill="#bbb"/>
<rect x="518.91" y="725.69" width="3.34" height="9.63" fill="#777"/>
<rect x="487.8" y="742.12" width="40.5" height="13.2" fill="#000"/>
<path d="M496.55 743.62 l2.2 1.2 l1.0 8.6 l-1.7 0.3 l-1.0 -5 z" fill="#6a6a6a" opacity="0.85"/>
<path d="M492.55 743.62 l-2.2 1.2 l-1.0 8.6 l1.7 0.3 l1.0 -5 z" fill="#6a6a6a" opacity="0.85"/>
<path d="M492.15 743.22 h1.5 l0.9 0.8 l0.9 -0.8 h1.5 l0.6 1.2 v9.9 h-6.6 v-9.9 z" fill="#6a6a6a"/>
<path d="M510.05 743.62 l2.6 1.2 l1.0 8.6 l-1.7 0.3 l-1.0 -5 z" fill="#6a6a6a" opacity="0.85"/>
<path d="M506.05 743.62 l-2.6 1.2 l-1.0 8.6 l1.7 0.3 l1.0 -5 z" fill="#6a6a6a" opacity="0.85"/>
<path d="M505.65 743.22 h1.5 l0.9 0.8 l0.9 -0.8 h1.5 l0.6 1.2 v9.9 h-6.6 v-9.9 z" fill="#6a6a6a"/>
<path d="M523.55 743.62 l2.2 1.2 l1.0 8.6 l-1.7 0.3 l-1.0 -5 z" fill="#c8c8c8" opacity="0.85"/>
<path d="M519.55 743.62 l-2.2 1.2 l-1.0 8.6 l1.7 0.3 l1.0 -5 z" fill="#c8c8c8" opacity="0.85"/>
<path d="M519.15 743.22 h1.5 l0.9 0.8 l0.9 -0.8 h1.5 l0.6 1.2 v9.9 h-6.6 v-9.9 z" fill="#c8c8c8"/>
<rect x="487.8" y="759" width="40.5" height="13.2" fill="#000"/>
<rect x="491.45" y="760.1" width="2.7" height="11.1" fill="#d0d0d0"/>
<rect x="494.95" y="760.1" width="2.7" height="11.1" fill="#d0d0d0"/>
<rect x="491.45" y="760.1" width="6.2" height="2.6" fill="#d0d0d0"/>
<path d="M502.3 766.6 l3.4 -0.5 l2.6 -2.9 l2.2 0.2 l0.6 2.4 l2.6 0.9 v2.3 h-11.4 z" fill="#a8a8a8"/>
<path d="M523.55 760.5 l2.9 1.2 l1.0 8.6 l-1.7 0.3 l-1.0 -5 z" fill="#c8c8c8" opacity="0.85"/>
<path d="M519.55 760.5 l-2.9 1.2 l-1.0 8.6 l1.7 0.3 l1.0 -5 z" fill="#c8c8c8" opacity="0.85"/>
<path d="M519.15 760.1 h1.5 l0.9 0.8 l0.9 -0.8 h1.5 l0.6 1.2 v9.9 h-6.6 v-9.9 z" fill="#c8c8c8"/>
<rect x="487.8" y="775.88" width="40.5" height="13.2" fill="#000"/>
<path d="M496.55 777.38 l2.9 1.2 l1.0 8.6 l-1.7 0.3 l-1.0 -5 z" fill="#bcbcbc" opacity="0.85"/>
<path d="M492.55 777.38 l-2.9 1.2 l-1.0 8.6 l1.7 0.3 l1.0 -5 z" fill="#bcbcbc" opacity="0.85"/>
<path d="M492.15 776.98 h1.5 l0.9 0.8 l0.9 -0.8 h1.5 l0.6 1.2 v9.9 h-6.6 v-9.9 z" fill="#bcbcbc"/>
<path d="M510.05 777.38 l2.2 1.2 l1.0 8.6 l-1.7 0.3 l-1.0 -5 z" fill="#d0d0d0" opacity="0.85"/>
<path d="M506.05 777.38 l-2.2 1.2 l-1.0 8.6 l1.7 0.3 l1.0 -5 z" fill="#d0d0d0" opacity="0.85"/>
<path d="M505.65 776.98 h1.5 l0.9 0.8 l0.9 -0.8 h1.5 l0.6 1.2 v9.9 h-6.6 v-9.9 z" fill="#d0d0d0"/>
<path d="M523.55 777.38 l2.2 1.2 l1.0 8.6 l-1.7 0.3 l-1.0 -5 z" fill="#808080" opacity="0.85"/>
<path d="M519.55 777.38 l-2.2 1.2 l-1.0 8.6 l1.7 0.3 l1.0 -5 z" fill="#808080" opacity="0.85"/>
<path d="M519.15 776.98 h1.5 l0.9 0.8 l0.9 -0.8 h1.5 l0.6 1.2 v9.9 h-6.6 v-9.9 z" fill="#808080"/>
<rect x="487.8" y="792.76" width="40.5" height="13.2" fill="#000"/>
<rect x="491.85" y="793.86" width="2.3" height="11.1" fill="#bcbcbc"/>
<rect x="494.95" y="793.86" width="2.3" height="11.1" fill="#bcbcbc"/>
<rect x="491.85" y="793.86" width="5.4" height="2.6" fill="#bcbcbc"/>
<path d="M502.3 800.36 l3.4 -0.5 l2.6 -2.9 l2.2 0.2 l0.6 2.4 l2.6 0.9 v2.3 h-11.4 z" fill="#6a6a6a"/>
<rect x="518.15" y="793.86" width="3" height="11.1" fill="#808080"/>
<rect x="521.95" y="793.86" width="3" height="11.1" fill="#808080"/>
<rect x="518.15" y="793.86" width="6.8" height="2.6" fill="#808080"/>
<rect x="487.8" y="809.64" width="40.5" height="13.2" fill="#000"/>
<path d="M496.55 811.14 l2.2 1.2 l1.0 8.6 l-1.7 0.3 l-1.0 -5 z" fill="#b4b4b4" opacity="0.85"/>
<path d="M492.55 811.14 l-2.2 1.2 l-1.0 8.6 l1.7 0.3 l1.0 -5 z" fill="#b4b4b4" opacity="0.85"/>
<path d="M492.15 810.74 h1.5 l0.9 0.8 l0.9 -0.8 h1.5 l0.6 1.2 v9.9 h-6.6 v-9.9 z" fill="#b4b4b4"/>
<path d="M503.3 811.34 h4.6 v4.4 l4.8 2.2 v2.8 h-9.4 z" fill="#e0e0e0"/>
<rect x="518.85" y="810.74" width="2.3" height="11.1" fill="#b4b4b4"/>
<rect x="521.95" y="810.74" width="2.3" height="11.1" fill="#b4b4b4"/>
<rect x="518.85" y="810.74" width="5.4" height="2.6" fill="#b4b4b4"/>
<rect x="487.8" y="826.52" width="40.5" height="13.2" fill="#000"/>
<path d="M496.55 828.02 l3 1.2 l1.0 8.6 l-1.7 0.3 l-1.0 -5 z" fill="#cfcfcf" opacity="0.85"/>
<path d="M492.55 828.02 l-3 1.2 l-1.0 8.6 l1.7 0.3 l1.0 -5 z" fill="#cfcfcf" opacity="0.85"/>
<path d="M492.15 827.62 h1.5 l0.9 0.8 l0.9 -0.8 h1.5 l0.6 1.2 v9.9 h-6.6 v-9.9 z" fill="#cfcfcf"/>
<rect x="487.8" y="843.4" width="40.5" height="13.2" fill="#000"/>
<rect x="489.6" y="847.2" width="9.9" height="7.8" fill="#d0d0d0"/>
<path d="M492.15 847.3 q2.4 -3.2 4.8 0" fill="none" stroke="#d0d0d0" stroke-width="0.9"/>
<path d="M503.3 845.1 h4.6 v4.4 l4.8 2.2 v2.8 h-9.4 z" fill="#bdbdbd"/>
<path d="M523.55 844.9 l2.6 1.2 l1.0 8.6 l-1.7 0.3 l-1.0 -5 z" fill="#808080" opacity="0.85"/>
<path d="M519.55 844.9 l-2.6 1.2 l-1.0 8.6 l1.7 0.3 l1.0 -5 z" fill="#808080" opacity="0.85"/>
<path d="M519.15 844.5 h1.5 l0.9 0.8 l0.9 -0.8 h1.5 l0.6 1.2 v9.9 h-6.6 v-9.9 z" fill="#808080"/>
<rect x="561" y="657.72" width="40.5" height="13.2" fill="#000"/>
<rect x="561" y="674.6" width="40.5" height="13.2" fill="#000"/>
<rect x="574.5" y="674.6" width="13.5" height="13.2" fill="url(#ph2)"/>
<rect x="588" y="674.6" width="13.5" height="13.2" fill="url(#ph2)"/>
<rect x="561" y="691.48" width="40.5" height="13.2" fill="#000"/>
<rect x="561" y="691.48" width="13.5" height="13.2" fill="url(#ph2)"/>
<rect x="574.5" y="691.48" width="13.5" height="13.2" fill="url(#pm)"/>
<rect x="588" y="691.48" width="13.5" height="13.2" fill="url(#pm)"/>
<rect x="561" y="708.36" width="40.5" height="13.2" fill="#000"/>
<rect x="564.35" y="709.46" width="3" height="11.1" fill="#dcdcdc"/>
<rect x="568.15" y="709.46" width="3" height="11.1" fill="#dcdcdc"/>
<rect x="564.35" y="709.46" width="6.8" height="2.6" fill="#dcdcdc"/>
<path d="M575.5 715.96 l3.4 -0.5 l2.6 -2.9 l2.2 0.2 l0.6 2.4 l2.6 0.9 v2.3 h-11.4 z" fill="#d0d0d0"/>
<path d="M589 715.96 l3.4 -0.5 l2.6 -2.9 l2.2 0.2 l0.6 2.4 l2.6 0.9 v2.3 h-11.4 z" fill="#b4b4b4"/>
<rect x="561" y="725.24" width="40.5" height="13.2" fill="#000"/>
<rect x="565.05" y="726.34" width="2.3" height="11.1" fill="#d0d0d0"/>
<rect x="568.15" y="726.34" width="2.3" height="11.1" fill="#d0d0d0"/>
<rect x="565.05" y="726.34" width="5.4" height="2.6" fill="#d0d0d0"/>
<path d="M575.5 732.84 l3.4 -0.5 l2.6 -2.9 l2.2 0.2 l0.6 2.4 l2.6 0.9 v2.3 h-11.4 z" fill="#808080"/>
<path d="M596.75 726.74 l2.6 1.2 l1.0 8.6 l-1.7 0.3 l-1.0 -5 z" fill="#808080" opacity="0.85"/>
<path d="M592.75 726.74 l-2.6 1.2 l-1.0 8.6 l1.7 0.3 l1.0 -5 z" fill="#808080" opacity="0.85"/>
<path d="M592.35 726.34 h1.5 l0.9 0.8 l0.9 -0.8 h1.5 l0.6 1.2 v9.9 h-6.6 v-9.9 z" fill="#808080"/>
<rect x="561" y="742.12" width="40.5" height="13.2" fill="#000"/>
<path d="M569.75 743.62 l3 1.2 l1.0 8.6 l-1.7 0.3 l-1.0 -5 z" fill="#f0f0f0" opacity="0.85"/>
<path d="M565.75 743.62 l-3 1.2 l-1.0 8.6 l1.7 0.3 l1.0 -5 z" fill="#f0f0f0" opacity="0.85"/>
<path d="M565.35 743.22 h1.5 l0.9 0.8 l0.9 -0.8 h1.5 l0.6 1.2 v9.9 h-6.6 v-9.9 z" fill="#f0f0f0"/>
<path d="M575.5 749.72 l3.4 -0.5 l2.6 -2.9 l2.2 0.2 l0.6 2.4 l2.6 0.9 v2.3 h-11.4 z" fill="#989898"/>
<rect x="591.65" y="743.22" width="2.7" height="11.1" fill="#c8c8c8"/>
<rect x="595.15" y="743.22" width="2.7" height="11.1" fill="#c8c8c8"/>
<rect x="591.65" y="743.22" width="6.2" height="2.6" fill="#c8c8c8"/>
<rect x="561" y="759" width="40.5" height="13.2" fill="#000"/>
<path d="M562 766.6 l3.4 -0.5 l2.6 -2.9 l2.2 0.2 l0.6 2.4 l2.6 0.9 v2.3 h-11.4 z" fill="#bcbcbc"/>
<path d="M583.25 760.5 l3 1.2 l1.0 8.6 l-1.7 0.3 l-1.0 -5 z" fill="#cfcfcf" opacity="0.85"/>
<path d="M579.25 760.5 l-3 1.2 l-1.0 8.6 l1.7 0.3 l1.0 -5 z" fill="#cfcfcf" opacity="0.85"/>
<path d="M578.85 760.1 h1.5 l0.9 0.8 l0.9 -0.8 h1.5 l0.6 1.2 v9.9 h-6.6 v-9.9 z" fill="#cfcfcf"/>
<path d="M589 766.6 l3.4 -0.5 l2.6 -2.9 l2.2 0.2 l0.6 2.4 l2.6 0.9 v2.3 h-11.4 z" fill="#bcbcbc"/>
<rect x="561" y="775.88" width="40.5" height="13.2" fill="#000"/>
<path d="M569.75 777.38 l2.9 1.2 l1.0 8.6 l-1.7 0.3 l-1.0 -5 z" fill="#b4b4b4" opacity="0.85"/>
<path d="M565.75 777.38 l-2.9 1.2 l-1.0 8.6 l1.7 0.3 l1.0 -5 z" fill="#b4b4b4" opacity="0.85"/>
<path d="M565.35 776.98 h1.5 l0.9 0.8 l0.9 -0.8 h1.5 l0.6 1.2 v9.9 h-6.6 v-9.9 z" fill="#b4b4b4"/>
<path d="M575.5 783.48 l3.4 -0.5 l2.6 -2.9 l2.2 0.2 l0.6 2.4 l2.6 0.9 v2.3 h-11.4 z" fill="#989898"/>
<path d="M589 783.48 l3.4 -0.5 l2.6 -2.9 l2.2 0.2 l0.6 2.4 l2.6 0.9 v2.3 h-11.4 z" fill="#a8a8a8"/>
<rect x="561" y="792.76" width="40.5" height="13.2" fill="#000"/>
<path d="M563 794.46 h4.6 v4.4 l4.8 2.2 v2.8 h-9.4 z" fill="#d0d0d0"/>
<path d="M575.5 800.36 l3.4 -0.5 l2.6 -2.9 l2.2 0.2 l0.6 2.4 l2.6 0.9 v2.3 h-11.4 z" fill="#d0d0d0"/>
<path d="M589 800.36 l3.4 -0.5 l2.6 -2.9 l2.2 0.2 l0.6 2.4 l2.6 0.9 v2.3 h-11.4 z" fill="#c8c8c8"/>
<rect x="561" y="809.64" width="40.5" height="13.2" fill="#000"/>
<path d="M569.75 811.14 l2.6 1.2 l1.0 8.6 l-1.7 0.3 l-1.0 -5 z" fill="#989898" opacity="0.85"/>
<path d="M565.75 811.14 l-2.6 1.2 l-1.0 8.6 l1.7 0.3 l1.0 -5 z" fill="#989898" opacity="0.85"/>
<path d="M565.35 810.74 h1.5 l0.9 0.8 l0.9 -0.8 h1.5 l0.6 1.2 v9.9 h-6.6 v-9.9 z" fill="#989898"/>
<path d="M576.5 811.34 h4.6 v4.4 l4.8 2.2 v2.8 h-9.4 z" fill="#bdbdbd"/>
<rect x="591.35" y="810.74" width="3" height="11.1" fill="#a8a8a8"/>
<rect x="595.15" y="810.74" width="3" height="11.1" fill="#a8a8a8"/>
<rect x="591.35" y="810.74" width="6.8" height="2.6" fill="#a8a8a8"/>
<rect x="561" y="826.52" width="40.5" height="13.2" fill="#000"/>
<path d="M563 828.22 h4.6 v4.4 l4.8 2.2 v2.8 h-9.4 z" fill="#e0e0e0"/>
<rect x="576.3" y="830.32" width="9.9" height="7.8" fill="#d0d0d0"/>
<path d="M578.85 830.42 q2.4 -3.2 4.8 0" fill="none" stroke="#d0d0d0" stroke-width="0.9"/>
<path d="M596.75 828.02 l3 1.2 l1.0 8.6 l-1.7 0.3 l-1.0 -5 z" fill="#f0f0f0" opacity="0.85"/>
<path d="M592.75 828.02 l-3 1.2 l-1.0 8.6 l1.7 0.3 l1.0 -5 z" fill="#f0f0f0" opacity="0.85"/>
<path d="M592.35 827.62 h1.5 l0.9 0.8 l0.9 -0.8 h1.5 l0.6 1.2 v9.9 h-6.6 v-9.9 z" fill="#f0f0f0"/>
<rect x="633.8" y="691.48" width="40.5" height="13.2" fill="#000"/>
<path d="M642.55 692.98 l3 1.2 l1.0 8.6 l-1.7 0.3 l-1.0 -5 z" fill="#cfcfcf" opacity="0.85"/>
<path d="M638.55 692.98 l-3 1.2 l-1.0 8.6 l1.7 0.3 l1.0 -5 z" fill="#cfcfcf" opacity="0.85"/>
<path d="M638.15 692.58 h1.5 l0.9 0.8 l0.9 -0.8 h1.5 l0.6 1.2 v9.9 h-6.6 v-9.9 z" fill="#cfcfcf"/>
<path d="M656.05 692.98 l3 1.2 l1.0 8.6 l-1.7 0.3 l-1.0 -5 z" fill="#cfcfcf" opacity="0.85"/>
<path d="M652.05 692.98 l-3 1.2 l-1.0 8.6 l1.7 0.3 l1.0 -5 z" fill="#cfcfcf" opacity="0.85"/>
<path d="M651.65 692.58 h1.5 l0.9 0.8 l0.9 -0.8 h1.5 l0.6 1.2 v9.9 h-6.6 v-9.9 z" fill="#cfcfcf"/>
<path d="M669.55 692.98 l3 1.2 l1.0 8.6 l-1.7 0.3 l-1.0 -5 z" fill="#d8d8d8" opacity="0.85"/>
<path d="M665.55 692.98 l-3 1.2 l-1.0 8.6 l1.7 0.3 l1.0 -5 z" fill="#d8d8d8" opacity="0.85"/>
<path d="M665.15 692.58 h1.5 l0.9 0.8 l0.9 -0.8 h1.5 l0.6 1.2 v9.9 h-6.6 v-9.9 z" fill="#d8d8d8"/>
<rect x="633.8" y="725.24" width="40.5" height="13.2" fill="#000"/>
<path d="M634.8 732.84 l3.4 -0.5 l2.6 -2.9 l2.2 0.2 l0.6 2.4 l2.6 0.9 v2.3 h-11.4 z" fill="#b4b4b4"/>
<path d="M656.05 726.74 l2.9 1.2 l1.0 8.6 l-1.7 0.3 l-1.0 -5 z" fill="#a8a8a8" opacity="0.85"/>
<path d="M652.05 726.74 l-2.9 1.2 l-1.0 8.6 l1.7 0.3 l1.0 -5 z" fill="#a8a8a8" opacity="0.85"/>
<path d="M651.65 726.34 h1.5 l0.9 0.8 l0.9 -0.8 h1.5 l0.6 1.2 v9.9 h-6.6 v-9.9 z" fill="#a8a8a8"/>
<path d="M665.75 726.34 h1.1 l0.7 0.9 l0.7 -0.9 h1.1 l0.2 3.4 l2.4 7.7 h-9.6 l2.4 -7.7 z" fill="#a8a8a8"/>
<rect x="633.8" y="742.12" width="40.5" height="13.2" fill="#000"/>
<path d="M642.55 743.62 l2.9 1.2 l1.0 8.6 l-1.7 0.3 l-1.0 -5 z" fill="#989898" opacity="0.85"/>
<path d="M638.55 743.62 l-2.9 1.2 l-1.0 8.6 l1.7 0.3 l1.0 -5 z" fill="#989898" opacity="0.85"/>
<path d="M638.15 743.22 h1.5 l0.9 0.8 l0.9 -0.8 h1.5 l0.6 1.2 v9.9 h-6.6 v-9.9 z" fill="#989898"/>
<path d="M656.05 743.62 l2.2 1.2 l1.0 8.6 l-1.7 0.3 l-1.0 -5 z" fill="#bcbcbc" opacity="0.85"/>
<path d="M652.05 743.62 l-2.2 1.2 l-1.0 8.6 l1.7 0.3 l1.0 -5 z" fill="#bcbcbc" opacity="0.85"/>
<path d="M651.65 743.22 h1.5 l0.9 0.8 l0.9 -0.8 h1.5 l0.6 1.2 v9.9 h-6.6 v-9.9 z" fill="#bcbcbc"/>
<path d="M669.55 743.62 l2.2 1.2 l1.0 8.6 l-1.7 0.3 l-1.0 -5 z" fill="#808080" opacity="0.85"/>
<path d="M665.55 743.62 l-2.2 1.2 l-1.0 8.6 l1.7 0.3 l1.0 -5 z" fill="#808080" opacity="0.85"/>
<path d="M665.15 743.22 h1.5 l0.9 0.8 l0.9 -0.8 h1.5 l0.6 1.2 v9.9 h-6.6 v-9.9 z" fill="#808080"/>
<rect x="633.8" y="759" width="40.5" height="13.2" fill="#000"/>
<rect x="637.15" y="760.1" width="3" height="11.1" fill="#808080"/>
<rect x="640.95" y="760.1" width="3" height="11.1" fill="#808080"/>
<rect x="637.15" y="760.1" width="6.8" height="2.6" fill="#808080"/>
<path d="M656.05 760.5 l3 1.2 l1.0 8.6 l-1.7 0.3 l-1.0 -5 z" fill="#f0f0f0" opacity="0.85"/>
<path d="M652.05 760.5 l-3 1.2 l-1.0 8.6 l1.7 0.3 l1.0 -5 z" fill="#f0f0f0" opacity="0.85"/>
<path d="M651.65 760.1 h1.5 l0.9 0.8 l0.9 -0.8 h1.5 l0.6 1.2 v9.9 h-6.6 v-9.9 z" fill="#f0f0f0"/>
<rect x="664.15" y="760.1" width="3" height="11.1" fill="#c8c8c8"/>
<rect x="667.95" y="760.1" width="3" height="11.1" fill="#c8c8c8"/>
<rect x="664.15" y="760.1" width="6.8" height="2.6" fill="#c8c8c8"/>
</g></g>
<line x1="177.4" y1="680.1" x2="177.4" y2="726.4" stroke="#8791b4" stroke-width="0.75" stroke-dasharray="3.2 3.2"/>
<line x1="177.4" y1="822.6" x2="177.4" y2="848.3" stroke="#8791b4" stroke-width="0.75" stroke-dasharray="3.2 3.2"/>
<line x1="176.2" y1="678.6" x2="178.6" y2="678.6" stroke="#444" stroke-width="0.7"/>
<line x1="176.3" y1="848.3" x2="178.5" y2="848.3" stroke="#444" stroke-width="0.7"/>
<rect x="175.4" y="726.4" width="4" height="95.2" rx="0.6" fill="#f8faff" stroke="#909fcb" stroke-width="0.95"/>
<line x1="175.3" y1="764.7" x2="179.5" y2="764.7" stroke="#c46a80" stroke-width="0.65"/>
<line x1="249.9" y1="709" x2="249.9" y2="746.2" stroke="#8791b4" stroke-width="0.75" stroke-dasharray="3.2 3.2"/>
<line x1="249.9" y1="831.1" x2="249.9" y2="858.4" stroke="#8791b4" stroke-width="0.75" stroke-dasharray="3.2 3.2"/>
<line x1="248.7" y1="707.5" x2="251.1" y2="707.5" stroke="#444" stroke-width="0.7"/>
<line x1="248.8" y1="858.4" x2="251" y2="858.4" stroke="#444" stroke-width="0.7"/>
<rect x="247.9" y="746.2" width="4" height="83.9" rx="0.6" fill="#f8faff" stroke="#909fcb" stroke-width="0.95"/>
<line x1="247.8" y1="791.1" x2="252" y2="791.1" stroke="#c46a80" stroke-width="0.65"/>
<line x1="322.6" y1="710.9" x2="322.6" y2="744.6" stroke="#8791b4" stroke-width="0.75" stroke-dasharray="3.2 3.2"/>
<line x1="322.6" y1="833" x2="322.6" y2="849.9" stroke="#8791b4" stroke-width="0.75" stroke-dasharray="3.2 3.2"/>
<line x1="321.4" y1="709.4" x2="323.8" y2="709.4" stroke="#444" stroke-width="0.7"/>
<line x1="321.5" y1="849.9" x2="323.7" y2="849.9" stroke="#444" stroke-width="0.7"/>
<rect x="320.6" y="744.6" width="4" height="87.4" rx="0.6" fill="#f8faff" stroke="#909fcb" stroke-width="0.95"/>
<line x1="320.5" y1="798.7" x2="324.7" y2="798.7" stroke="#c46a80" stroke-width="0.65"/>
<line x1="395.7" y1="683.9" x2="395.7" y2="712.3" stroke="#8791b4" stroke-width="0.75" stroke-dasharray="3.2 3.2"/>
<line x1="395.7" y1="785" x2="395.7" y2="874.8" stroke="#8791b4" stroke-width="0.75" stroke-dasharray="3.2 3.2"/>
<line x1="394.5" y1="682.4" x2="396.9" y2="682.4" stroke="#444" stroke-width="0.7"/>
<line x1="394.6" y1="874.8" x2="396.8" y2="874.8" stroke="#444" stroke-width="0.7"/>
<rect x="393.7" y="712.3" width="4" height="71.7" rx="0.6" fill="#f8faff" stroke="#909fcb" stroke-width="0.95"/>
<line x1="393.6" y1="745.3" x2="397.8" y2="745.3" stroke="#c46a80" stroke-width="0.65"/>
<line x1="468.5" y1="712.9" x2="468.5" y2="740.6" stroke="#8791b4" stroke-width="0.75" stroke-dasharray="3.2 3.2"/>
<line x1="468.5" y1="813.9" x2="468.5" y2="860.1" stroke="#8791b4" stroke-width="0.75" stroke-dasharray="3.2 3.2"/>
<line x1="467.3" y1="711.4" x2="469.7" y2="711.4" stroke="#444" stroke-width="0.7"/>
<line x1="467.4" y1="860.1" x2="469.6" y2="860.1" stroke="#444" stroke-width="0.7"/>
<rect x="466.5" y="740.6" width="4" height="72.3" rx="0.6" fill="#f8faff" stroke="#909fcb" stroke-width="0.95"/>
<line x1="466.4" y1="786.2" x2="470.6" y2="786.2" stroke="#c46a80" stroke-width="0.65"/>
<line x1="541.6" y1="678.6" x2="541.6" y2="721.1" stroke="#8791b4" stroke-width="0.75" stroke-dasharray="3.2 3.2"/>
<line x1="541.6" y1="800.7" x2="541.6" y2="849.1" stroke="#8791b4" stroke-width="0.75" stroke-dasharray="3.2 3.2"/>
<line x1="540.4" y1="677.1" x2="542.8" y2="677.1" stroke="#444" stroke-width="0.7"/>
<line x1="540.5" y1="849.1" x2="542.7" y2="849.1" stroke="#444" stroke-width="0.7"/>
<rect x="539.6" y="721.1" width="4" height="78.6" rx="0.6" fill="#f8faff" stroke="#909fcb" stroke-width="0.95"/>
<line x1="539.5" y1="752.2" x2="543.7" y2="752.2" stroke="#c46a80" stroke-width="0.65"/>
<line x1="614.1" y1="660.7" x2="614.1" y2="692.4" stroke="#8791b4" stroke-width="0.75" stroke-dasharray="3.2 3.2"/>
<line x1="614.1" y1="761.2" x2="614.1" y2="836" stroke="#8791b4" stroke-width="0.75" stroke-dasharray="3.2 3.2"/>
<line x1="612.9" y1="659.2" x2="615.3" y2="659.2" stroke="#444" stroke-width="0.7"/>
<line x1="613" y1="836" x2="615.2" y2="836" stroke="#444" stroke-width="0.7"/>
<rect x="612.1" y="692.4" width="4" height="67.8" rx="0.6" fill="#f8faff" stroke="#909fcb" stroke-width="0.95"/>
<line x1="612" y1="717.7" x2="616.2" y2="717.7" stroke="#c46a80" stroke-width="0.65"/>
<line x1="687.2" y1="750.7" x2="687.2" y2="758.7" stroke="#8791b4" stroke-width="0.75" stroke-dasharray="3.2 3.2"/>
<line x1="687.2" y1="768.3" x2="687.2" y2="772" stroke="#8791b4" stroke-width="0.75" stroke-dasharray="3.2 3.2"/>
<line x1="686" y1="749.2" x2="688.4" y2="749.2" stroke="#444" stroke-width="0.7"/>
<line x1="686.1" y1="772" x2="688.3" y2="772" stroke="#444" stroke-width="0.7"/>
<rect x="685.2" y="758.7" width="4" height="8.6" rx="0.6" fill="#f8faff" stroke="#909fcb" stroke-width="0.95"/>
<line x1="685.1" y1="762.7" x2="689.3" y2="762.7" stroke="#c46a80" stroke-width="0.65"/>
<text x="129.9" y="921.6" font-family="Liberation Sans, sans-serif" font-style="italic" font-size="11.8" fill="#45567f" textLength="48.7" lengthAdjust="spacingAndGlyphs">MM-GAN</text>
<text x="205.7" y="921.6" font-family="Liberation Sans, sans-serif" font-style="italic" font-size="11.8" fill="#45567f" textLength="45.6" lengthAdjust="spacingAndGlyphs">NS-GAN</text>
<text x="278" y="921.6" font-family="Liberation Sans, sans-serif" font-style="italic" font-size="11.8" fill="#45567f" textLength="39.6" lengthAdjust="spacingAndGlyphs">LSGAN</text>
<text x="353.6" y="921.6" font-family="Liberation Sans, sans-serif" font-style="italic" font-size="11.8" fill="#45567f" textLength="35.2" lengthAdjust="spacingAndGlyphs">WGAN</text>
<text x="419" y="921.6" font-family="Liberation Sans, sans-serif" font-style="italic" font-size="11.8" fill="#45567f" textLength="56" lengthAdjust="spacingAndGlyphs">WGAN GP</text>
<text x="501.3" y="921.6" font-family="Liberation Sans, sans-serif" font-style="italic" font-size="11.8" fill="#45567f" textLength="49.7" lengthAdjust="spacingAndGlyphs">DRAGAN</text>
<text x="576.4" y="921.6" font-family="Liberation Sans, sans-serif" font-style="italic" font-size="11.8" fill="#45567f" textLength="40.6" lengthAdjust="spacingAndGlyphs">BEGAN</text>
<text x="658.6" y="921.6" font-family="Liberation Sans, sans-serif" font-style="italic" font-size="11.8" fill="#45567f" textLength="23.2" lengthAdjust="spacingAndGlyphs">VAE</text>
</svg>
</body></html>
